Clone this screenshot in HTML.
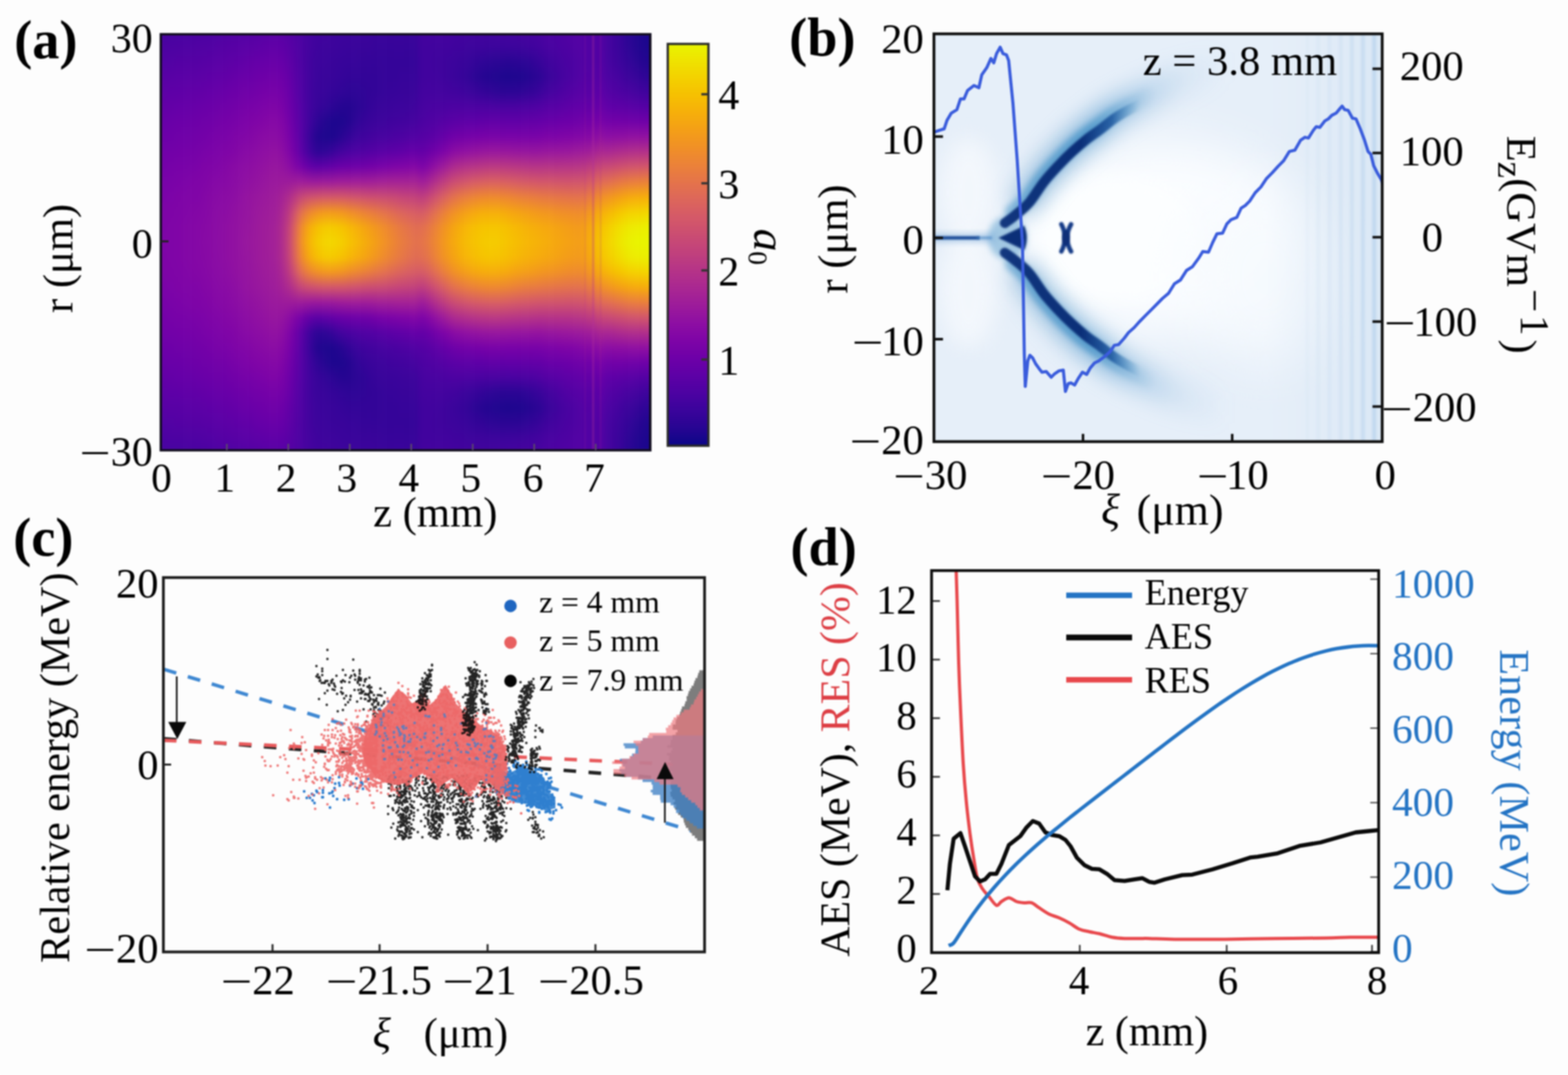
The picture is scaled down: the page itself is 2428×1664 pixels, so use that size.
<!DOCTYPE html>
<html lang="en"><head><meta charset="utf-8"><title>Figure</title>
<style>
html,body{margin:0;padding:0;background:#fdfdfd;}
body{width:2428px;height:1664px;overflow:hidden;}
svg{display:block;filter:blur(1px);}
text{font-family:"Liberation Serif","DejaVu Serif",serif;fill:#000;}
.t{font-size:66px;}
.pl{font-size:84px;font-weight:bold;}
</style></head><body>
<svg width="2428" height="1664" viewBox="0 0 2428 1664">
<rect x="0" y="0" width="2428" height="1664" fill="#fdfdfd"/>

<defs></defs>
<g id="pa">
<defs><linearGradient id="h0" x1="0" y1="0" x2="0" y2="1"><stop offset="0" stop-color="#4703a0"/><stop offset="0.0357" stop-color="#4c02a2"/><stop offset="0.0714" stop-color="#5202a4"/><stop offset="0.107" stop-color="#5801a5"/><stop offset="0.143" stop-color="#5d01a6"/><stop offset="0.179" stop-color="#6300a7"/><stop offset="0.214" stop-color="#6800a8"/><stop offset="0.25" stop-color="#6d00a8"/><stop offset="0.286" stop-color="#7201a8"/><stop offset="0.321" stop-color="#7501a8"/><stop offset="0.357" stop-color="#7903a8"/><stop offset="0.393" stop-color="#7b03a8"/><stop offset="0.429" stop-color="#7e04a7"/><stop offset="0.464" stop-color="#7e04a7"/><stop offset="0.5" stop-color="#7f05a7"/><stop offset="0.536" stop-color="#7e04a7"/><stop offset="0.571" stop-color="#7e04a7"/><stop offset="0.607" stop-color="#7b03a8"/><stop offset="0.643" stop-color="#7802a8"/><stop offset="0.679" stop-color="#7501a8"/><stop offset="0.714" stop-color="#7201a8"/><stop offset="0.75" stop-color="#6d00a8"/><stop offset="0.786" stop-color="#6800a8"/><stop offset="0.821" stop-color="#6300a7"/><stop offset="0.857" stop-color="#5d01a6"/><stop offset="0.893" stop-color="#5801a5"/><stop offset="0.929" stop-color="#5202a4"/><stop offset="0.964" stop-color="#4c02a2"/><stop offset="1" stop-color="#4703a0"/></linearGradient><linearGradient id="h1" x1="0" y1="0" x2="0" y2="1"><stop offset="0" stop-color="#4703a0"/><stop offset="0.0357" stop-color="#4c02a2"/><stop offset="0.0714" stop-color="#5202a4"/><stop offset="0.107" stop-color="#5801a5"/><stop offset="0.143" stop-color="#5d01a6"/><stop offset="0.179" stop-color="#6300a7"/><stop offset="0.214" stop-color="#6800a8"/><stop offset="0.25" stop-color="#6d00a8"/><stop offset="0.286" stop-color="#7201a8"/><stop offset="0.321" stop-color="#7501a8"/><stop offset="0.357" stop-color="#7903a8"/><stop offset="0.393" stop-color="#7b03a8"/><stop offset="0.429" stop-color="#7e04a7"/><stop offset="0.464" stop-color="#7e04a7"/><stop offset="0.5" stop-color="#7f05a7"/><stop offset="0.536" stop-color="#7e04a7"/><stop offset="0.571" stop-color="#7e04a7"/><stop offset="0.607" stop-color="#7b03a8"/><stop offset="0.643" stop-color="#7802a8"/><stop offset="0.679" stop-color="#7501a8"/><stop offset="0.714" stop-color="#7201a8"/><stop offset="0.75" stop-color="#6d00a8"/><stop offset="0.786" stop-color="#6800a8"/><stop offset="0.821" stop-color="#6300a7"/><stop offset="0.857" stop-color="#5d01a6"/><stop offset="0.893" stop-color="#5801a5"/><stop offset="0.929" stop-color="#5202a4"/><stop offset="0.964" stop-color="#4c02a2"/><stop offset="1" stop-color="#4703a0"/></linearGradient><linearGradient id="h2" x1="0" y1="0" x2="0" y2="1"><stop offset="0" stop-color="#4703a0"/><stop offset="0.0357" stop-color="#4d02a2"/><stop offset="0.0714" stop-color="#5202a4"/><stop offset="0.107" stop-color="#5801a5"/><stop offset="0.143" stop-color="#5e00a7"/><stop offset="0.179" stop-color="#6300a7"/><stop offset="0.214" stop-color="#6900a8"/><stop offset="0.25" stop-color="#6d00a8"/><stop offset="0.286" stop-color="#7201a8"/><stop offset="0.321" stop-color="#7602a8"/><stop offset="0.357" stop-color="#7903a8"/><stop offset="0.393" stop-color="#7c04a8"/><stop offset="0.429" stop-color="#7e04a7"/><stop offset="0.464" stop-color="#7f05a7"/><stop offset="0.5" stop-color="#7f05a7"/><stop offset="0.536" stop-color="#7f05a7"/><stop offset="0.571" stop-color="#7e04a7"/><stop offset="0.607" stop-color="#7c04a8"/><stop offset="0.643" stop-color="#7903a8"/><stop offset="0.679" stop-color="#7602a8"/><stop offset="0.714" stop-color="#7201a8"/><stop offset="0.75" stop-color="#6d00a8"/><stop offset="0.786" stop-color="#6900a8"/><stop offset="0.821" stop-color="#6300a7"/><stop offset="0.857" stop-color="#5e00a7"/><stop offset="0.893" stop-color="#5801a5"/><stop offset="0.929" stop-color="#5202a4"/><stop offset="0.964" stop-color="#4d02a2"/><stop offset="1" stop-color="#4703a0"/></linearGradient><linearGradient id="h3" x1="0" y1="0" x2="0" y2="1"><stop offset="0" stop-color="#4903a1"/><stop offset="0.0357" stop-color="#4d02a2"/><stop offset="0.0714" stop-color="#5401a4"/><stop offset="0.107" stop-color="#5a01a6"/><stop offset="0.143" stop-color="#5e00a7"/><stop offset="0.179" stop-color="#6500a8"/><stop offset="0.214" stop-color="#6b00a8"/><stop offset="0.25" stop-color="#6f01a8"/><stop offset="0.286" stop-color="#7301a8"/><stop offset="0.321" stop-color="#7802a8"/><stop offset="0.357" stop-color="#7b03a8"/><stop offset="0.393" stop-color="#7e04a7"/><stop offset="0.429" stop-color="#7f05a7"/><stop offset="0.464" stop-color="#8005a7"/><stop offset="0.5" stop-color="#8005a7"/><stop offset="0.536" stop-color="#8005a7"/><stop offset="0.571" stop-color="#7f05a7"/><stop offset="0.607" stop-color="#7e04a7"/><stop offset="0.643" stop-color="#7b03a8"/><stop offset="0.679" stop-color="#7802a8"/><stop offset="0.714" stop-color="#7301a8"/><stop offset="0.75" stop-color="#6f01a8"/><stop offset="0.786" stop-color="#6900a8"/><stop offset="0.821" stop-color="#6500a8"/><stop offset="0.857" stop-color="#5e00a7"/><stop offset="0.893" stop-color="#5801a5"/><stop offset="0.929" stop-color="#5401a4"/><stop offset="0.964" stop-color="#4d02a2"/><stop offset="1" stop-color="#4703a0"/></linearGradient><linearGradient id="h4" x1="0" y1="0" x2="0" y2="1"><stop offset="0" stop-color="#4903a1"/><stop offset="0.0357" stop-color="#4f02a3"/><stop offset="0.0714" stop-color="#5401a4"/><stop offset="0.107" stop-color="#5a01a6"/><stop offset="0.143" stop-color="#6000a7"/><stop offset="0.179" stop-color="#6600a8"/><stop offset="0.214" stop-color="#6b00a8"/><stop offset="0.25" stop-color="#7001a8"/><stop offset="0.286" stop-color="#7501a8"/><stop offset="0.321" stop-color="#7802a8"/><stop offset="0.357" stop-color="#7c04a8"/><stop offset="0.393" stop-color="#7f05a7"/><stop offset="0.429" stop-color="#8005a7"/><stop offset="0.464" stop-color="#8206a6"/><stop offset="0.5" stop-color="#8206a6"/><stop offset="0.536" stop-color="#8206a6"/><stop offset="0.571" stop-color="#8005a7"/><stop offset="0.607" stop-color="#7f05a7"/><stop offset="0.643" stop-color="#7c04a8"/><stop offset="0.679" stop-color="#7802a8"/><stop offset="0.714" stop-color="#7501a8"/><stop offset="0.75" stop-color="#7001a8"/><stop offset="0.786" stop-color="#6b00a8"/><stop offset="0.821" stop-color="#6600a8"/><stop offset="0.857" stop-color="#6000a7"/><stop offset="0.893" stop-color="#5a01a6"/><stop offset="0.929" stop-color="#5401a4"/><stop offset="0.964" stop-color="#4d02a2"/><stop offset="1" stop-color="#4903a1"/></linearGradient><linearGradient id="h5" x1="0" y1="0" x2="0" y2="1"><stop offset="0" stop-color="#4903a1"/><stop offset="0.0357" stop-color="#4f02a3"/><stop offset="0.0714" stop-color="#5501a4"/><stop offset="0.107" stop-color="#5b01a6"/><stop offset="0.143" stop-color="#6100a7"/><stop offset="0.179" stop-color="#6600a8"/><stop offset="0.214" stop-color="#6c00a8"/><stop offset="0.25" stop-color="#7001a8"/><stop offset="0.286" stop-color="#7501a8"/><stop offset="0.321" stop-color="#7903a8"/><stop offset="0.357" stop-color="#7e04a7"/><stop offset="0.393" stop-color="#8005a7"/><stop offset="0.429" stop-color="#8206a6"/><stop offset="0.464" stop-color="#8307a6"/><stop offset="0.5" stop-color="#8307a6"/><stop offset="0.536" stop-color="#8307a6"/><stop offset="0.571" stop-color="#8206a6"/><stop offset="0.607" stop-color="#7f05a7"/><stop offset="0.643" stop-color="#7e04a7"/><stop offset="0.679" stop-color="#7903a8"/><stop offset="0.714" stop-color="#7501a8"/><stop offset="0.75" stop-color="#7001a8"/><stop offset="0.786" stop-color="#6c00a8"/><stop offset="0.821" stop-color="#6600a8"/><stop offset="0.857" stop-color="#6000a7"/><stop offset="0.893" stop-color="#5b01a6"/><stop offset="0.929" stop-color="#5501a4"/><stop offset="0.964" stop-color="#4f02a3"/><stop offset="1" stop-color="#4903a1"/></linearGradient><linearGradient id="h6" x1="0" y1="0" x2="0" y2="1"><stop offset="0" stop-color="#4a02a1"/><stop offset="0.0357" stop-color="#5102a3"/><stop offset="0.0714" stop-color="#5501a4"/><stop offset="0.107" stop-color="#5b01a6"/><stop offset="0.143" stop-color="#6100a7"/><stop offset="0.179" stop-color="#6800a8"/><stop offset="0.214" stop-color="#6d00a8"/><stop offset="0.25" stop-color="#7201a8"/><stop offset="0.286" stop-color="#7602a8"/><stop offset="0.321" stop-color="#7b03a8"/><stop offset="0.357" stop-color="#7f05a7"/><stop offset="0.393" stop-color="#8005a7"/><stop offset="0.429" stop-color="#8307a6"/><stop offset="0.464" stop-color="#8508a6"/><stop offset="0.5" stop-color="#8508a6"/><stop offset="0.536" stop-color="#8508a6"/><stop offset="0.571" stop-color="#8307a6"/><stop offset="0.607" stop-color="#8005a7"/><stop offset="0.643" stop-color="#7e04a7"/><stop offset="0.679" stop-color="#7b03a8"/><stop offset="0.714" stop-color="#7602a8"/><stop offset="0.75" stop-color="#7201a8"/><stop offset="0.786" stop-color="#6d00a8"/><stop offset="0.821" stop-color="#6800a8"/><stop offset="0.857" stop-color="#6100a7"/><stop offset="0.893" stop-color="#5b01a6"/><stop offset="0.929" stop-color="#5501a4"/><stop offset="0.964" stop-color="#4f02a3"/><stop offset="1" stop-color="#4a02a1"/></linearGradient><linearGradient id="h7" x1="0" y1="0" x2="0" y2="1"><stop offset="0" stop-color="#4c02a2"/><stop offset="0.0357" stop-color="#5102a3"/><stop offset="0.0714" stop-color="#5701a5"/><stop offset="0.107" stop-color="#5d01a6"/><stop offset="0.143" stop-color="#6300a7"/><stop offset="0.179" stop-color="#6900a8"/><stop offset="0.214" stop-color="#6f01a8"/><stop offset="0.25" stop-color="#7301a8"/><stop offset="0.286" stop-color="#7903a8"/><stop offset="0.321" stop-color="#7e04a7"/><stop offset="0.357" stop-color="#8005a7"/><stop offset="0.393" stop-color="#8307a6"/><stop offset="0.429" stop-color="#8508a6"/><stop offset="0.464" stop-color="#8609a5"/><stop offset="0.5" stop-color="#870aa5"/><stop offset="0.536" stop-color="#8609a5"/><stop offset="0.571" stop-color="#8508a6"/><stop offset="0.607" stop-color="#8307a6"/><stop offset="0.643" stop-color="#8005a7"/><stop offset="0.679" stop-color="#7c04a8"/><stop offset="0.714" stop-color="#7903a8"/><stop offset="0.75" stop-color="#7301a8"/><stop offset="0.786" stop-color="#6f01a8"/><stop offset="0.821" stop-color="#6900a8"/><stop offset="0.857" stop-color="#6300a7"/><stop offset="0.893" stop-color="#5d01a6"/><stop offset="0.929" stop-color="#5701a5"/><stop offset="0.964" stop-color="#5102a3"/><stop offset="1" stop-color="#4a02a1"/></linearGradient><linearGradient id="h8" x1="0" y1="0" x2="0" y2="1"><stop offset="0" stop-color="#4c02a2"/><stop offset="0.0357" stop-color="#5202a4"/><stop offset="0.0714" stop-color="#5801a5"/><stop offset="0.107" stop-color="#5e00a7"/><stop offset="0.143" stop-color="#6500a8"/><stop offset="0.179" stop-color="#6b00a8"/><stop offset="0.214" stop-color="#7001a8"/><stop offset="0.25" stop-color="#7602a8"/><stop offset="0.286" stop-color="#7b03a8"/><stop offset="0.321" stop-color="#7f05a7"/><stop offset="0.357" stop-color="#8307a6"/><stop offset="0.393" stop-color="#8609a5"/><stop offset="0.429" stop-color="#870aa5"/><stop offset="0.464" stop-color="#890ba5"/><stop offset="0.5" stop-color="#890ba5"/><stop offset="0.536" stop-color="#890ba5"/><stop offset="0.571" stop-color="#870aa5"/><stop offset="0.607" stop-color="#8508a6"/><stop offset="0.643" stop-color="#8206a6"/><stop offset="0.679" stop-color="#7f05a7"/><stop offset="0.714" stop-color="#7b03a8"/><stop offset="0.75" stop-color="#7602a8"/><stop offset="0.786" stop-color="#7001a8"/><stop offset="0.821" stop-color="#6b00a8"/><stop offset="0.857" stop-color="#6500a8"/><stop offset="0.893" stop-color="#5e00a7"/><stop offset="0.929" stop-color="#5801a5"/><stop offset="0.964" stop-color="#5202a4"/><stop offset="1" stop-color="#4c02a2"/></linearGradient><linearGradient id="h9" x1="0" y1="0" x2="0" y2="1"><stop offset="0" stop-color="#4d02a2"/><stop offset="0.0357" stop-color="#5401a4"/><stop offset="0.0714" stop-color="#5a01a6"/><stop offset="0.107" stop-color="#6000a7"/><stop offset="0.143" stop-color="#6600a8"/><stop offset="0.179" stop-color="#6c00a8"/><stop offset="0.214" stop-color="#7201a8"/><stop offset="0.25" stop-color="#7802a8"/><stop offset="0.286" stop-color="#7c04a8"/><stop offset="0.321" stop-color="#8005a7"/><stop offset="0.357" stop-color="#8508a6"/><stop offset="0.393" stop-color="#870aa5"/><stop offset="0.429" stop-color="#8a0ca4"/><stop offset="0.464" stop-color="#8a0ca4"/><stop offset="0.5" stop-color="#8b0da4"/><stop offset="0.536" stop-color="#8a0ca4"/><stop offset="0.571" stop-color="#890ba5"/><stop offset="0.607" stop-color="#870aa5"/><stop offset="0.643" stop-color="#8508a6"/><stop offset="0.679" stop-color="#8005a7"/><stop offset="0.714" stop-color="#7c04a8"/><stop offset="0.75" stop-color="#7802a8"/><stop offset="0.786" stop-color="#7201a8"/><stop offset="0.821" stop-color="#6c00a8"/><stop offset="0.857" stop-color="#6600a8"/><stop offset="0.893" stop-color="#6000a7"/><stop offset="0.929" stop-color="#5a01a6"/><stop offset="0.964" stop-color="#5401a4"/><stop offset="1" stop-color="#4d02a2"/></linearGradient><linearGradient id="h10" x1="0" y1="0" x2="0" y2="1"><stop offset="0" stop-color="#4f02a3"/><stop offset="0.0357" stop-color="#5501a4"/><stop offset="0.0714" stop-color="#5b01a6"/><stop offset="0.107" stop-color="#6100a7"/><stop offset="0.143" stop-color="#6800a8"/><stop offset="0.179" stop-color="#6f01a8"/><stop offset="0.214" stop-color="#7501a8"/><stop offset="0.25" stop-color="#7903a8"/><stop offset="0.286" stop-color="#7f05a7"/><stop offset="0.321" stop-color="#8307a6"/><stop offset="0.357" stop-color="#8609a5"/><stop offset="0.393" stop-color="#8a0ca4"/><stop offset="0.429" stop-color="#8b0da4"/><stop offset="0.464" stop-color="#8d0ea3"/><stop offset="0.5" stop-color="#8d0ea3"/><stop offset="0.536" stop-color="#8d0ea3"/><stop offset="0.571" stop-color="#8b0da4"/><stop offset="0.607" stop-color="#890ba5"/><stop offset="0.643" stop-color="#8609a5"/><stop offset="0.679" stop-color="#8307a6"/><stop offset="0.714" stop-color="#7f05a7"/><stop offset="0.75" stop-color="#7903a8"/><stop offset="0.786" stop-color="#7301a8"/><stop offset="0.821" stop-color="#6d00a8"/><stop offset="0.857" stop-color="#6800a8"/><stop offset="0.893" stop-color="#6100a7"/><stop offset="0.929" stop-color="#5b01a6"/><stop offset="0.964" stop-color="#5501a4"/><stop offset="1" stop-color="#4d02a2"/></linearGradient><linearGradient id="h11" x1="0" y1="0" x2="0" y2="1"><stop offset="0" stop-color="#5102a3"/><stop offset="0.0357" stop-color="#5701a5"/><stop offset="0.0714" stop-color="#5d01a6"/><stop offset="0.107" stop-color="#6300a7"/><stop offset="0.143" stop-color="#6b00a8"/><stop offset="0.179" stop-color="#7001a8"/><stop offset="0.214" stop-color="#7602a8"/><stop offset="0.25" stop-color="#7c04a8"/><stop offset="0.286" stop-color="#8005a7"/><stop offset="0.321" stop-color="#8609a5"/><stop offset="0.357" stop-color="#890ba5"/><stop offset="0.393" stop-color="#8b0da4"/><stop offset="0.429" stop-color="#8e0fa3"/><stop offset="0.464" stop-color="#9010a2"/><stop offset="0.5" stop-color="#9010a2"/><stop offset="0.536" stop-color="#9010a2"/><stop offset="0.571" stop-color="#8e0fa3"/><stop offset="0.607" stop-color="#8b0da4"/><stop offset="0.643" stop-color="#890ba5"/><stop offset="0.679" stop-color="#8508a6"/><stop offset="0.714" stop-color="#8005a7"/><stop offset="0.75" stop-color="#7c04a8"/><stop offset="0.786" stop-color="#7602a8"/><stop offset="0.821" stop-color="#7001a8"/><stop offset="0.857" stop-color="#6900a8"/><stop offset="0.893" stop-color="#6300a7"/><stop offset="0.929" stop-color="#5d01a6"/><stop offset="0.964" stop-color="#5701a5"/><stop offset="1" stop-color="#4f02a3"/></linearGradient><linearGradient id="h12" x1="0" y1="0" x2="0" y2="1"><stop offset="0" stop-color="#5202a4"/><stop offset="0.0357" stop-color="#5801a5"/><stop offset="0.0714" stop-color="#5e00a7"/><stop offset="0.107" stop-color="#6600a8"/><stop offset="0.143" stop-color="#6c00a8"/><stop offset="0.179" stop-color="#7301a8"/><stop offset="0.214" stop-color="#7903a8"/><stop offset="0.25" stop-color="#7f05a7"/><stop offset="0.286" stop-color="#8307a6"/><stop offset="0.321" stop-color="#890ba5"/><stop offset="0.357" stop-color="#8b0da4"/><stop offset="0.393" stop-color="#8e0fa3"/><stop offset="0.429" stop-color="#9111a1"/><stop offset="0.464" stop-color="#9212a1"/><stop offset="0.5" stop-color="#9212a1"/><stop offset="0.536" stop-color="#9212a1"/><stop offset="0.571" stop-color="#9111a1"/><stop offset="0.607" stop-color="#8e0fa3"/><stop offset="0.643" stop-color="#8b0da4"/><stop offset="0.679" stop-color="#870aa5"/><stop offset="0.714" stop-color="#8307a6"/><stop offset="0.75" stop-color="#7f05a7"/><stop offset="0.786" stop-color="#7903a8"/><stop offset="0.821" stop-color="#7201a8"/><stop offset="0.857" stop-color="#6c00a8"/><stop offset="0.893" stop-color="#6500a8"/><stop offset="0.929" stop-color="#5e00a7"/><stop offset="0.964" stop-color="#5801a5"/><stop offset="1" stop-color="#5102a3"/></linearGradient><linearGradient id="h13" x1="0" y1="0" x2="0" y2="1"><stop offset="0" stop-color="#5202a4"/><stop offset="0.0357" stop-color="#5a01a6"/><stop offset="0.0714" stop-color="#6000a7"/><stop offset="0.107" stop-color="#6800a8"/><stop offset="0.143" stop-color="#6f01a8"/><stop offset="0.179" stop-color="#7501a8"/><stop offset="0.214" stop-color="#7b03a8"/><stop offset="0.25" stop-color="#8005a7"/><stop offset="0.286" stop-color="#8609a5"/><stop offset="0.321" stop-color="#8b0da4"/><stop offset="0.357" stop-color="#8e0fa3"/><stop offset="0.393" stop-color="#9212a1"/><stop offset="0.429" stop-color="#9313a0"/><stop offset="0.464" stop-color="#95149f"/><stop offset="0.5" stop-color="#96169f"/><stop offset="0.536" stop-color="#95149f"/><stop offset="0.571" stop-color="#9313a0"/><stop offset="0.607" stop-color="#9212a1"/><stop offset="0.643" stop-color="#8e0fa3"/><stop offset="0.679" stop-color="#8a0ca4"/><stop offset="0.714" stop-color="#8609a5"/><stop offset="0.75" stop-color="#8005a7"/><stop offset="0.786" stop-color="#7b03a8"/><stop offset="0.821" stop-color="#7501a8"/><stop offset="0.857" stop-color="#6d00a8"/><stop offset="0.893" stop-color="#6800a8"/><stop offset="0.929" stop-color="#6000a7"/><stop offset="0.964" stop-color="#5a01a6"/><stop offset="1" stop-color="#5202a4"/></linearGradient><linearGradient id="h14" x1="0" y1="0" x2="0" y2="1"><stop offset="0" stop-color="#5401a4"/><stop offset="0.0357" stop-color="#5b01a6"/><stop offset="0.0714" stop-color="#6300a7"/><stop offset="0.107" stop-color="#6900a8"/><stop offset="0.143" stop-color="#7001a8"/><stop offset="0.179" stop-color="#7802a8"/><stop offset="0.214" stop-color="#7e04a7"/><stop offset="0.25" stop-color="#8307a6"/><stop offset="0.286" stop-color="#890ba5"/><stop offset="0.321" stop-color="#8d0ea3"/><stop offset="0.357" stop-color="#9111a1"/><stop offset="0.393" stop-color="#95149f"/><stop offset="0.429" stop-color="#96169f"/><stop offset="0.464" stop-color="#97179e"/><stop offset="0.5" stop-color="#99189d"/><stop offset="0.536" stop-color="#97179e"/><stop offset="0.571" stop-color="#96169f"/><stop offset="0.607" stop-color="#95149f"/><stop offset="0.643" stop-color="#9111a1"/><stop offset="0.679" stop-color="#8d0ea3"/><stop offset="0.714" stop-color="#890ba5"/><stop offset="0.75" stop-color="#8307a6"/><stop offset="0.786" stop-color="#7e04a7"/><stop offset="0.821" stop-color="#7602a8"/><stop offset="0.857" stop-color="#7001a8"/><stop offset="0.893" stop-color="#6900a8"/><stop offset="0.929" stop-color="#6100a7"/><stop offset="0.964" stop-color="#5b01a6"/><stop offset="1" stop-color="#5401a4"/></linearGradient><linearGradient id="h15" x1="0" y1="0" x2="0" y2="1"><stop offset="0" stop-color="#5501a4"/><stop offset="0.0357" stop-color="#5d01a6"/><stop offset="0.0714" stop-color="#6500a8"/><stop offset="0.107" stop-color="#6c00a8"/><stop offset="0.143" stop-color="#7201a8"/><stop offset="0.179" stop-color="#7903a8"/><stop offset="0.214" stop-color="#8005a7"/><stop offset="0.25" stop-color="#8609a5"/><stop offset="0.286" stop-color="#8b0da4"/><stop offset="0.321" stop-color="#9010a2"/><stop offset="0.357" stop-color="#9313a0"/><stop offset="0.393" stop-color="#97179e"/><stop offset="0.429" stop-color="#9a199d"/><stop offset="0.464" stop-color="#9b1a9c"/><stop offset="0.5" stop-color="#9b1a9c"/><stop offset="0.536" stop-color="#9b1a9c"/><stop offset="0.571" stop-color="#99189d"/><stop offset="0.607" stop-color="#97179e"/><stop offset="0.643" stop-color="#9313a0"/><stop offset="0.679" stop-color="#9010a2"/><stop offset="0.714" stop-color="#8b0da4"/><stop offset="0.75" stop-color="#8609a5"/><stop offset="0.786" stop-color="#8005a7"/><stop offset="0.821" stop-color="#7903a8"/><stop offset="0.857" stop-color="#7201a8"/><stop offset="0.893" stop-color="#6b00a8"/><stop offset="0.929" stop-color="#6500a8"/><stop offset="0.964" stop-color="#5d01a6"/><stop offset="1" stop-color="#5501a4"/></linearGradient><linearGradient id="h16" x1="0" y1="0" x2="0" y2="1"><stop offset="0" stop-color="#5701a5"/><stop offset="0.0357" stop-color="#5e00a7"/><stop offset="0.0714" stop-color="#6600a8"/><stop offset="0.107" stop-color="#6d00a8"/><stop offset="0.143" stop-color="#7501a8"/><stop offset="0.179" stop-color="#7c04a8"/><stop offset="0.214" stop-color="#8206a6"/><stop offset="0.25" stop-color="#890ba5"/><stop offset="0.286" stop-color="#8e0fa3"/><stop offset="0.321" stop-color="#9212a1"/><stop offset="0.357" stop-color="#96169f"/><stop offset="0.393" stop-color="#9a199d"/><stop offset="0.429" stop-color="#9c1b9b"/><stop offset="0.464" stop-color="#9e1c9a"/><stop offset="0.5" stop-color="#9e1c9a"/><stop offset="0.536" stop-color="#9e1c9a"/><stop offset="0.571" stop-color="#9c1b9b"/><stop offset="0.607" stop-color="#9a199d"/><stop offset="0.643" stop-color="#96169f"/><stop offset="0.679" stop-color="#9212a1"/><stop offset="0.714" stop-color="#8d0ea3"/><stop offset="0.75" stop-color="#870aa5"/><stop offset="0.786" stop-color="#8206a6"/><stop offset="0.821" stop-color="#7b03a8"/><stop offset="0.857" stop-color="#7301a8"/><stop offset="0.893" stop-color="#6d00a8"/><stop offset="0.929" stop-color="#6600a8"/><stop offset="0.964" stop-color="#5e00a7"/><stop offset="1" stop-color="#5701a5"/></linearGradient><linearGradient id="h17" x1="0" y1="0" x2="0" y2="1"><stop offset="0" stop-color="#5801a5"/><stop offset="0.0357" stop-color="#6000a7"/><stop offset="0.0714" stop-color="#6800a8"/><stop offset="0.107" stop-color="#6f01a8"/><stop offset="0.143" stop-color="#7602a8"/><stop offset="0.179" stop-color="#7e04a7"/><stop offset="0.214" stop-color="#8508a6"/><stop offset="0.25" stop-color="#8a0ca4"/><stop offset="0.286" stop-color="#9010a2"/><stop offset="0.321" stop-color="#95149f"/><stop offset="0.357" stop-color="#99189d"/><stop offset="0.393" stop-color="#9c1b9b"/><stop offset="0.429" stop-color="#9f1d9a"/><stop offset="0.464" stop-color="#a01e99"/><stop offset="0.5" stop-color="#a11f98"/><stop offset="0.536" stop-color="#a01e99"/><stop offset="0.571" stop-color="#9f1d9a"/><stop offset="0.607" stop-color="#9c1b9b"/><stop offset="0.643" stop-color="#99189d"/><stop offset="0.679" stop-color="#95149f"/><stop offset="0.714" stop-color="#9010a2"/><stop offset="0.75" stop-color="#8a0ca4"/><stop offset="0.786" stop-color="#8307a6"/><stop offset="0.821" stop-color="#7e04a7"/><stop offset="0.857" stop-color="#7602a8"/><stop offset="0.893" stop-color="#6f01a8"/><stop offset="0.929" stop-color="#6800a8"/><stop offset="0.964" stop-color="#6000a7"/><stop offset="1" stop-color="#5801a5"/></linearGradient><linearGradient id="h18" x1="0" y1="0" x2="0" y2="1"><stop offset="0" stop-color="#5a01a6"/><stop offset="0.0357" stop-color="#6000a7"/><stop offset="0.0714" stop-color="#6800a8"/><stop offset="0.107" stop-color="#6f01a8"/><stop offset="0.143" stop-color="#7602a8"/><stop offset="0.179" stop-color="#7e04a7"/><stop offset="0.214" stop-color="#8508a6"/><stop offset="0.25" stop-color="#8a0ca4"/><stop offset="0.286" stop-color="#9111a1"/><stop offset="0.321" stop-color="#96169f"/><stop offset="0.357" stop-color="#9a199d"/><stop offset="0.393" stop-color="#9f1d9a"/><stop offset="0.429" stop-color="#a11f98"/><stop offset="0.464" stop-color="#a42296"/><stop offset="0.5" stop-color="#a42296"/><stop offset="0.536" stop-color="#a42296"/><stop offset="0.571" stop-color="#a11f98"/><stop offset="0.607" stop-color="#9f1d9a"/><stop offset="0.643" stop-color="#9a199d"/><stop offset="0.679" stop-color="#96169f"/><stop offset="0.714" stop-color="#9111a1"/><stop offset="0.75" stop-color="#8a0ca4"/><stop offset="0.786" stop-color="#8508a6"/><stop offset="0.821" stop-color="#7e04a7"/><stop offset="0.857" stop-color="#7602a8"/><stop offset="0.893" stop-color="#6f01a8"/><stop offset="0.929" stop-color="#6800a8"/><stop offset="0.964" stop-color="#6000a7"/><stop offset="1" stop-color="#5801a5"/></linearGradient><linearGradient id="h19" x1="0" y1="0" x2="0" y2="1"><stop offset="0" stop-color="#5801a5"/><stop offset="0.0357" stop-color="#5e00a7"/><stop offset="0.0714" stop-color="#6500a8"/><stop offset="0.107" stop-color="#6c00a8"/><stop offset="0.143" stop-color="#7201a8"/><stop offset="0.179" stop-color="#7802a8"/><stop offset="0.214" stop-color="#7f05a7"/><stop offset="0.25" stop-color="#8508a6"/><stop offset="0.286" stop-color="#8b0da4"/><stop offset="0.321" stop-color="#9313a0"/><stop offset="0.357" stop-color="#9c1b9b"/><stop offset="0.393" stop-color="#a62494"/><stop offset="0.429" stop-color="#ad2b8f"/><stop offset="0.464" stop-color="#b12f8b"/><stop offset="0.5" stop-color="#b2308a"/><stop offset="0.536" stop-color="#b12f8b"/><stop offset="0.571" stop-color="#ad2b8f"/><stop offset="0.607" stop-color="#a62494"/><stop offset="0.643" stop-color="#9c1b9b"/><stop offset="0.679" stop-color="#9313a0"/><stop offset="0.714" stop-color="#8b0da4"/><stop offset="0.75" stop-color="#8508a6"/><stop offset="0.786" stop-color="#7e04a7"/><stop offset="0.821" stop-color="#7802a8"/><stop offset="0.857" stop-color="#7201a8"/><stop offset="0.893" stop-color="#6b00a8"/><stop offset="0.929" stop-color="#6500a8"/><stop offset="0.964" stop-color="#5e00a7"/><stop offset="1" stop-color="#5701a5"/></linearGradient><linearGradient id="h20" x1="0" y1="0" x2="0" y2="1"><stop offset="0" stop-color="#5401a4"/><stop offset="0.0357" stop-color="#5801a5"/><stop offset="0.0714" stop-color="#5d01a6"/><stop offset="0.107" stop-color="#6300a7"/><stop offset="0.143" stop-color="#6800a8"/><stop offset="0.179" stop-color="#6c00a8"/><stop offset="0.214" stop-color="#7201a8"/><stop offset="0.25" stop-color="#7802a8"/><stop offset="0.286" stop-color="#7f05a7"/><stop offset="0.321" stop-color="#8b0da4"/><stop offset="0.357" stop-color="#9c1b9b"/><stop offset="0.393" stop-color="#b02e8c"/><stop offset="0.429" stop-color="#be3d7f"/><stop offset="0.464" stop-color="#c74777"/><stop offset="0.5" stop-color="#c94a75"/><stop offset="0.536" stop-color="#c74777"/><stop offset="0.571" stop-color="#be3d7f"/><stop offset="0.607" stop-color="#af2d8d"/><stop offset="0.643" stop-color="#9c1b9b"/><stop offset="0.679" stop-color="#8a0ca4"/><stop offset="0.714" stop-color="#7f05a7"/><stop offset="0.75" stop-color="#7802a8"/><stop offset="0.786" stop-color="#7201a8"/><stop offset="0.821" stop-color="#6c00a8"/><stop offset="0.857" stop-color="#6800a8"/><stop offset="0.893" stop-color="#6100a7"/><stop offset="0.929" stop-color="#5d01a6"/><stop offset="0.964" stop-color="#5801a5"/><stop offset="1" stop-color="#5401a4"/></linearGradient><linearGradient id="h21" x1="0" y1="0" x2="0" y2="1"><stop offset="0" stop-color="#4f02a3"/><stop offset="0.0357" stop-color="#5202a4"/><stop offset="0.0714" stop-color="#5401a4"/><stop offset="0.107" stop-color="#5701a5"/><stop offset="0.143" stop-color="#5a01a6"/><stop offset="0.179" stop-color="#5e00a7"/><stop offset="0.214" stop-color="#6100a7"/><stop offset="0.25" stop-color="#6600a8"/><stop offset="0.286" stop-color="#6d00a8"/><stop offset="0.321" stop-color="#7f05a7"/><stop offset="0.357" stop-color="#9f1d9a"/><stop offset="0.393" stop-color="#be3d7f"/><stop offset="0.429" stop-color="#d65c66"/><stop offset="0.464" stop-color="#e26e51"/><stop offset="0.5" stop-color="#e4734b"/><stop offset="0.536" stop-color="#e26e51"/><stop offset="0.571" stop-color="#d55b67"/><stop offset="0.607" stop-color="#bd3c80"/><stop offset="0.643" stop-color="#9c1b9b"/><stop offset="0.679" stop-color="#7e04a7"/><stop offset="0.714" stop-color="#6c00a8"/><stop offset="0.75" stop-color="#6600a8"/><stop offset="0.786" stop-color="#6100a7"/><stop offset="0.821" stop-color="#5e00a7"/><stop offset="0.857" stop-color="#5a01a6"/><stop offset="0.893" stop-color="#5701a5"/><stop offset="0.929" stop-color="#5401a4"/><stop offset="0.964" stop-color="#5202a4"/><stop offset="1" stop-color="#4f02a3"/></linearGradient><linearGradient id="h22" x1="0" y1="0" x2="0" y2="1"><stop offset="0" stop-color="#4903a1"/><stop offset="0.0357" stop-color="#4a02a1"/><stop offset="0.0714" stop-color="#4a02a1"/><stop offset="0.107" stop-color="#4c02a2"/><stop offset="0.143" stop-color="#4d02a2"/><stop offset="0.179" stop-color="#4f02a3"/><stop offset="0.214" stop-color="#5102a3"/><stop offset="0.25" stop-color="#5102a3"/><stop offset="0.286" stop-color="#5701a5"/><stop offset="0.321" stop-color="#7201a8"/><stop offset="0.357" stop-color="#9f1d9a"/><stop offset="0.393" stop-color="#c94b74"/><stop offset="0.429" stop-color="#e57648"/><stop offset="0.464" stop-color="#f19225"/><stop offset="0.5" stop-color="#f3991d"/><stop offset="0.536" stop-color="#f09026"/><stop offset="0.571" stop-color="#e5744a"/><stop offset="0.607" stop-color="#c84976"/><stop offset="0.643" stop-color="#9c1b9b"/><stop offset="0.679" stop-color="#7001a8"/><stop offset="0.714" stop-color="#5701a5"/><stop offset="0.75" stop-color="#5102a3"/><stop offset="0.786" stop-color="#5102a3"/><stop offset="0.821" stop-color="#4f02a3"/><stop offset="0.857" stop-color="#4d02a2"/><stop offset="0.893" stop-color="#4c02a2"/><stop offset="0.929" stop-color="#4a02a1"/><stop offset="0.964" stop-color="#4a02a1"/><stop offset="1" stop-color="#4903a1"/></linearGradient><linearGradient id="h23" x1="0" y1="0" x2="0" y2="1"><stop offset="0" stop-color="#44039f"/><stop offset="0.0357" stop-color="#44039f"/><stop offset="0.0714" stop-color="#42039e"/><stop offset="0.107" stop-color="#42039e"/><stop offset="0.143" stop-color="#41039e"/><stop offset="0.179" stop-color="#41039e"/><stop offset="0.214" stop-color="#3f039d"/><stop offset="0.25" stop-color="#39049a"/><stop offset="0.286" stop-color="#41039e"/><stop offset="0.321" stop-color="#6500a8"/><stop offset="0.357" stop-color="#9c1b9b"/><stop offset="0.393" stop-color="#cf526f"/><stop offset="0.429" stop-color="#ed8732"/><stop offset="0.464" stop-color="#f6ad0c"/><stop offset="0.5" stop-color="#f6b606"/><stop offset="0.536" stop-color="#f6ab0d"/><stop offset="0.571" stop-color="#ec8534"/><stop offset="0.607" stop-color="#cd4f71"/><stop offset="0.643" stop-color="#9a199d"/><stop offset="0.679" stop-color="#6300a7"/><stop offset="0.714" stop-color="#3f039d"/><stop offset="0.75" stop-color="#3a049b"/><stop offset="0.786" stop-color="#3f039d"/><stop offset="0.821" stop-color="#41039e"/><stop offset="0.857" stop-color="#41039e"/><stop offset="0.893" stop-color="#42039e"/><stop offset="0.929" stop-color="#42039e"/><stop offset="0.964" stop-color="#44039f"/><stop offset="1" stop-color="#44039f"/></linearGradient><linearGradient id="h24" x1="0" y1="0" x2="0" y2="1"><stop offset="0" stop-color="#41039e"/><stop offset="0.0357" stop-color="#3f039d"/><stop offset="0.0714" stop-color="#3d049c"/><stop offset="0.107" stop-color="#3c049c"/><stop offset="0.143" stop-color="#3a049b"/><stop offset="0.179" stop-color="#39049a"/><stop offset="0.214" stop-color="#300597"/><stop offset="0.25" stop-color="#250591"/><stop offset="0.286" stop-color="#300597"/><stop offset="0.321" stop-color="#5e00a7"/><stop offset="0.357" stop-color="#9b1a9c"/><stop offset="0.393" stop-color="#d1556c"/><stop offset="0.429" stop-color="#f19225"/><stop offset="0.464" stop-color="#f6bd03"/><stop offset="0.5" stop-color="#f5c800"/><stop offset="0.536" stop-color="#f6bc04"/><stop offset="0.571" stop-color="#f08f28"/><stop offset="0.607" stop-color="#cf536e"/><stop offset="0.643" stop-color="#99189d"/><stop offset="0.679" stop-color="#5b01a6"/><stop offset="0.714" stop-color="#300597"/><stop offset="0.75" stop-color="#250591"/><stop offset="0.786" stop-color="#300597"/><stop offset="0.821" stop-color="#39049a"/><stop offset="0.857" stop-color="#3a049b"/><stop offset="0.893" stop-color="#3c049c"/><stop offset="0.929" stop-color="#3d049c"/><stop offset="0.964" stop-color="#3f039d"/><stop offset="1" stop-color="#41039e"/></linearGradient><linearGradient id="h25" x1="0" y1="0" x2="0" y2="1"><stop offset="0" stop-color="#41039e"/><stop offset="0.0357" stop-color="#3d049c"/><stop offset="0.0714" stop-color="#3c049c"/><stop offset="0.107" stop-color="#39049a"/><stop offset="0.143" stop-color="#39049a"/><stop offset="0.179" stop-color="#330498"/><stop offset="0.214" stop-color="#250591"/><stop offset="0.25" stop-color="#1f068f"/><stop offset="0.286" stop-color="#300597"/><stop offset="0.321" stop-color="#6000a7"/><stop offset="0.357" stop-color="#9e1c9a"/><stop offset="0.393" stop-color="#d45869"/><stop offset="0.429" stop-color="#f3991d"/><stop offset="0.464" stop-color="#f5c800"/><stop offset="0.5" stop-color="#f4d300"/><stop offset="0.536" stop-color="#f6c700"/><stop offset="0.571" stop-color="#f29620"/><stop offset="0.607" stop-color="#d2566b"/><stop offset="0.643" stop-color="#9a199d"/><stop offset="0.679" stop-color="#5e00a7"/><stop offset="0.714" stop-color="#2e0596"/><stop offset="0.75" stop-color="#1f068f"/><stop offset="0.786" stop-color="#270592"/><stop offset="0.821" stop-color="#330498"/><stop offset="0.857" stop-color="#39049a"/><stop offset="0.893" stop-color="#3a049b"/><stop offset="0.929" stop-color="#3c049c"/><stop offset="0.964" stop-color="#3d049c"/><stop offset="1" stop-color="#41039e"/></linearGradient><linearGradient id="h26" x1="0" y1="0" x2="0" y2="1"><stop offset="0" stop-color="#3f039d"/><stop offset="0.0357" stop-color="#3d049c"/><stop offset="0.0714" stop-color="#3a049b"/><stop offset="0.107" stop-color="#39049a"/><stop offset="0.143" stop-color="#350499"/><stop offset="0.179" stop-color="#2e0596"/><stop offset="0.214" stop-color="#1f068f"/><stop offset="0.25" stop-color="#1d068e"/><stop offset="0.286" stop-color="#350499"/><stop offset="0.321" stop-color="#6300a7"/><stop offset="0.357" stop-color="#9c1b9b"/><stop offset="0.393" stop-color="#d45869"/><stop offset="0.429" stop-color="#f39b1b"/><stop offset="0.464" stop-color="#f5cb00"/><stop offset="0.5" stop-color="#f3d700"/><stop offset="0.536" stop-color="#f5ca00"/><stop offset="0.571" stop-color="#f3991e"/><stop offset="0.607" stop-color="#d2566b"/><stop offset="0.643" stop-color="#9a199d"/><stop offset="0.679" stop-color="#6100a7"/><stop offset="0.714" stop-color="#330498"/><stop offset="0.75" stop-color="#1d068e"/><stop offset="0.786" stop-color="#1f068f"/><stop offset="0.821" stop-color="#2e0596"/><stop offset="0.857" stop-color="#350499"/><stop offset="0.893" stop-color="#39049a"/><stop offset="0.929" stop-color="#3a049b"/><stop offset="0.964" stop-color="#3d049c"/><stop offset="1" stop-color="#3f039d"/></linearGradient><linearGradient id="h27" x1="0" y1="0" x2="0" y2="1"><stop offset="0" stop-color="#3d049c"/><stop offset="0.0357" stop-color="#3c049c"/><stop offset="0.0714" stop-color="#39049a"/><stop offset="0.107" stop-color="#37049a"/><stop offset="0.143" stop-color="#330498"/><stop offset="0.179" stop-color="#290593"/><stop offset="0.214" stop-color="#1d068e"/><stop offset="0.25" stop-color="#210690"/><stop offset="0.286" stop-color="#3f039d"/><stop offset="0.321" stop-color="#6800a8"/><stop offset="0.357" stop-color="#9f1d9a"/><stop offset="0.393" stop-color="#d45968"/><stop offset="0.429" stop-color="#f3991d"/><stop offset="0.464" stop-color="#f5c800"/><stop offset="0.5" stop-color="#f4d300"/><stop offset="0.536" stop-color="#f6c700"/><stop offset="0.571" stop-color="#f29620"/><stop offset="0.607" stop-color="#d2566b"/><stop offset="0.643" stop-color="#9c1b9b"/><stop offset="0.679" stop-color="#6600a8"/><stop offset="0.714" stop-color="#3d049c"/><stop offset="0.75" stop-color="#210690"/><stop offset="0.786" stop-color="#1d068e"/><stop offset="0.821" stop-color="#290593"/><stop offset="0.857" stop-color="#330498"/><stop offset="0.893" stop-color="#37049a"/><stop offset="0.929" stop-color="#39049a"/><stop offset="0.964" stop-color="#3c049c"/><stop offset="1" stop-color="#3f039d"/></linearGradient><linearGradient id="h28" x1="0" y1="0" x2="0" y2="1"><stop offset="0" stop-color="#3d049c"/><stop offset="0.0357" stop-color="#3a049b"/><stop offset="0.0714" stop-color="#37049a"/><stop offset="0.107" stop-color="#350499"/><stop offset="0.143" stop-color="#300597"/><stop offset="0.179" stop-color="#250591"/><stop offset="0.214" stop-color="#1f068f"/><stop offset="0.25" stop-color="#2b0594"/><stop offset="0.286" stop-color="#46039f"/><stop offset="0.321" stop-color="#6c00a8"/><stop offset="0.357" stop-color="#a01e99"/><stop offset="0.393" stop-color="#d45869"/><stop offset="0.429" stop-color="#f29621"/><stop offset="0.464" stop-color="#f6c201"/><stop offset="0.5" stop-color="#f5cd00"/><stop offset="0.536" stop-color="#f6c002"/><stop offset="0.571" stop-color="#f19324"/><stop offset="0.607" stop-color="#d2566b"/><stop offset="0.643" stop-color="#9e1c9a"/><stop offset="0.679" stop-color="#6900a8"/><stop offset="0.714" stop-color="#46039f"/><stop offset="0.75" stop-color="#290593"/><stop offset="0.786" stop-color="#1f068f"/><stop offset="0.821" stop-color="#250591"/><stop offset="0.857" stop-color="#300597"/><stop offset="0.893" stop-color="#350499"/><stop offset="0.929" stop-color="#39049a"/><stop offset="0.964" stop-color="#3a049b"/><stop offset="1" stop-color="#3d049c"/></linearGradient><linearGradient id="h29" x1="0" y1="0" x2="0" y2="1"><stop offset="0" stop-color="#3c049c"/><stop offset="0.0357" stop-color="#3a049b"/><stop offset="0.0714" stop-color="#37049a"/><stop offset="0.107" stop-color="#330498"/><stop offset="0.143" stop-color="#2e0596"/><stop offset="0.179" stop-color="#250591"/><stop offset="0.214" stop-color="#250591"/><stop offset="0.25" stop-color="#330498"/><stop offset="0.286" stop-color="#4c02a2"/><stop offset="0.321" stop-color="#6d00a8"/><stop offset="0.357" stop-color="#a01e99"/><stop offset="0.393" stop-color="#d2566b"/><stop offset="0.429" stop-color="#f08f28"/><stop offset="0.464" stop-color="#f7b905"/><stop offset="0.5" stop-color="#f6c301"/><stop offset="0.536" stop-color="#f7b706"/><stop offset="0.571" stop-color="#ef8c2b"/><stop offset="0.607" stop-color="#d0546d"/><stop offset="0.643" stop-color="#9f1d9a"/><stop offset="0.679" stop-color="#6c00a8"/><stop offset="0.714" stop-color="#4a02a1"/><stop offset="0.75" stop-color="#330498"/><stop offset="0.786" stop-color="#250591"/><stop offset="0.821" stop-color="#270592"/><stop offset="0.857" stop-color="#2e0596"/><stop offset="0.893" stop-color="#330498"/><stop offset="0.929" stop-color="#37049a"/><stop offset="0.964" stop-color="#3a049b"/><stop offset="1" stop-color="#3c049c"/></linearGradient><linearGradient id="h30" x1="0" y1="0" x2="0" y2="1"><stop offset="0" stop-color="#3c049c"/><stop offset="0.0357" stop-color="#39049a"/><stop offset="0.0714" stop-color="#37049a"/><stop offset="0.107" stop-color="#330498"/><stop offset="0.143" stop-color="#2e0596"/><stop offset="0.179" stop-color="#290593"/><stop offset="0.214" stop-color="#2e0596"/><stop offset="0.25" stop-color="#3c049c"/><stop offset="0.286" stop-color="#4f02a3"/><stop offset="0.321" stop-color="#6f01a8"/><stop offset="0.357" stop-color="#a11f98"/><stop offset="0.393" stop-color="#d0546d"/><stop offset="0.429" stop-color="#ee8a2f"/><stop offset="0.464" stop-color="#f6b00a"/><stop offset="0.5" stop-color="#f6ba04"/><stop offset="0.536" stop-color="#f6ae0b"/><stop offset="0.571" stop-color="#ed8731"/><stop offset="0.607" stop-color="#cf526f"/><stop offset="0.643" stop-color="#9f1d9a"/><stop offset="0.679" stop-color="#6d00a8"/><stop offset="0.714" stop-color="#4d02a2"/><stop offset="0.75" stop-color="#3a049b"/><stop offset="0.786" stop-color="#2e0596"/><stop offset="0.821" stop-color="#2b0594"/><stop offset="0.857" stop-color="#2e0596"/><stop offset="0.893" stop-color="#330498"/><stop offset="0.929" stop-color="#37049a"/><stop offset="0.964" stop-color="#39049a"/><stop offset="1" stop-color="#3c049c"/></linearGradient><linearGradient id="h31" x1="0" y1="0" x2="0" y2="1"><stop offset="0" stop-color="#3c049c"/><stop offset="0.0357" stop-color="#39049a"/><stop offset="0.0714" stop-color="#350499"/><stop offset="0.107" stop-color="#330498"/><stop offset="0.143" stop-color="#300597"/><stop offset="0.179" stop-color="#2e0596"/><stop offset="0.214" stop-color="#350499"/><stop offset="0.25" stop-color="#3f039d"/><stop offset="0.286" stop-color="#5102a3"/><stop offset="0.321" stop-color="#7001a8"/><stop offset="0.357" stop-color="#a11f98"/><stop offset="0.393" stop-color="#cf526f"/><stop offset="0.429" stop-color="#ec8336"/><stop offset="0.464" stop-color="#f5a710"/><stop offset="0.5" stop-color="#f6b00a"/><stop offset="0.536" stop-color="#f5a710"/><stop offset="0.571" stop-color="#eb8238"/><stop offset="0.607" stop-color="#cd4f71"/><stop offset="0.643" stop-color="#9f1d9a"/><stop offset="0.679" stop-color="#6f01a8"/><stop offset="0.714" stop-color="#5102a3"/><stop offset="0.75" stop-color="#3f039d"/><stop offset="0.786" stop-color="#350499"/><stop offset="0.821" stop-color="#2e0596"/><stop offset="0.857" stop-color="#300597"/><stop offset="0.893" stop-color="#330498"/><stop offset="0.929" stop-color="#350499"/><stop offset="0.964" stop-color="#39049a"/><stop offset="1" stop-color="#3c049c"/></linearGradient><linearGradient id="h32" x1="0" y1="0" x2="0" y2="1"><stop offset="0" stop-color="#3a049b"/><stop offset="0.0357" stop-color="#39049a"/><stop offset="0.0714" stop-color="#350499"/><stop offset="0.107" stop-color="#330498"/><stop offset="0.143" stop-color="#320497"/><stop offset="0.179" stop-color="#330498"/><stop offset="0.214" stop-color="#39049a"/><stop offset="0.25" stop-color="#42039e"/><stop offset="0.286" stop-color="#5401a4"/><stop offset="0.321" stop-color="#7301a8"/><stop offset="0.357" stop-color="#a11f98"/><stop offset="0.393" stop-color="#cd4f71"/><stop offset="0.429" stop-color="#ea7e3d"/><stop offset="0.464" stop-color="#f49e18"/><stop offset="0.5" stop-color="#f5a710"/><stop offset="0.536" stop-color="#f49e18"/><stop offset="0.571" stop-color="#e97d3f"/><stop offset="0.607" stop-color="#cb4d72"/><stop offset="0.643" stop-color="#9f1d9a"/><stop offset="0.679" stop-color="#7001a8"/><stop offset="0.714" stop-color="#5202a4"/><stop offset="0.75" stop-color="#42039e"/><stop offset="0.786" stop-color="#39049a"/><stop offset="0.821" stop-color="#330498"/><stop offset="0.857" stop-color="#320497"/><stop offset="0.893" stop-color="#330498"/><stop offset="0.929" stop-color="#350499"/><stop offset="0.964" stop-color="#39049a"/><stop offset="1" stop-color="#3c049c"/></linearGradient><linearGradient id="h33" x1="0" y1="0" x2="0" y2="1"><stop offset="0" stop-color="#3a049b"/><stop offset="0.0357" stop-color="#37049a"/><stop offset="0.0714" stop-color="#350499"/><stop offset="0.107" stop-color="#330498"/><stop offset="0.143" stop-color="#330498"/><stop offset="0.179" stop-color="#37049a"/><stop offset="0.214" stop-color="#3c049c"/><stop offset="0.25" stop-color="#46039f"/><stop offset="0.286" stop-color="#5701a5"/><stop offset="0.321" stop-color="#7602a8"/><stop offset="0.357" stop-color="#a22197"/><stop offset="0.393" stop-color="#cc4e71"/><stop offset="0.429" stop-color="#e77943"/><stop offset="0.464" stop-color="#f29620"/><stop offset="0.5" stop-color="#f49e18"/><stop offset="0.536" stop-color="#f29621"/><stop offset="0.571" stop-color="#e67746"/><stop offset="0.607" stop-color="#ca4c73"/><stop offset="0.643" stop-color="#a11f98"/><stop offset="0.679" stop-color="#7501a8"/><stop offset="0.714" stop-color="#5501a4"/><stop offset="0.75" stop-color="#44039f"/><stop offset="0.786" stop-color="#3c049c"/><stop offset="0.821" stop-color="#37049a"/><stop offset="0.857" stop-color="#330498"/><stop offset="0.893" stop-color="#330498"/><stop offset="0.929" stop-color="#350499"/><stop offset="0.964" stop-color="#39049a"/><stop offset="1" stop-color="#3a049b"/></linearGradient><linearGradient id="h34" x1="0" y1="0" x2="0" y2="1"><stop offset="0" stop-color="#3a049b"/><stop offset="0.0357" stop-color="#37049a"/><stop offset="0.0714" stop-color="#350499"/><stop offset="0.107" stop-color="#350499"/><stop offset="0.143" stop-color="#350499"/><stop offset="0.179" stop-color="#39049a"/><stop offset="0.214" stop-color="#3d049c"/><stop offset="0.25" stop-color="#4703a0"/><stop offset="0.286" stop-color="#5a01a6"/><stop offset="0.321" stop-color="#7903a8"/><stop offset="0.357" stop-color="#a42296"/><stop offset="0.393" stop-color="#ca4c73"/><stop offset="0.429" stop-color="#e4734b"/><stop offset="0.464" stop-color="#f08e2a"/><stop offset="0.5" stop-color="#f29422"/><stop offset="0.536" stop-color="#ef8c2b"/><stop offset="0.571" stop-color="#e4724d"/><stop offset="0.607" stop-color="#c94b74"/><stop offset="0.643" stop-color="#a22197"/><stop offset="0.679" stop-color="#7802a8"/><stop offset="0.714" stop-color="#5801a5"/><stop offset="0.75" stop-color="#4703a0"/><stop offset="0.786" stop-color="#3d049c"/><stop offset="0.821" stop-color="#39049a"/><stop offset="0.857" stop-color="#350499"/><stop offset="0.893" stop-color="#350499"/><stop offset="0.929" stop-color="#350499"/><stop offset="0.964" stop-color="#37049a"/><stop offset="1" stop-color="#3a049b"/></linearGradient><linearGradient id="h35" x1="0" y1="0" x2="0" y2="1"><stop offset="0" stop-color="#3a049b"/><stop offset="0.0357" stop-color="#37049a"/><stop offset="0.0714" stop-color="#350499"/><stop offset="0.107" stop-color="#350499"/><stop offset="0.143" stop-color="#37049a"/><stop offset="0.179" stop-color="#3a049b"/><stop offset="0.214" stop-color="#3f039d"/><stop offset="0.25" stop-color="#4903a1"/><stop offset="0.286" stop-color="#5d01a6"/><stop offset="0.321" stop-color="#7c04a8"/><stop offset="0.357" stop-color="#a52395"/><stop offset="0.393" stop-color="#c94b74"/><stop offset="0.429" stop-color="#e26e51"/><stop offset="0.464" stop-color="#ed8633"/><stop offset="0.5" stop-color="#ef8c2c"/><stop offset="0.536" stop-color="#ec8535"/><stop offset="0.571" stop-color="#e16d53"/><stop offset="0.607" stop-color="#c84976"/><stop offset="0.643" stop-color="#a22197"/><stop offset="0.679" stop-color="#7b03a8"/><stop offset="0.714" stop-color="#5b01a6"/><stop offset="0.75" stop-color="#4903a1"/><stop offset="0.786" stop-color="#3f039d"/><stop offset="0.821" stop-color="#3a049b"/><stop offset="0.857" stop-color="#37049a"/><stop offset="0.893" stop-color="#350499"/><stop offset="0.929" stop-color="#350499"/><stop offset="0.964" stop-color="#37049a"/><stop offset="1" stop-color="#3a049b"/></linearGradient><linearGradient id="h36" x1="0" y1="0" x2="0" y2="1"><stop offset="0" stop-color="#3a049b"/><stop offset="0.0357" stop-color="#37049a"/><stop offset="0.0714" stop-color="#350499"/><stop offset="0.107" stop-color="#350499"/><stop offset="0.143" stop-color="#37049a"/><stop offset="0.179" stop-color="#3c049c"/><stop offset="0.214" stop-color="#41039e"/><stop offset="0.25" stop-color="#4c02a2"/><stop offset="0.286" stop-color="#5e00a7"/><stop offset="0.321" stop-color="#7f05a7"/><stop offset="0.357" stop-color="#a52395"/><stop offset="0.393" stop-color="#c84976"/><stop offset="0.429" stop-color="#de6858"/><stop offset="0.464" stop-color="#ea7e3d"/><stop offset="0.5" stop-color="#ec8336"/><stop offset="0.536" stop-color="#e97d3e"/><stop offset="0.571" stop-color="#dd6759"/><stop offset="0.607" stop-color="#c64678"/><stop offset="0.643" stop-color="#a42296"/><stop offset="0.679" stop-color="#7c04a8"/><stop offset="0.714" stop-color="#5e00a7"/><stop offset="0.75" stop-color="#4a02a1"/><stop offset="0.786" stop-color="#41039e"/><stop offset="0.821" stop-color="#3a049b"/><stop offset="0.857" stop-color="#37049a"/><stop offset="0.893" stop-color="#350499"/><stop offset="0.929" stop-color="#350499"/><stop offset="0.964" stop-color="#37049a"/><stop offset="1" stop-color="#3a049b"/></linearGradient><linearGradient id="h37" x1="0" y1="0" x2="0" y2="1"><stop offset="0" stop-color="#3a049b"/><stop offset="0.0357" stop-color="#37049a"/><stop offset="0.0714" stop-color="#350499"/><stop offset="0.107" stop-color="#37049a"/><stop offset="0.143" stop-color="#39049a"/><stop offset="0.179" stop-color="#3c049c"/><stop offset="0.214" stop-color="#42039e"/><stop offset="0.25" stop-color="#4d02a2"/><stop offset="0.286" stop-color="#6100a7"/><stop offset="0.321" stop-color="#8005a7"/><stop offset="0.357" stop-color="#a52395"/><stop offset="0.393" stop-color="#c54579"/><stop offset="0.429" stop-color="#db645e"/><stop offset="0.464" stop-color="#e67746"/><stop offset="0.5" stop-color="#e87c40"/><stop offset="0.536" stop-color="#e67747"/><stop offset="0.571" stop-color="#da635f"/><stop offset="0.607" stop-color="#c4447a"/><stop offset="0.643" stop-color="#a42296"/><stop offset="0.679" stop-color="#7f05a7"/><stop offset="0.714" stop-color="#6000a7"/><stop offset="0.75" stop-color="#4d02a2"/><stop offset="0.786" stop-color="#42039e"/><stop offset="0.821" stop-color="#3c049c"/><stop offset="0.857" stop-color="#39049a"/><stop offset="0.893" stop-color="#37049a"/><stop offset="0.929" stop-color="#350499"/><stop offset="0.964" stop-color="#37049a"/><stop offset="1" stop-color="#3a049b"/></linearGradient><linearGradient id="h38" x1="0" y1="0" x2="0" y2="1"><stop offset="0" stop-color="#3a049b"/><stop offset="0.0357" stop-color="#37049a"/><stop offset="0.0714" stop-color="#350499"/><stop offset="0.107" stop-color="#37049a"/><stop offset="0.143" stop-color="#39049a"/><stop offset="0.179" stop-color="#3d049c"/><stop offset="0.214" stop-color="#44039f"/><stop offset="0.25" stop-color="#5102a3"/><stop offset="0.286" stop-color="#6500a8"/><stop offset="0.321" stop-color="#8206a6"/><stop offset="0.357" stop-color="#a52395"/><stop offset="0.393" stop-color="#c4447a"/><stop offset="0.429" stop-color="#d96062"/><stop offset="0.464" stop-color="#e4724d"/><stop offset="0.5" stop-color="#e67747"/><stop offset="0.536" stop-color="#e3714e"/><stop offset="0.571" stop-color="#d85f63"/><stop offset="0.607" stop-color="#c3437a"/><stop offset="0.643" stop-color="#a42296"/><stop offset="0.679" stop-color="#8005a7"/><stop offset="0.714" stop-color="#6300a7"/><stop offset="0.75" stop-color="#4f02a3"/><stop offset="0.786" stop-color="#44039f"/><stop offset="0.821" stop-color="#3d049c"/><stop offset="0.857" stop-color="#39049a"/><stop offset="0.893" stop-color="#37049a"/><stop offset="0.929" stop-color="#350499"/><stop offset="0.964" stop-color="#37049a"/><stop offset="1" stop-color="#3a049b"/></linearGradient><linearGradient id="h39" x1="0" y1="0" x2="0" y2="1"><stop offset="0" stop-color="#39049a"/><stop offset="0.0357" stop-color="#37049a"/><stop offset="0.0714" stop-color="#350499"/><stop offset="0.107" stop-color="#37049a"/><stop offset="0.143" stop-color="#3a049b"/><stop offset="0.179" stop-color="#3f039d"/><stop offset="0.214" stop-color="#46039f"/><stop offset="0.25" stop-color="#5202a4"/><stop offset="0.286" stop-color="#6600a8"/><stop offset="0.321" stop-color="#8508a6"/><stop offset="0.357" stop-color="#a62494"/><stop offset="0.393" stop-color="#c2427b"/><stop offset="0.429" stop-color="#d75d65"/><stop offset="0.464" stop-color="#e16d53"/><stop offset="0.5" stop-color="#e3714e"/><stop offset="0.536" stop-color="#e06c54"/><stop offset="0.571" stop-color="#d65c66"/><stop offset="0.607" stop-color="#c1417c"/><stop offset="0.643" stop-color="#a42296"/><stop offset="0.679" stop-color="#8307a6"/><stop offset="0.714" stop-color="#6600a8"/><stop offset="0.75" stop-color="#5202a4"/><stop offset="0.786" stop-color="#46039f"/><stop offset="0.821" stop-color="#3d049c"/><stop offset="0.857" stop-color="#3a049b"/><stop offset="0.893" stop-color="#37049a"/><stop offset="0.929" stop-color="#350499"/><stop offset="0.964" stop-color="#37049a"/><stop offset="1" stop-color="#3a049b"/></linearGradient><linearGradient id="h40" x1="0" y1="0" x2="0" y2="1"><stop offset="0" stop-color="#44039f"/><stop offset="0.0357" stop-color="#42039e"/><stop offset="0.0714" stop-color="#41039e"/><stop offset="0.107" stop-color="#41039e"/><stop offset="0.143" stop-color="#44039f"/><stop offset="0.179" stop-color="#4703a0"/><stop offset="0.214" stop-color="#4c02a2"/><stop offset="0.25" stop-color="#5501a4"/><stop offset="0.286" stop-color="#6300a7"/><stop offset="0.321" stop-color="#7c04a8"/><stop offset="0.357" stop-color="#9f1d9a"/><stop offset="0.393" stop-color="#be3d7f"/><stop offset="0.429" stop-color="#d55b67"/><stop offset="0.464" stop-color="#e26e51"/><stop offset="0.5" stop-color="#e5744a"/><stop offset="0.536" stop-color="#e26e51"/><stop offset="0.571" stop-color="#d55b67"/><stop offset="0.607" stop-color="#bd3c80"/><stop offset="0.643" stop-color="#9c1b9b"/><stop offset="0.679" stop-color="#7c04a8"/><stop offset="0.714" stop-color="#6300a7"/><stop offset="0.75" stop-color="#5401a4"/><stop offset="0.786" stop-color="#4c02a2"/><stop offset="0.821" stop-color="#4703a0"/><stop offset="0.857" stop-color="#44039f"/><stop offset="0.893" stop-color="#41039e"/><stop offset="0.929" stop-color="#41039e"/><stop offset="0.964" stop-color="#42039e"/><stop offset="1" stop-color="#44039f"/></linearGradient><linearGradient id="h41" x1="0" y1="0" x2="0" y2="1"><stop offset="0" stop-color="#44039f"/><stop offset="0.0357" stop-color="#41039e"/><stop offset="0.0714" stop-color="#41039e"/><stop offset="0.107" stop-color="#41039e"/><stop offset="0.143" stop-color="#44039f"/><stop offset="0.179" stop-color="#4903a1"/><stop offset="0.214" stop-color="#4f02a3"/><stop offset="0.25" stop-color="#5801a5"/><stop offset="0.286" stop-color="#6b00a8"/><stop offset="0.321" stop-color="#8609a5"/><stop offset="0.357" stop-color="#a72594"/><stop offset="0.393" stop-color="#c64678"/><stop offset="0.429" stop-color="#db645e"/><stop offset="0.464" stop-color="#e67747"/><stop offset="0.5" stop-color="#e87c40"/><stop offset="0.536" stop-color="#e57648"/><stop offset="0.571" stop-color="#da635f"/><stop offset="0.607" stop-color="#c54579"/><stop offset="0.643" stop-color="#a62494"/><stop offset="0.679" stop-color="#8508a6"/><stop offset="0.714" stop-color="#6900a8"/><stop offset="0.75" stop-color="#5801a5"/><stop offset="0.786" stop-color="#4f02a3"/><stop offset="0.821" stop-color="#4903a1"/><stop offset="0.857" stop-color="#44039f"/><stop offset="0.893" stop-color="#41039e"/><stop offset="0.929" stop-color="#41039e"/><stop offset="0.964" stop-color="#41039e"/><stop offset="1" stop-color="#44039f"/></linearGradient><linearGradient id="h42" x1="0" y1="0" x2="0" y2="1"><stop offset="0" stop-color="#44039f"/><stop offset="0.0357" stop-color="#41039e"/><stop offset="0.0714" stop-color="#3f039d"/><stop offset="0.107" stop-color="#41039e"/><stop offset="0.143" stop-color="#44039f"/><stop offset="0.179" stop-color="#4a02a1"/><stop offset="0.214" stop-color="#5102a3"/><stop offset="0.25" stop-color="#5d01a6"/><stop offset="0.286" stop-color="#7201a8"/><stop offset="0.321" stop-color="#9111a1"/><stop offset="0.357" stop-color="#b2308a"/><stop offset="0.393" stop-color="#cf526f"/><stop offset="0.429" stop-color="#e27050"/><stop offset="0.464" stop-color="#eb8238"/><stop offset="0.5" stop-color="#ed8731"/><stop offset="0.536" stop-color="#eb8238"/><stop offset="0.571" stop-color="#e26e51"/><stop offset="0.607" stop-color="#ce5070"/><stop offset="0.643" stop-color="#b12f8b"/><stop offset="0.679" stop-color="#9010a2"/><stop offset="0.714" stop-color="#7201a8"/><stop offset="0.75" stop-color="#5d01a6"/><stop offset="0.786" stop-color="#5102a3"/><stop offset="0.821" stop-color="#4903a1"/><stop offset="0.857" stop-color="#44039f"/><stop offset="0.893" stop-color="#41039e"/><stop offset="0.929" stop-color="#3f039d"/><stop offset="0.964" stop-color="#41039e"/><stop offset="1" stop-color="#44039f"/></linearGradient><linearGradient id="h43" x1="0" y1="0" x2="0" y2="1"><stop offset="0" stop-color="#44039f"/><stop offset="0.0357" stop-color="#41039e"/><stop offset="0.0714" stop-color="#3f039d"/><stop offset="0.107" stop-color="#3f039d"/><stop offset="0.143" stop-color="#44039f"/><stop offset="0.179" stop-color="#4a02a1"/><stop offset="0.214" stop-color="#5501a4"/><stop offset="0.25" stop-color="#6300a7"/><stop offset="0.286" stop-color="#7b03a8"/><stop offset="0.321" stop-color="#9b1a9c"/><stop offset="0.357" stop-color="#bc3b81"/><stop offset="0.393" stop-color="#d75e64"/><stop offset="0.429" stop-color="#e87c40"/><stop offset="0.464" stop-color="#f08f28"/><stop offset="0.5" stop-color="#f29422"/><stop offset="0.536" stop-color="#f08f28"/><stop offset="0.571" stop-color="#e87b42"/><stop offset="0.607" stop-color="#d65c66"/><stop offset="0.643" stop-color="#bb3a82"/><stop offset="0.679" stop-color="#9a199d"/><stop offset="0.714" stop-color="#7b03a8"/><stop offset="0.75" stop-color="#6300a7"/><stop offset="0.786" stop-color="#5401a4"/><stop offset="0.821" stop-color="#4a02a1"/><stop offset="0.857" stop-color="#44039f"/><stop offset="0.893" stop-color="#3f039d"/><stop offset="0.929" stop-color="#3f039d"/><stop offset="0.964" stop-color="#41039e"/><stop offset="1" stop-color="#44039f"/></linearGradient><linearGradient id="h44" x1="0" y1="0" x2="0" y2="1"><stop offset="0" stop-color="#44039f"/><stop offset="0.0357" stop-color="#41039e"/><stop offset="0.0714" stop-color="#3d049c"/><stop offset="0.107" stop-color="#3d049c"/><stop offset="0.143" stop-color="#42039e"/><stop offset="0.179" stop-color="#4c02a2"/><stop offset="0.214" stop-color="#5801a5"/><stop offset="0.25" stop-color="#6b00a8"/><stop offset="0.286" stop-color="#8508a6"/><stop offset="0.321" stop-color="#a62494"/><stop offset="0.357" stop-color="#c64678"/><stop offset="0.393" stop-color="#df6a57"/><stop offset="0.429" stop-color="#ee8830"/><stop offset="0.464" stop-color="#f39b1a"/><stop offset="0.5" stop-color="#f4a115"/><stop offset="0.536" stop-color="#f39b1b"/><stop offset="0.571" stop-color="#ed8732"/><stop offset="0.607" stop-color="#de6858"/><stop offset="0.643" stop-color="#c54579"/><stop offset="0.679" stop-color="#a52395"/><stop offset="0.714" stop-color="#8307a6"/><stop offset="0.75" stop-color="#6900a8"/><stop offset="0.786" stop-color="#5801a5"/><stop offset="0.821" stop-color="#4c02a2"/><stop offset="0.857" stop-color="#42039e"/><stop offset="0.893" stop-color="#3d049c"/><stop offset="0.929" stop-color="#3d049c"/><stop offset="0.964" stop-color="#41039e"/><stop offset="1" stop-color="#44039f"/></linearGradient><linearGradient id="h45" x1="0" y1="0" x2="0" y2="1"><stop offset="0" stop-color="#42039e"/><stop offset="0.0357" stop-color="#3f039d"/><stop offset="0.0714" stop-color="#3c049c"/><stop offset="0.107" stop-color="#3a049b"/><stop offset="0.143" stop-color="#41039e"/><stop offset="0.179" stop-color="#4d02a2"/><stop offset="0.214" stop-color="#5b01a6"/><stop offset="0.25" stop-color="#7001a8"/><stop offset="0.286" stop-color="#8d0ea3"/><stop offset="0.321" stop-color="#ae2c8e"/><stop offset="0.357" stop-color="#cd4f71"/><stop offset="0.393" stop-color="#e4734b"/><stop offset="0.429" stop-color="#f19225"/><stop offset="0.464" stop-color="#f5a710"/><stop offset="0.5" stop-color="#f6ab0d"/><stop offset="0.536" stop-color="#f5a511"/><stop offset="0.571" stop-color="#f19225"/><stop offset="0.607" stop-color="#e4724d"/><stop offset="0.643" stop-color="#cb4d72"/><stop offset="0.679" stop-color="#ad2b8f"/><stop offset="0.714" stop-color="#8b0da4"/><stop offset="0.75" stop-color="#6f01a8"/><stop offset="0.786" stop-color="#5b01a6"/><stop offset="0.821" stop-color="#4d02a2"/><stop offset="0.857" stop-color="#41039e"/><stop offset="0.893" stop-color="#3a049b"/><stop offset="0.929" stop-color="#3c049c"/><stop offset="0.964" stop-color="#3f039d"/><stop offset="1" stop-color="#42039e"/></linearGradient><linearGradient id="h46" x1="0" y1="0" x2="0" y2="1"><stop offset="0" stop-color="#42039e"/><stop offset="0.0357" stop-color="#3f039d"/><stop offset="0.0714" stop-color="#39049a"/><stop offset="0.107" stop-color="#37049a"/><stop offset="0.143" stop-color="#3f039d"/><stop offset="0.179" stop-color="#4d02a2"/><stop offset="0.214" stop-color="#5d01a6"/><stop offset="0.25" stop-color="#7201a8"/><stop offset="0.286" stop-color="#9010a2"/><stop offset="0.321" stop-color="#b2308a"/><stop offset="0.357" stop-color="#d0546d"/><stop offset="0.393" stop-color="#e87b42"/><stop offset="0.429" stop-color="#f39b1b"/><stop offset="0.464" stop-color="#f6b00a"/><stop offset="0.5" stop-color="#f6b606"/><stop offset="0.536" stop-color="#f6b00a"/><stop offset="0.571" stop-color="#f39a1c"/><stop offset="0.607" stop-color="#e77845"/><stop offset="0.643" stop-color="#cf536e"/><stop offset="0.679" stop-color="#b02e8c"/><stop offset="0.714" stop-color="#8e0fa3"/><stop offset="0.75" stop-color="#7201a8"/><stop offset="0.786" stop-color="#5d01a6"/><stop offset="0.821" stop-color="#4d02a2"/><stop offset="0.857" stop-color="#3d049c"/><stop offset="0.893" stop-color="#37049a"/><stop offset="0.929" stop-color="#3a049b"/><stop offset="0.964" stop-color="#3f039d"/><stop offset="1" stop-color="#42039e"/></linearGradient><linearGradient id="h47" x1="0" y1="0" x2="0" y2="1"><stop offset="0" stop-color="#42039e"/><stop offset="0.0357" stop-color="#3d049c"/><stop offset="0.0714" stop-color="#37049a"/><stop offset="0.107" stop-color="#320497"/><stop offset="0.143" stop-color="#3c049c"/><stop offset="0.179" stop-color="#4d02a2"/><stop offset="0.214" stop-color="#5e00a7"/><stop offset="0.25" stop-color="#7501a8"/><stop offset="0.286" stop-color="#9212a1"/><stop offset="0.321" stop-color="#b53388"/><stop offset="0.357" stop-color="#d45869"/><stop offset="0.393" stop-color="#ea803b"/><stop offset="0.429" stop-color="#f5a214"/><stop offset="0.464" stop-color="#f7b905"/><stop offset="0.5" stop-color="#f6bd03"/><stop offset="0.536" stop-color="#f7b706"/><stop offset="0.571" stop-color="#f4a115"/><stop offset="0.607" stop-color="#ea7e3d"/><stop offset="0.643" stop-color="#d3576a"/><stop offset="0.679" stop-color="#b33189"/><stop offset="0.714" stop-color="#9111a1"/><stop offset="0.75" stop-color="#7301a8"/><stop offset="0.786" stop-color="#5d01a6"/><stop offset="0.821" stop-color="#4c02a2"/><stop offset="0.857" stop-color="#3a049b"/><stop offset="0.893" stop-color="#320497"/><stop offset="0.929" stop-color="#37049a"/><stop offset="0.964" stop-color="#3d049c"/><stop offset="1" stop-color="#42039e"/></linearGradient><linearGradient id="h48" x1="0" y1="0" x2="0" y2="1"><stop offset="0" stop-color="#42039e"/><stop offset="0.0357" stop-color="#3d049c"/><stop offset="0.0714" stop-color="#330498"/><stop offset="0.107" stop-color="#2c0595"/><stop offset="0.143" stop-color="#39049a"/><stop offset="0.179" stop-color="#4c02a2"/><stop offset="0.214" stop-color="#5e00a7"/><stop offset="0.25" stop-color="#7602a8"/><stop offset="0.286" stop-color="#95149f"/><stop offset="0.321" stop-color="#b73686"/><stop offset="0.357" stop-color="#d75d65"/><stop offset="0.393" stop-color="#ec8535"/><stop offset="0.429" stop-color="#f6a80f"/><stop offset="0.464" stop-color="#f6bf02"/><stop offset="0.5" stop-color="#f6c301"/><stop offset="0.536" stop-color="#f6bd03"/><stop offset="0.571" stop-color="#f5a710"/><stop offset="0.607" stop-color="#eb8238"/><stop offset="0.643" stop-color="#d55b67"/><stop offset="0.679" stop-color="#b63587"/><stop offset="0.714" stop-color="#9313a0"/><stop offset="0.75" stop-color="#7501a8"/><stop offset="0.786" stop-color="#5e00a7"/><stop offset="0.821" stop-color="#4c02a2"/><stop offset="0.857" stop-color="#37049a"/><stop offset="0.893" stop-color="#2c0595"/><stop offset="0.929" stop-color="#330498"/><stop offset="0.964" stop-color="#3d049c"/><stop offset="1" stop-color="#42039e"/></linearGradient><linearGradient id="h49" x1="0" y1="0" x2="0" y2="1"><stop offset="0" stop-color="#42039e"/><stop offset="0.0357" stop-color="#3d049c"/><stop offset="0.0714" stop-color="#300597"/><stop offset="0.107" stop-color="#270592"/><stop offset="0.143" stop-color="#350499"/><stop offset="0.179" stop-color="#4c02a2"/><stop offset="0.214" stop-color="#6000a7"/><stop offset="0.25" stop-color="#7802a8"/><stop offset="0.286" stop-color="#97179e"/><stop offset="0.321" stop-color="#b93884"/><stop offset="0.357" stop-color="#d85f63"/><stop offset="0.393" stop-color="#ee8830"/><stop offset="0.429" stop-color="#f6ad0c"/><stop offset="0.464" stop-color="#f6c301"/><stop offset="0.5" stop-color="#f5c800"/><stop offset="0.536" stop-color="#f6c201"/><stop offset="0.571" stop-color="#f6ab0d"/><stop offset="0.607" stop-color="#ed8633"/><stop offset="0.643" stop-color="#d75d65"/><stop offset="0.679" stop-color="#b83785"/><stop offset="0.714" stop-color="#96169f"/><stop offset="0.75" stop-color="#7602a8"/><stop offset="0.786" stop-color="#5e00a7"/><stop offset="0.821" stop-color="#4a02a1"/><stop offset="0.857" stop-color="#330498"/><stop offset="0.893" stop-color="#270592"/><stop offset="0.929" stop-color="#320497"/><stop offset="0.964" stop-color="#3d049c"/><stop offset="1" stop-color="#42039e"/></linearGradient><linearGradient id="h50" x1="0" y1="0" x2="0" y2="1"><stop offset="0" stop-color="#42039e"/><stop offset="0.0357" stop-color="#3c049c"/><stop offset="0.0714" stop-color="#2e0596"/><stop offset="0.107" stop-color="#230591"/><stop offset="0.143" stop-color="#320497"/><stop offset="0.179" stop-color="#4c02a2"/><stop offset="0.214" stop-color="#6100a7"/><stop offset="0.25" stop-color="#7903a8"/><stop offset="0.286" stop-color="#99189d"/><stop offset="0.321" stop-color="#bb3a82"/><stop offset="0.357" stop-color="#da6160"/><stop offset="0.393" stop-color="#ee8a2e"/><stop offset="0.429" stop-color="#f6ae0b"/><stop offset="0.464" stop-color="#f6c500"/><stop offset="0.5" stop-color="#f5cb00"/><stop offset="0.536" stop-color="#f6c500"/><stop offset="0.571" stop-color="#f6ad0c"/><stop offset="0.607" stop-color="#ee8830"/><stop offset="0.643" stop-color="#d85f63"/><stop offset="0.679" stop-color="#b93884"/><stop offset="0.714" stop-color="#97179e"/><stop offset="0.75" stop-color="#7802a8"/><stop offset="0.786" stop-color="#6000a7"/><stop offset="0.821" stop-color="#4a02a1"/><stop offset="0.857" stop-color="#300597"/><stop offset="0.893" stop-color="#230591"/><stop offset="0.929" stop-color="#2e0596"/><stop offset="0.964" stop-color="#3c049c"/><stop offset="1" stop-color="#42039e"/></linearGradient><linearGradient id="h51" x1="0" y1="0" x2="0" y2="1"><stop offset="0" stop-color="#42039e"/><stop offset="0.0357" stop-color="#3c049c"/><stop offset="0.0714" stop-color="#2b0594"/><stop offset="0.107" stop-color="#210690"/><stop offset="0.143" stop-color="#2e0596"/><stop offset="0.179" stop-color="#4a02a1"/><stop offset="0.214" stop-color="#6100a7"/><stop offset="0.25" stop-color="#7903a8"/><stop offset="0.286" stop-color="#99189d"/><stop offset="0.321" stop-color="#bb3a82"/><stop offset="0.357" stop-color="#da6160"/><stop offset="0.393" stop-color="#ee8a2e"/><stop offset="0.429" stop-color="#f6ae0b"/><stop offset="0.464" stop-color="#f6c500"/><stop offset="0.5" stop-color="#f5cb00"/><stop offset="0.536" stop-color="#f6c301"/><stop offset="0.571" stop-color="#f6ad0c"/><stop offset="0.607" stop-color="#ee8830"/><stop offset="0.643" stop-color="#d85f62"/><stop offset="0.679" stop-color="#ba3983"/><stop offset="0.714" stop-color="#97179e"/><stop offset="0.75" stop-color="#7802a8"/><stop offset="0.786" stop-color="#6000a7"/><stop offset="0.821" stop-color="#4a02a1"/><stop offset="0.857" stop-color="#2c0595"/><stop offset="0.893" stop-color="#210690"/><stop offset="0.929" stop-color="#2c0595"/><stop offset="0.964" stop-color="#3c049c"/><stop offset="1" stop-color="#42039e"/></linearGradient><linearGradient id="h52" x1="0" y1="0" x2="0" y2="1"><stop offset="0" stop-color="#44039f"/><stop offset="0.0357" stop-color="#3c049c"/><stop offset="0.0714" stop-color="#2b0594"/><stop offset="0.107" stop-color="#1f068f"/><stop offset="0.143" stop-color="#2c0595"/><stop offset="0.179" stop-color="#4a02a1"/><stop offset="0.214" stop-color="#6100a7"/><stop offset="0.25" stop-color="#7903a8"/><stop offset="0.286" stop-color="#99189d"/><stop offset="0.321" stop-color="#bb3a82"/><stop offset="0.357" stop-color="#d96061"/><stop offset="0.393" stop-color="#ee8830"/><stop offset="0.429" stop-color="#f6ad0c"/><stop offset="0.464" stop-color="#f6c301"/><stop offset="0.5" stop-color="#f5c800"/><stop offset="0.536" stop-color="#f6c201"/><stop offset="0.571" stop-color="#f6ab0d"/><stop offset="0.607" stop-color="#ed8732"/><stop offset="0.643" stop-color="#d85f63"/><stop offset="0.679" stop-color="#b93884"/><stop offset="0.714" stop-color="#97179e"/><stop offset="0.75" stop-color="#7903a8"/><stop offset="0.786" stop-color="#6000a7"/><stop offset="0.821" stop-color="#4903a1"/><stop offset="0.857" stop-color="#2b0594"/><stop offset="0.893" stop-color="#1f068f"/><stop offset="0.929" stop-color="#2b0594"/><stop offset="0.964" stop-color="#3c049c"/><stop offset="1" stop-color="#44039f"/></linearGradient><linearGradient id="h53" x1="0" y1="0" x2="0" y2="1"><stop offset="0" stop-color="#44039f"/><stop offset="0.0357" stop-color="#3c049c"/><stop offset="0.0714" stop-color="#290593"/><stop offset="0.107" stop-color="#1d068e"/><stop offset="0.143" stop-color="#2c0595"/><stop offset="0.179" stop-color="#4a02a1"/><stop offset="0.214" stop-color="#6100a7"/><stop offset="0.25" stop-color="#7903a8"/><stop offset="0.286" stop-color="#99189d"/><stop offset="0.321" stop-color="#ba3983"/><stop offset="0.357" stop-color="#d85f63"/><stop offset="0.393" stop-color="#ed8633"/><stop offset="0.429" stop-color="#f6a80f"/><stop offset="0.464" stop-color="#f6bf02"/><stop offset="0.5" stop-color="#f6c301"/><stop offset="0.536" stop-color="#f6bd03"/><stop offset="0.571" stop-color="#f6a80f"/><stop offset="0.607" stop-color="#ec8535"/><stop offset="0.643" stop-color="#d75d65"/><stop offset="0.679" stop-color="#b83785"/><stop offset="0.714" stop-color="#97179e"/><stop offset="0.75" stop-color="#7802a8"/><stop offset="0.786" stop-color="#6100a7"/><stop offset="0.821" stop-color="#4903a1"/><stop offset="0.857" stop-color="#2b0594"/><stop offset="0.893" stop-color="#1d068e"/><stop offset="0.929" stop-color="#2b0594"/><stop offset="0.964" stop-color="#3c049c"/><stop offset="1" stop-color="#44039f"/></linearGradient><linearGradient id="h54" x1="0" y1="0" x2="0" y2="1"><stop offset="0" stop-color="#44039f"/><stop offset="0.0357" stop-color="#3d049c"/><stop offset="0.0714" stop-color="#2b0594"/><stop offset="0.107" stop-color="#1f068f"/><stop offset="0.143" stop-color="#2c0595"/><stop offset="0.179" stop-color="#4a02a1"/><stop offset="0.214" stop-color="#6100a7"/><stop offset="0.25" stop-color="#7903a8"/><stop offset="0.286" stop-color="#97179e"/><stop offset="0.321" stop-color="#b93884"/><stop offset="0.357" stop-color="#d75d65"/><stop offset="0.393" stop-color="#ec8337"/><stop offset="0.429" stop-color="#f5a412"/><stop offset="0.464" stop-color="#f7b905"/><stop offset="0.5" stop-color="#f6bf02"/><stop offset="0.536" stop-color="#f7b905"/><stop offset="0.571" stop-color="#f5a214"/><stop offset="0.607" stop-color="#eb8139"/><stop offset="0.643" stop-color="#d55b67"/><stop offset="0.679" stop-color="#b73686"/><stop offset="0.714" stop-color="#96169f"/><stop offset="0.75" stop-color="#7802a8"/><stop offset="0.786" stop-color="#6100a7"/><stop offset="0.821" stop-color="#4a02a1"/><stop offset="0.857" stop-color="#2b0594"/><stop offset="0.893" stop-color="#1f068f"/><stop offset="0.929" stop-color="#2b0594"/><stop offset="0.964" stop-color="#3d049c"/><stop offset="1" stop-color="#44039f"/></linearGradient><linearGradient id="h55" x1="0" y1="0" x2="0" y2="1"><stop offset="0" stop-color="#46039f"/><stop offset="0.0357" stop-color="#3d049c"/><stop offset="0.0714" stop-color="#2c0595"/><stop offset="0.107" stop-color="#1f068f"/><stop offset="0.143" stop-color="#2e0596"/><stop offset="0.179" stop-color="#4c02a2"/><stop offset="0.214" stop-color="#6100a7"/><stop offset="0.25" stop-color="#7903a8"/><stop offset="0.286" stop-color="#97179e"/><stop offset="0.321" stop-color="#b83785"/><stop offset="0.357" stop-color="#d55b67"/><stop offset="0.393" stop-color="#ea803b"/><stop offset="0.429" stop-color="#f4a115"/><stop offset="0.464" stop-color="#f6b606"/><stop offset="0.5" stop-color="#f6ba04"/><stop offset="0.536" stop-color="#f6b407"/><stop offset="0.571" stop-color="#f4a017"/><stop offset="0.607" stop-color="#ea7e3d"/><stop offset="0.643" stop-color="#d45968"/><stop offset="0.679" stop-color="#b63587"/><stop offset="0.714" stop-color="#96169f"/><stop offset="0.75" stop-color="#7802a8"/><stop offset="0.786" stop-color="#6100a7"/><stop offset="0.821" stop-color="#4a02a1"/><stop offset="0.857" stop-color="#2c0595"/><stop offset="0.893" stop-color="#1f068f"/><stop offset="0.929" stop-color="#2c0595"/><stop offset="0.964" stop-color="#3d049c"/><stop offset="1" stop-color="#46039f"/></linearGradient><linearGradient id="h56" x1="0" y1="0" x2="0" y2="1"><stop offset="0" stop-color="#46039f"/><stop offset="0.0357" stop-color="#3f039d"/><stop offset="0.0714" stop-color="#2e0596"/><stop offset="0.107" stop-color="#230591"/><stop offset="0.143" stop-color="#320497"/><stop offset="0.179" stop-color="#4d02a2"/><stop offset="0.214" stop-color="#6300a7"/><stop offset="0.25" stop-color="#7903a8"/><stop offset="0.286" stop-color="#97179e"/><stop offset="0.321" stop-color="#b73686"/><stop offset="0.357" stop-color="#d45968"/><stop offset="0.393" stop-color="#ea7e3d"/><stop offset="0.429" stop-color="#f49e18"/><stop offset="0.464" stop-color="#f6b109"/><stop offset="0.5" stop-color="#f7b706"/><stop offset="0.536" stop-color="#f6b109"/><stop offset="0.571" stop-color="#f49d19"/><stop offset="0.607" stop-color="#e87c40"/><stop offset="0.643" stop-color="#d45869"/><stop offset="0.679" stop-color="#b63587"/><stop offset="0.714" stop-color="#96169f"/><stop offset="0.75" stop-color="#7802a8"/><stop offset="0.786" stop-color="#6100a7"/><stop offset="0.821" stop-color="#4c02a2"/><stop offset="0.857" stop-color="#300597"/><stop offset="0.893" stop-color="#230591"/><stop offset="0.929" stop-color="#300597"/><stop offset="0.964" stop-color="#3f039d"/><stop offset="1" stop-color="#46039f"/></linearGradient><linearGradient id="h57" x1="0" y1="0" x2="0" y2="1"><stop offset="0" stop-color="#4703a0"/><stop offset="0.0357" stop-color="#41039e"/><stop offset="0.0714" stop-color="#330498"/><stop offset="0.107" stop-color="#290593"/><stop offset="0.143" stop-color="#350499"/><stop offset="0.179" stop-color="#4f02a3"/><stop offset="0.214" stop-color="#6300a7"/><stop offset="0.25" stop-color="#7903a8"/><stop offset="0.286" stop-color="#96169f"/><stop offset="0.321" stop-color="#b63587"/><stop offset="0.357" stop-color="#d45869"/><stop offset="0.393" stop-color="#e87c40"/><stop offset="0.429" stop-color="#f39a1c"/><stop offset="0.464" stop-color="#f6ae0b"/><stop offset="0.5" stop-color="#f6b308"/><stop offset="0.536" stop-color="#f6ad0c"/><stop offset="0.571" stop-color="#f39a1c"/><stop offset="0.607" stop-color="#e87b42"/><stop offset="0.643" stop-color="#d2566b"/><stop offset="0.679" stop-color="#b53388"/><stop offset="0.714" stop-color="#95149f"/><stop offset="0.75" stop-color="#7802a8"/><stop offset="0.786" stop-color="#6300a7"/><stop offset="0.821" stop-color="#4d02a2"/><stop offset="0.857" stop-color="#350499"/><stop offset="0.893" stop-color="#290593"/><stop offset="0.929" stop-color="#330498"/><stop offset="0.964" stop-color="#41039e"/><stop offset="1" stop-color="#4703a0"/></linearGradient><linearGradient id="h58" x1="0" y1="0" x2="0" y2="1"><stop offset="0" stop-color="#4903a1"/><stop offset="0.0357" stop-color="#44039f"/><stop offset="0.0714" stop-color="#39049a"/><stop offset="0.107" stop-color="#2e0596"/><stop offset="0.143" stop-color="#3c049c"/><stop offset="0.179" stop-color="#5202a4"/><stop offset="0.214" stop-color="#6500a8"/><stop offset="0.25" stop-color="#7b03a8"/><stop offset="0.286" stop-color="#97179e"/><stop offset="0.321" stop-color="#b63587"/><stop offset="0.357" stop-color="#d2566b"/><stop offset="0.393" stop-color="#e77943"/><stop offset="0.429" stop-color="#f2971f"/><stop offset="0.464" stop-color="#f6aa0e"/><stop offset="0.5" stop-color="#f6b00a"/><stop offset="0.536" stop-color="#f6aa0e"/><stop offset="0.571" stop-color="#f29620"/><stop offset="0.607" stop-color="#e77845"/><stop offset="0.643" stop-color="#d1556c"/><stop offset="0.679" stop-color="#b43288"/><stop offset="0.714" stop-color="#95149f"/><stop offset="0.75" stop-color="#7903a8"/><stop offset="0.786" stop-color="#6300a7"/><stop offset="0.821" stop-color="#5102a3"/><stop offset="0.857" stop-color="#3a049b"/><stop offset="0.893" stop-color="#2e0596"/><stop offset="0.929" stop-color="#39049a"/><stop offset="0.964" stop-color="#44039f"/><stop offset="1" stop-color="#4903a1"/></linearGradient><linearGradient id="h59" x1="0" y1="0" x2="0" y2="1"><stop offset="0" stop-color="#4d02a2"/><stop offset="0.0357" stop-color="#4903a1"/><stop offset="0.0714" stop-color="#3f039d"/><stop offset="0.107" stop-color="#39049a"/><stop offset="0.143" stop-color="#44039f"/><stop offset="0.179" stop-color="#5701a5"/><stop offset="0.214" stop-color="#6800a8"/><stop offset="0.25" stop-color="#7e04a7"/><stop offset="0.286" stop-color="#99189d"/><stop offset="0.321" stop-color="#b73686"/><stop offset="0.357" stop-color="#d3576a"/><stop offset="0.393" stop-color="#e77845"/><stop offset="0.429" stop-color="#f29621"/><stop offset="0.464" stop-color="#f6a80f"/><stop offset="0.5" stop-color="#f6ad0c"/><stop offset="0.536" stop-color="#f5a710"/><stop offset="0.571" stop-color="#f29422"/><stop offset="0.607" stop-color="#e67746"/><stop offset="0.643" stop-color="#d1556c"/><stop offset="0.679" stop-color="#b53388"/><stop offset="0.714" stop-color="#97179e"/><stop offset="0.75" stop-color="#7c04a8"/><stop offset="0.786" stop-color="#6800a8"/><stop offset="0.821" stop-color="#5501a4"/><stop offset="0.857" stop-color="#42039e"/><stop offset="0.893" stop-color="#39049a"/><stop offset="0.929" stop-color="#3f039d"/><stop offset="0.964" stop-color="#4903a1"/><stop offset="1" stop-color="#4d02a2"/></linearGradient><linearGradient id="h60" x1="0" y1="0" x2="0" y2="1"><stop offset="0" stop-color="#4c02a2"/><stop offset="0.0357" stop-color="#4903a1"/><stop offset="0.0714" stop-color="#42039e"/><stop offset="0.107" stop-color="#3d049c"/><stop offset="0.143" stop-color="#4703a0"/><stop offset="0.179" stop-color="#5701a5"/><stop offset="0.214" stop-color="#6800a8"/><stop offset="0.25" stop-color="#7c04a8"/><stop offset="0.286" stop-color="#99189d"/><stop offset="0.321" stop-color="#b63587"/><stop offset="0.357" stop-color="#d1556c"/><stop offset="0.393" stop-color="#e57648"/><stop offset="0.429" stop-color="#f19225"/><stop offset="0.464" stop-color="#f5a413"/><stop offset="0.5" stop-color="#f6a80f"/><stop offset="0.536" stop-color="#f5a413"/><stop offset="0.571" stop-color="#f19225"/><stop offset="0.607" stop-color="#e57449"/><stop offset="0.643" stop-color="#d0546d"/><stop offset="0.679" stop-color="#b53388"/><stop offset="0.714" stop-color="#97179e"/><stop offset="0.75" stop-color="#7c04a8"/><stop offset="0.786" stop-color="#6800a8"/><stop offset="0.821" stop-color="#5701a5"/><stop offset="0.857" stop-color="#46039f"/><stop offset="0.893" stop-color="#3d049c"/><stop offset="0.929" stop-color="#42039e"/><stop offset="0.964" stop-color="#4903a1"/><stop offset="1" stop-color="#4c02a2"/></linearGradient><linearGradient id="h61" x1="0" y1="0" x2="0" y2="1"><stop offset="0" stop-color="#4d02a2"/><stop offset="0.0357" stop-color="#4c02a2"/><stop offset="0.0714" stop-color="#4703a0"/><stop offset="0.107" stop-color="#44039f"/><stop offset="0.143" stop-color="#4c02a2"/><stop offset="0.179" stop-color="#5a01a6"/><stop offset="0.214" stop-color="#6b00a8"/><stop offset="0.25" stop-color="#7f05a7"/><stop offset="0.286" stop-color="#9a199d"/><stop offset="0.321" stop-color="#b63587"/><stop offset="0.357" stop-color="#d1556c"/><stop offset="0.393" stop-color="#e57449"/><stop offset="0.429" stop-color="#f08f28"/><stop offset="0.464" stop-color="#f4a115"/><stop offset="0.5" stop-color="#f5a511"/><stop offset="0.536" stop-color="#f4a016"/><stop offset="0.571" stop-color="#f08f28"/><stop offset="0.607" stop-color="#e4734b"/><stop offset="0.643" stop-color="#d0546d"/><stop offset="0.679" stop-color="#b53388"/><stop offset="0.714" stop-color="#99189d"/><stop offset="0.75" stop-color="#7e04a7"/><stop offset="0.786" stop-color="#6900a8"/><stop offset="0.821" stop-color="#5a01a6"/><stop offset="0.857" stop-color="#4c02a2"/><stop offset="0.893" stop-color="#44039f"/><stop offset="0.929" stop-color="#4703a0"/><stop offset="0.964" stop-color="#4c02a2"/><stop offset="1" stop-color="#4f02a3"/></linearGradient><linearGradient id="h62" x1="0" y1="0" x2="0" y2="1"><stop offset="0" stop-color="#5102a3"/><stop offset="0.0357" stop-color="#4d02a2"/><stop offset="0.0714" stop-color="#4a02a1"/><stop offset="0.107" stop-color="#4903a1"/><stop offset="0.143" stop-color="#5102a3"/><stop offset="0.179" stop-color="#5d01a6"/><stop offset="0.214" stop-color="#6c00a8"/><stop offset="0.25" stop-color="#8005a7"/><stop offset="0.286" stop-color="#9a199d"/><stop offset="0.321" stop-color="#b73686"/><stop offset="0.357" stop-color="#d0546d"/><stop offset="0.393" stop-color="#e4734b"/><stop offset="0.429" stop-color="#f08e2a"/><stop offset="0.464" stop-color="#f49e18"/><stop offset="0.5" stop-color="#f5a214"/><stop offset="0.536" stop-color="#f49d19"/><stop offset="0.571" stop-color="#ef8c2b"/><stop offset="0.607" stop-color="#e4724d"/><stop offset="0.643" stop-color="#cf536e"/><stop offset="0.679" stop-color="#b53388"/><stop offset="0.714" stop-color="#9a199d"/><stop offset="0.75" stop-color="#7f05a7"/><stop offset="0.786" stop-color="#6b00a8"/><stop offset="0.821" stop-color="#5d01a6"/><stop offset="0.857" stop-color="#5102a3"/><stop offset="0.893" stop-color="#4903a1"/><stop offset="0.929" stop-color="#4a02a1"/><stop offset="0.964" stop-color="#4d02a2"/><stop offset="1" stop-color="#5102a3"/></linearGradient><linearGradient id="h63" x1="0" y1="0" x2="0" y2="1"><stop offset="0" stop-color="#5202a4"/><stop offset="0.0357" stop-color="#5102a3"/><stop offset="0.0714" stop-color="#4d02a2"/><stop offset="0.107" stop-color="#4d02a2"/><stop offset="0.143" stop-color="#5401a4"/><stop offset="0.179" stop-color="#6000a7"/><stop offset="0.214" stop-color="#6d00a8"/><stop offset="0.25" stop-color="#8206a6"/><stop offset="0.286" stop-color="#9c1b9b"/><stop offset="0.321" stop-color="#b73686"/><stop offset="0.357" stop-color="#d1556c"/><stop offset="0.393" stop-color="#e4724c"/><stop offset="0.429" stop-color="#ef8c2b"/><stop offset="0.464" stop-color="#f39b1a"/><stop offset="0.5" stop-color="#f4a016"/><stop offset="0.536" stop-color="#f39b1b"/><stop offset="0.571" stop-color="#ef8b2d"/><stop offset="0.607" stop-color="#e3714e"/><stop offset="0.643" stop-color="#cf536e"/><stop offset="0.679" stop-color="#b63587"/><stop offset="0.714" stop-color="#9b1a9c"/><stop offset="0.75" stop-color="#8005a7"/><stop offset="0.786" stop-color="#6d00a8"/><stop offset="0.821" stop-color="#5e00a7"/><stop offset="0.857" stop-color="#5401a4"/><stop offset="0.893" stop-color="#4d02a2"/><stop offset="0.929" stop-color="#4d02a2"/><stop offset="0.964" stop-color="#5102a3"/><stop offset="1" stop-color="#5202a4"/></linearGradient><linearGradient id="h64" x1="0" y1="0" x2="0" y2="1"><stop offset="0" stop-color="#5401a4"/><stop offset="0.0357" stop-color="#5202a4"/><stop offset="0.0714" stop-color="#5102a3"/><stop offset="0.107" stop-color="#5202a4"/><stop offset="0.143" stop-color="#5801a5"/><stop offset="0.179" stop-color="#6100a7"/><stop offset="0.214" stop-color="#7001a8"/><stop offset="0.25" stop-color="#8307a6"/><stop offset="0.286" stop-color="#9e1c9a"/><stop offset="0.321" stop-color="#b83785"/><stop offset="0.357" stop-color="#d1556c"/><stop offset="0.393" stop-color="#e4724d"/><stop offset="0.429" stop-color="#ef8b2d"/><stop offset="0.464" stop-color="#f39a1c"/><stop offset="0.5" stop-color="#f49e18"/><stop offset="0.536" stop-color="#f39a1c"/><stop offset="0.571" stop-color="#ee8a2e"/><stop offset="0.607" stop-color="#e3714e"/><stop offset="0.643" stop-color="#d0546d"/><stop offset="0.679" stop-color="#b73686"/><stop offset="0.714" stop-color="#9c1b9b"/><stop offset="0.75" stop-color="#8307a6"/><stop offset="0.786" stop-color="#6f01a8"/><stop offset="0.821" stop-color="#6100a7"/><stop offset="0.857" stop-color="#5701a5"/><stop offset="0.893" stop-color="#5202a4"/><stop offset="0.929" stop-color="#5102a3"/><stop offset="0.964" stop-color="#5202a4"/><stop offset="1" stop-color="#5401a4"/></linearGradient><linearGradient id="h65" x1="0" y1="0" x2="0" y2="1"><stop offset="0" stop-color="#5202a4"/><stop offset="0.0357" stop-color="#5202a4"/><stop offset="0.0714" stop-color="#5202a4"/><stop offset="0.107" stop-color="#5401a4"/><stop offset="0.143" stop-color="#5801a5"/><stop offset="0.179" stop-color="#6300a7"/><stop offset="0.214" stop-color="#7201a8"/><stop offset="0.25" stop-color="#8609a5"/><stop offset="0.286" stop-color="#a01e99"/><stop offset="0.321" stop-color="#bc3b81"/><stop offset="0.357" stop-color="#d45968"/><stop offset="0.393" stop-color="#e77845"/><stop offset="0.429" stop-color="#f19324"/><stop offset="0.464" stop-color="#f5a413"/><stop offset="0.5" stop-color="#f6a80f"/><stop offset="0.536" stop-color="#f5a214"/><stop offset="0.571" stop-color="#f19225"/><stop offset="0.607" stop-color="#e67746"/><stop offset="0.643" stop-color="#d45869"/><stop offset="0.679" stop-color="#bb3a82"/><stop offset="0.714" stop-color="#9f1d9a"/><stop offset="0.75" stop-color="#8609a5"/><stop offset="0.786" stop-color="#7001a8"/><stop offset="0.821" stop-color="#6300a7"/><stop offset="0.857" stop-color="#5801a5"/><stop offset="0.893" stop-color="#5401a4"/><stop offset="0.929" stop-color="#5202a4"/><stop offset="0.964" stop-color="#5202a4"/><stop offset="1" stop-color="#5202a4"/></linearGradient><linearGradient id="h66" x1="0" y1="0" x2="0" y2="1"><stop offset="0" stop-color="#4f02a3"/><stop offset="0.0357" stop-color="#4f02a3"/><stop offset="0.0714" stop-color="#4f02a3"/><stop offset="0.107" stop-color="#5202a4"/><stop offset="0.143" stop-color="#5801a5"/><stop offset="0.179" stop-color="#6100a7"/><stop offset="0.214" stop-color="#7201a8"/><stop offset="0.25" stop-color="#870aa5"/><stop offset="0.286" stop-color="#a42296"/><stop offset="0.321" stop-color="#c0407d"/><stop offset="0.357" stop-color="#d96061"/><stop offset="0.393" stop-color="#eb8139"/><stop offset="0.429" stop-color="#f49e18"/><stop offset="0.464" stop-color="#f6b00a"/><stop offset="0.5" stop-color="#f6b606"/><stop offset="0.536" stop-color="#f6b00a"/><stop offset="0.571" stop-color="#f49d19"/><stop offset="0.607" stop-color="#ea803b"/><stop offset="0.643" stop-color="#d85f63"/><stop offset="0.679" stop-color="#be3d7f"/><stop offset="0.714" stop-color="#a22197"/><stop offset="0.75" stop-color="#870aa5"/><stop offset="0.786" stop-color="#7001a8"/><stop offset="0.821" stop-color="#6100a7"/><stop offset="0.857" stop-color="#5701a5"/><stop offset="0.893" stop-color="#5202a4"/><stop offset="0.929" stop-color="#4f02a3"/><stop offset="0.964" stop-color="#4f02a3"/><stop offset="1" stop-color="#4f02a3"/></linearGradient><linearGradient id="h67" x1="0" y1="0" x2="0" y2="1"><stop offset="0" stop-color="#5401a4"/><stop offset="0.0357" stop-color="#5401a4"/><stop offset="0.0714" stop-color="#5501a4"/><stop offset="0.107" stop-color="#5801a5"/><stop offset="0.143" stop-color="#5e00a7"/><stop offset="0.179" stop-color="#6900a8"/><stop offset="0.214" stop-color="#7903a8"/><stop offset="0.25" stop-color="#9111a1"/><stop offset="0.286" stop-color="#ac2990"/><stop offset="0.321" stop-color="#c84976"/><stop offset="0.357" stop-color="#e06b55"/><stop offset="0.393" stop-color="#f08e29"/><stop offset="0.429" stop-color="#f6ad0c"/><stop offset="0.464" stop-color="#f6c002"/><stop offset="0.5" stop-color="#f6c700"/><stop offset="0.536" stop-color="#f6c002"/><stop offset="0.571" stop-color="#f6ad0c"/><stop offset="0.607" stop-color="#ef8c2b"/><stop offset="0.643" stop-color="#df6a57"/><stop offset="0.679" stop-color="#c74777"/><stop offset="0.714" stop-color="#ab2891"/><stop offset="0.75" stop-color="#9010a2"/><stop offset="0.786" stop-color="#7903a8"/><stop offset="0.821" stop-color="#6900a8"/><stop offset="0.857" stop-color="#5e00a7"/><stop offset="0.893" stop-color="#5801a5"/><stop offset="0.929" stop-color="#5501a4"/><stop offset="0.964" stop-color="#5401a4"/><stop offset="1" stop-color="#5401a4"/></linearGradient><linearGradient id="h68" x1="0" y1="0" x2="0" y2="1"><stop offset="0" stop-color="#46039f"/><stop offset="0.0357" stop-color="#46039f"/><stop offset="0.0714" stop-color="#4703a0"/><stop offset="0.107" stop-color="#4c02a2"/><stop offset="0.143" stop-color="#5401a4"/><stop offset="0.179" stop-color="#6000a7"/><stop offset="0.214" stop-color="#7201a8"/><stop offset="0.25" stop-color="#8b0da4"/><stop offset="0.286" stop-color="#a92792"/><stop offset="0.321" stop-color="#c84976"/><stop offset="0.357" stop-color="#e16d53"/><stop offset="0.393" stop-color="#f19324"/><stop offset="0.429" stop-color="#f6b407"/><stop offset="0.464" stop-color="#f5ca00"/><stop offset="0.5" stop-color="#f4d000"/><stop offset="0.536" stop-color="#f5ca00"/><stop offset="0.571" stop-color="#f6b407"/><stop offset="0.607" stop-color="#f19225"/><stop offset="0.643" stop-color="#e06c54"/><stop offset="0.679" stop-color="#c74777"/><stop offset="0.714" stop-color="#a82693"/><stop offset="0.75" stop-color="#8a0ca4"/><stop offset="0.786" stop-color="#7001a8"/><stop offset="0.821" stop-color="#5e00a7"/><stop offset="0.857" stop-color="#5401a4"/><stop offset="0.893" stop-color="#4c02a2"/><stop offset="0.929" stop-color="#4703a0"/><stop offset="0.964" stop-color="#46039f"/><stop offset="1" stop-color="#46039f"/></linearGradient><linearGradient id="h69" x1="0" y1="0" x2="0" y2="1"><stop offset="0" stop-color="#3f039d"/><stop offset="0.0357" stop-color="#3f039d"/><stop offset="0.0714" stop-color="#42039e"/><stop offset="0.107" stop-color="#4903a1"/><stop offset="0.143" stop-color="#5102a3"/><stop offset="0.179" stop-color="#5e00a7"/><stop offset="0.214" stop-color="#7301a8"/><stop offset="0.25" stop-color="#8e0fa3"/><stop offset="0.286" stop-color="#ad2b8f"/><stop offset="0.321" stop-color="#cb4d72"/><stop offset="0.357" stop-color="#e4734b"/><stop offset="0.393" stop-color="#f39b1b"/><stop offset="0.429" stop-color="#f6bf02"/><stop offset="0.464" stop-color="#f3d700"/><stop offset="0.5" stop-color="#f1dd00"/><stop offset="0.536" stop-color="#f3d500"/><stop offset="0.571" stop-color="#f6bf02"/><stop offset="0.607" stop-color="#f39a1c"/><stop offset="0.643" stop-color="#e4724d"/><stop offset="0.679" stop-color="#ca4c73"/><stop offset="0.714" stop-color="#ac2990"/><stop offset="0.75" stop-color="#8d0ea3"/><stop offset="0.786" stop-color="#7201a8"/><stop offset="0.821" stop-color="#5e00a7"/><stop offset="0.857" stop-color="#5102a3"/><stop offset="0.893" stop-color="#4903a1"/><stop offset="0.929" stop-color="#42039e"/><stop offset="0.964" stop-color="#3f039d"/><stop offset="1" stop-color="#3f039d"/></linearGradient><linearGradient id="h70" x1="0" y1="0" x2="0" y2="1"><stop offset="0" stop-color="#37049a"/><stop offset="0.0357" stop-color="#39049a"/><stop offset="0.0714" stop-color="#3c049c"/><stop offset="0.107" stop-color="#44039f"/><stop offset="0.143" stop-color="#4d02a2"/><stop offset="0.179" stop-color="#5d01a6"/><stop offset="0.214" stop-color="#7201a8"/><stop offset="0.25" stop-color="#8e0fa3"/><stop offset="0.286" stop-color="#af2d8d"/><stop offset="0.321" stop-color="#ce5070"/><stop offset="0.357" stop-color="#e77845"/><stop offset="0.393" stop-color="#f4a115"/><stop offset="0.429" stop-color="#f6c700"/><stop offset="0.464" stop-color="#f1df00"/><stop offset="0.5" stop-color="#eee600"/><stop offset="0.536" stop-color="#f1dd00"/><stop offset="0.571" stop-color="#f6c500"/><stop offset="0.607" stop-color="#f4a016"/><stop offset="0.643" stop-color="#e57648"/><stop offset="0.679" stop-color="#cc4e71"/><stop offset="0.714" stop-color="#ae2c8e"/><stop offset="0.75" stop-color="#8d0ea3"/><stop offset="0.786" stop-color="#7201a8"/><stop offset="0.821" stop-color="#5b01a6"/><stop offset="0.857" stop-color="#4d02a2"/><stop offset="0.893" stop-color="#42039e"/><stop offset="0.929" stop-color="#3c049c"/><stop offset="0.964" stop-color="#39049a"/><stop offset="1" stop-color="#37049a"/></linearGradient><linearGradient id="h71" x1="0" y1="0" x2="0" y2="1"><stop offset="0" stop-color="#2c0595"/><stop offset="0.0357" stop-color="#300597"/><stop offset="0.0714" stop-color="#350499"/><stop offset="0.107" stop-color="#3d049c"/><stop offset="0.143" stop-color="#4a02a1"/><stop offset="0.179" stop-color="#5b01a6"/><stop offset="0.214" stop-color="#7201a8"/><stop offset="0.25" stop-color="#9010a2"/><stop offset="0.286" stop-color="#b12f8b"/><stop offset="0.321" stop-color="#d0546d"/><stop offset="0.357" stop-color="#e87c40"/><stop offset="0.393" stop-color="#f6a80f"/><stop offset="0.429" stop-color="#f5cf00"/><stop offset="0.464" stop-color="#eee700"/><stop offset="0.5" stop-color="#ebee01"/><stop offset="0.536" stop-color="#eee600"/><stop offset="0.571" stop-color="#f5cd00"/><stop offset="0.607" stop-color="#f5a511"/><stop offset="0.643" stop-color="#e87b42"/><stop offset="0.679" stop-color="#cf526f"/><stop offset="0.714" stop-color="#b02e8c"/><stop offset="0.75" stop-color="#8e0fa3"/><stop offset="0.786" stop-color="#7001a8"/><stop offset="0.821" stop-color="#5a01a6"/><stop offset="0.857" stop-color="#4903a1"/><stop offset="0.893" stop-color="#3d049c"/><stop offset="0.929" stop-color="#350499"/><stop offset="0.964" stop-color="#300597"/><stop offset="1" stop-color="#2c0595"/></linearGradient><linearGradient id="h72" x1="0" y1="0" x2="0" y2="1"><stop offset="0" stop-color="#250591"/><stop offset="0.0357" stop-color="#270592"/><stop offset="0.0714" stop-color="#2e0596"/><stop offset="0.107" stop-color="#39049a"/><stop offset="0.143" stop-color="#46039f"/><stop offset="0.179" stop-color="#5801a5"/><stop offset="0.214" stop-color="#7001a8"/><stop offset="0.25" stop-color="#9111a1"/><stop offset="0.286" stop-color="#b2308a"/><stop offset="0.321" stop-color="#d1556c"/><stop offset="0.357" stop-color="#ea7e3d"/><stop offset="0.393" stop-color="#f6ab0d"/><stop offset="0.429" stop-color="#f4d200"/><stop offset="0.464" stop-color="#edeb01"/><stop offset="0.5" stop-color="#e9f300"/><stop offset="0.536" stop-color="#edeb01"/><stop offset="0.571" stop-color="#f4d000"/><stop offset="0.607" stop-color="#f6aa0e"/><stop offset="0.643" stop-color="#e97d3f"/><stop offset="0.679" stop-color="#d0546d"/><stop offset="0.714" stop-color="#b12f8b"/><stop offset="0.75" stop-color="#9010a2"/><stop offset="0.786" stop-color="#7001a8"/><stop offset="0.821" stop-color="#5801a5"/><stop offset="0.857" stop-color="#46039f"/><stop offset="0.893" stop-color="#39049a"/><stop offset="0.929" stop-color="#2e0596"/><stop offset="0.964" stop-color="#270592"/><stop offset="1" stop-color="#250591"/></linearGradient><linearGradient id="h73" x1="0" y1="0" x2="0" y2="1"><stop offset="0" stop-color="#1f068f"/><stop offset="0.0357" stop-color="#210690"/><stop offset="0.0714" stop-color="#270592"/><stop offset="0.107" stop-color="#330498"/><stop offset="0.143" stop-color="#42039e"/><stop offset="0.179" stop-color="#5701a5"/><stop offset="0.214" stop-color="#7001a8"/><stop offset="0.25" stop-color="#9111a1"/><stop offset="0.286" stop-color="#b33189"/><stop offset="0.321" stop-color="#d2566b"/><stop offset="0.357" stop-color="#ea803b"/><stop offset="0.393" stop-color="#f6ad0c"/><stop offset="0.429" stop-color="#f4d300"/><stop offset="0.464" stop-color="#eced01"/><stop offset="0.5" stop-color="#e9f500"/><stop offset="0.536" stop-color="#eced01"/><stop offset="0.571" stop-color="#f4d200"/><stop offset="0.607" stop-color="#f6ab0d"/><stop offset="0.643" stop-color="#ea7e3d"/><stop offset="0.679" stop-color="#d1556c"/><stop offset="0.714" stop-color="#b12f8b"/><stop offset="0.75" stop-color="#9010a2"/><stop offset="0.786" stop-color="#6f01a8"/><stop offset="0.821" stop-color="#5501a4"/><stop offset="0.857" stop-color="#42039e"/><stop offset="0.893" stop-color="#320497"/><stop offset="0.929" stop-color="#270592"/><stop offset="0.964" stop-color="#210690"/><stop offset="1" stop-color="#1f068f"/></linearGradient><linearGradient id="h74" x1="0" y1="0" x2="0" y2="1"><stop offset="0" stop-color="#1a068d"/><stop offset="0.0357" stop-color="#1d068e"/><stop offset="0.0714" stop-color="#230591"/><stop offset="0.107" stop-color="#2e0596"/><stop offset="0.143" stop-color="#3f039d"/><stop offset="0.179" stop-color="#5401a4"/><stop offset="0.214" stop-color="#6f01a8"/><stop offset="0.25" stop-color="#9111a1"/><stop offset="0.286" stop-color="#b33189"/><stop offset="0.321" stop-color="#d3576a"/><stop offset="0.357" stop-color="#eb8238"/><stop offset="0.393" stop-color="#f6ae0b"/><stop offset="0.429" stop-color="#f3d700"/><stop offset="0.464" stop-color="#ebf000"/><stop offset="0.5" stop-color="#e9f500"/><stop offset="0.536" stop-color="#ebee01"/><stop offset="0.571" stop-color="#f3d500"/><stop offset="0.607" stop-color="#f6ad0c"/><stop offset="0.643" stop-color="#ea803b"/><stop offset="0.679" stop-color="#d2566b"/><stop offset="0.714" stop-color="#b2308a"/><stop offset="0.75" stop-color="#9010a2"/><stop offset="0.786" stop-color="#6d00a8"/><stop offset="0.821" stop-color="#5401a4"/><stop offset="0.857" stop-color="#3d049c"/><stop offset="0.893" stop-color="#2e0596"/><stop offset="0.929" stop-color="#210690"/><stop offset="0.964" stop-color="#1d068e"/><stop offset="1" stop-color="#1a068d"/></linearGradient><linearGradient id="h75" x1="0" y1="0" x2="0" y2="1"><stop offset="0" stop-color="#1a068d"/><stop offset="0.0357" stop-color="#1a068d"/><stop offset="0.0714" stop-color="#210690"/><stop offset="0.107" stop-color="#2c0595"/><stop offset="0.143" stop-color="#3d049c"/><stop offset="0.179" stop-color="#5401a4"/><stop offset="0.214" stop-color="#6f01a8"/><stop offset="0.25" stop-color="#9111a1"/><stop offset="0.286" stop-color="#b33189"/><stop offset="0.321" stop-color="#d45869"/><stop offset="0.357" stop-color="#eb8238"/><stop offset="0.393" stop-color="#f6b00a"/><stop offset="0.429" stop-color="#f3d700"/><stop offset="0.464" stop-color="#ebf000"/><stop offset="0.5" stop-color="#e9f500"/><stop offset="0.536" stop-color="#ebf000"/><stop offset="0.571" stop-color="#f3d500"/><stop offset="0.607" stop-color="#f6ae0b"/><stop offset="0.643" stop-color="#eb813a"/><stop offset="0.679" stop-color="#d2566b"/><stop offset="0.714" stop-color="#b2308a"/><stop offset="0.75" stop-color="#9010a2"/><stop offset="0.786" stop-color="#6d00a8"/><stop offset="0.821" stop-color="#5202a4"/><stop offset="0.857" stop-color="#3d049c"/><stop offset="0.893" stop-color="#2c0595"/><stop offset="0.929" stop-color="#210690"/><stop offset="0.964" stop-color="#1a068d"/><stop offset="1" stop-color="#1a068d"/></linearGradient>
<clipPath id="clipa"><rect x="249" y="53" width="758" height="644"/></clipPath>
<filter id="bla" color-interpolation-filters="sRGB" x="-5%" y="-5%" width="110%" height="110%"><feGaussianBlur stdDeviation="5 3"/></filter></defs>
<g clip-path="url(#clipa)"><g filter="url(#bla)"><rect x="239.0" y="49.0" width="10.8" height="652.0" fill="url(#h0)"/><rect x="249.2" y="49.0" width="10.8" height="652.0" fill="url(#h1)"/><rect x="259.5" y="49.0" width="10.8" height="652.0" fill="url(#h2)"/><rect x="269.7" y="49.0" width="10.8" height="652.0" fill="url(#h3)"/><rect x="279.9" y="49.0" width="10.8" height="652.0" fill="url(#h4)"/><rect x="290.2" y="49.0" width="10.8" height="652.0" fill="url(#h5)"/><rect x="300.4" y="49.0" width="10.8" height="652.0" fill="url(#h6)"/><rect x="310.7" y="49.0" width="10.8" height="652.0" fill="url(#h7)"/><rect x="320.9" y="49.0" width="10.8" height="652.0" fill="url(#h8)"/><rect x="331.1" y="49.0" width="10.8" height="652.0" fill="url(#h9)"/><rect x="341.4" y="49.0" width="10.8" height="652.0" fill="url(#h10)"/><rect x="351.6" y="49.0" width="10.8" height="652.0" fill="url(#h11)"/><rect x="361.8" y="49.0" width="10.8" height="652.0" fill="url(#h12)"/><rect x="372.1" y="49.0" width="10.8" height="652.0" fill="url(#h13)"/><rect x="382.3" y="49.0" width="10.8" height="652.0" fill="url(#h14)"/><rect x="392.6" y="49.0" width="10.8" height="652.0" fill="url(#h15)"/><rect x="402.8" y="49.0" width="10.8" height="652.0" fill="url(#h16)"/><rect x="413.0" y="49.0" width="10.8" height="652.0" fill="url(#h17)"/><rect x="423.3" y="49.0" width="10.8" height="652.0" fill="url(#h18)"/><rect x="433.5" y="49.0" width="10.8" height="652.0" fill="url(#h19)"/><rect x="443.7" y="49.0" width="10.8" height="652.0" fill="url(#h20)"/><rect x="454.0" y="49.0" width="10.8" height="652.0" fill="url(#h21)"/><rect x="464.2" y="49.0" width="10.8" height="652.0" fill="url(#h22)"/><rect x="474.4" y="49.0" width="10.8" height="652.0" fill="url(#h23)"/><rect x="484.7" y="49.0" width="10.8" height="652.0" fill="url(#h24)"/><rect x="494.9" y="49.0" width="10.8" height="652.0" fill="url(#h25)"/><rect x="505.2" y="49.0" width="10.8" height="652.0" fill="url(#h26)"/><rect x="515.4" y="49.0" width="10.8" height="652.0" fill="url(#h27)"/><rect x="525.6" y="49.0" width="10.8" height="652.0" fill="url(#h28)"/><rect x="535.9" y="49.0" width="10.8" height="652.0" fill="url(#h29)"/><rect x="546.1" y="49.0" width="10.8" height="652.0" fill="url(#h30)"/><rect x="556.3" y="49.0" width="10.8" height="652.0" fill="url(#h31)"/><rect x="566.6" y="49.0" width="10.8" height="652.0" fill="url(#h32)"/><rect x="576.8" y="49.0" width="10.8" height="652.0" fill="url(#h33)"/><rect x="587.1" y="49.0" width="10.8" height="652.0" fill="url(#h34)"/><rect x="597.3" y="49.0" width="10.8" height="652.0" fill="url(#h35)"/><rect x="607.5" y="49.0" width="10.8" height="652.0" fill="url(#h36)"/><rect x="617.8" y="49.0" width="10.8" height="652.0" fill="url(#h37)"/><rect x="628.0" y="49.0" width="10.8" height="652.0" fill="url(#h38)"/><rect x="638.2" y="49.0" width="10.8" height="652.0" fill="url(#h39)"/><rect x="648.5" y="49.0" width="10.8" height="652.0" fill="url(#h40)"/><rect x="658.7" y="49.0" width="10.8" height="652.0" fill="url(#h41)"/><rect x="668.9" y="49.0" width="10.8" height="652.0" fill="url(#h42)"/><rect x="679.2" y="49.0" width="10.8" height="652.0" fill="url(#h43)"/><rect x="689.4" y="49.0" width="10.8" height="652.0" fill="url(#h44)"/><rect x="699.7" y="49.0" width="10.8" height="652.0" fill="url(#h45)"/><rect x="709.9" y="49.0" width="10.8" height="652.0" fill="url(#h46)"/><rect x="720.1" y="49.0" width="10.8" height="652.0" fill="url(#h47)"/><rect x="730.4" y="49.0" width="10.8" height="652.0" fill="url(#h48)"/><rect x="740.6" y="49.0" width="10.8" height="652.0" fill="url(#h49)"/><rect x="750.8" y="49.0" width="10.8" height="652.0" fill="url(#h50)"/><rect x="761.1" y="49.0" width="10.8" height="652.0" fill="url(#h51)"/><rect x="771.3" y="49.0" width="10.8" height="652.0" fill="url(#h52)"/><rect x="781.6" y="49.0" width="10.8" height="652.0" fill="url(#h53)"/><rect x="791.8" y="49.0" width="10.8" height="652.0" fill="url(#h54)"/><rect x="802.0" y="49.0" width="10.8" height="652.0" fill="url(#h55)"/><rect x="812.3" y="49.0" width="10.8" height="652.0" fill="url(#h56)"/><rect x="822.5" y="49.0" width="10.8" height="652.0" fill="url(#h57)"/><rect x="832.7" y="49.0" width="10.8" height="652.0" fill="url(#h58)"/><rect x="843.0" y="49.0" width="10.8" height="652.0" fill="url(#h59)"/><rect x="853.2" y="49.0" width="10.8" height="652.0" fill="url(#h60)"/><rect x="863.4" y="49.0" width="10.8" height="652.0" fill="url(#h61)"/><rect x="873.7" y="49.0" width="10.8" height="652.0" fill="url(#h62)"/><rect x="883.9" y="49.0" width="10.8" height="652.0" fill="url(#h63)"/><rect x="894.2" y="49.0" width="10.8" height="652.0" fill="url(#h64)"/><rect x="904.4" y="49.0" width="10.8" height="652.0" fill="url(#h65)"/><rect x="914.6" y="49.0" width="10.8" height="652.0" fill="url(#h66)"/><rect x="924.9" y="49.0" width="10.8" height="652.0" fill="url(#h67)"/><rect x="935.1" y="49.0" width="10.8" height="652.0" fill="url(#h68)"/><rect x="945.3" y="49.0" width="10.8" height="652.0" fill="url(#h69)"/><rect x="955.6" y="49.0" width="10.8" height="652.0" fill="url(#h70)"/><rect x="965.8" y="49.0" width="10.8" height="652.0" fill="url(#h71)"/><rect x="976.1" y="49.0" width="10.8" height="652.0" fill="url(#h72)"/><rect x="986.3" y="49.0" width="10.8" height="652.0" fill="url(#h73)"/><rect x="996.5" y="49.0" width="10.8" height="652.0" fill="url(#h74)"/><rect x="1006.8" y="49.0" width="10.8" height="652.0" fill="url(#h75)"/></g><rect x="916.5" y="53" width="4" height="644" fill="#b2329a" opacity="0.28"/><rect x="928.5" y="53" width="3" height="644" fill="#b2329a" opacity="0.14"/><rect x="904.5" y="53" width="3" height="644" fill="#b2329a" opacity="0.1"/></g>
<rect x="249.0" y="53.0" width="758.0" height="644.0" fill="none" stroke="#100c1c" stroke-width="3.6"/>
<text x="22.0" y="90.0" class="pl" text-anchor="start" >(a)</text>
<text x="171.5" y="80.5" text-anchor="start" style="font-size:65px;">30</text>
<text x="204.0" y="399.0" text-anchor="start" style="font-size:65px;">0</text>
<text y="720.6" text-anchor="start" style="font-size:65px;"><tspan x="123.3" dy="2.2" textLength="48.4" lengthAdjust="spacingAndGlyphs">−</tspan><tspan x="171.5" dy="-2.2">30</tspan></text>
<line x1="249.0" y1="373.6" x2="261.0" y2="373.6" stroke="#222" stroke-width="3" />
<text transform="translate(112.0 400.0) rotate(-90)" class="t" text-anchor="middle" >r (μm)</text>
<text x="234.0" y="761.2" text-anchor="start" style="font-size:64px;">0</text>
<text x="332.0" y="761.2" text-anchor="start" style="font-size:64px;">1</text>
<text x="427.0" y="761.2" text-anchor="start" style="font-size:64px;">2</text>
<text x="521.0" y="761.2" text-anchor="start" style="font-size:64px;">3</text>
<text x="617.0" y="761.2" text-anchor="start" style="font-size:64px;">4</text>
<text x="713.0" y="761.2" text-anchor="start" style="font-size:64px;">5</text>
<text x="809.5" y="761.2" text-anchor="start" style="font-size:64px;">6</text>
<text x="904.6" y="761.2" text-anchor="start" style="font-size:64px;">7</text>
<line x1="351.2" y1="687.0" x2="351.2" y2="697.0" stroke="#5a4a6a" stroke-width="2.5" />
<line x1="446.4" y1="687.0" x2="446.4" y2="697.0" stroke="#5a4a6a" stroke-width="2.5" />
<line x1="541.6" y1="687.0" x2="541.6" y2="697.0" stroke="#5a4a6a" stroke-width="2.5" />
<line x1="636.8" y1="687.0" x2="636.8" y2="697.0" stroke="#5a4a6a" stroke-width="2.5" />
<line x1="732.0" y1="687.0" x2="732.0" y2="697.0" stroke="#5a4a6a" stroke-width="2.5" />
<line x1="827.2" y1="687.0" x2="827.2" y2="697.0" stroke="#5a4a6a" stroke-width="2.5" />
<line x1="922.4" y1="687.0" x2="922.4" y2="697.0" stroke="#5a4a6a" stroke-width="2.5" />
<text x="674.0" y="815.0" class="t" text-anchor="middle" >z (mm)</text>
<defs><linearGradient id="cb" x1="0" y1="0" x2="0" y2="1"><stop offset="0" stop-color="#e9f500"/><stop offset="0.0435" stop-color="#efe200"/><stop offset="0.087" stop-color="#f4d000"/><stop offset="0.13" stop-color="#f6bf02"/><stop offset="0.174" stop-color="#f6ae0b"/><stop offset="0.217" stop-color="#f49e18"/><stop offset="0.261" stop-color="#f08f28"/><stop offset="0.304" stop-color="#eb813a"/><stop offset="0.348" stop-color="#e4724c"/><stop offset="0.391" stop-color="#dc655c"/><stop offset="0.435" stop-color="#d45869"/><stop offset="0.478" stop-color="#ca4c73"/><stop offset="0.522" stop-color="#c0407d"/><stop offset="0.565" stop-color="#b53388"/><stop offset="0.609" stop-color="#a92792"/><stop offset="0.652" stop-color="#9c1b9b"/><stop offset="0.696" stop-color="#8d0ea3"/><stop offset="0.739" stop-color="#7e04a7"/><stop offset="0.783" stop-color="#6d00a8"/><stop offset="0.826" stop-color="#5d01a6"/><stop offset="0.87" stop-color="#4c02a2"/><stop offset="0.913" stop-color="#3a049b"/><stop offset="0.957" stop-color="#270592"/><stop offset="1" stop-color="#0c0787"/></linearGradient></defs><rect x="1034" y="68" width="63" height="622" fill="url(#cb)"/>
<rect x="1034.0" y="68.0" width="63.0" height="622.0" fill="none" stroke="#2a2a2a" stroke-width="3.5"/>
<line x1="1086.0" y1="145.9" x2="1097.0" y2="145.9" stroke="#333" stroke-width="3.5" />
<text x="1112.2" y="168.9" text-anchor="start" style="font-size:65px;">4</text>
<line x1="1086.0" y1="283.7" x2="1097.0" y2="283.7" stroke="#333" stroke-width="3.5" />
<text x="1112.2" y="306.7" text-anchor="start" style="font-size:65px;">3</text>
<line x1="1086.0" y1="418.6" x2="1097.0" y2="418.6" stroke="#333" stroke-width="3.5" />
<text x="1112.2" y="441.6" text-anchor="start" style="font-size:65px;">2</text>
<line x1="1086.0" y1="556.5" x2="1097.0" y2="556.5" stroke="#333" stroke-width="3.5" />
<text x="1112.2" y="579.5" text-anchor="start" style="font-size:65px;">1</text>
<text transform="translate(1168.0 382.0) rotate(90)" class="t" text-anchor="middle" ><tspan font-style="italic" font-size="70">a</tspan><tspan font-size="42" dy="9">0</tspan></text>
</g>
<g id="pb">
<defs><clipPath id="clipb"><rect x="1446.2" y="52.4" width="694.1" height="631.2"/></clipPath>
<filter id="bb40" color-interpolation-filters="sRGB" x="-50%" y="-50%" width="200%" height="200%"><feGaussianBlur stdDeviation="40"/></filter>
<filter id="bb18" color-interpolation-filters="sRGB" x="-50%" y="-50%" width="200%" height="200%"><feGaussianBlur stdDeviation="16"/></filter>
<filter id="bb6" color-interpolation-filters="sRGB" x="-50%" y="-50%" width="200%" height="200%"><feGaussianBlur stdDeviation="5"/></filter>
<filter id="bb2" color-interpolation-filters="sRGB" x="-50%" y="-50%" width="200%" height="200%"><feGaussianBlur stdDeviation="1.8"/></filter>
<filter id="bb1" color-interpolation-filters="sRGB" x="-50%" y="-50%" width="200%" height="200%"><feGaussianBlur stdDeviation="1"/></filter>
<linearGradient id="armg" gradientUnits="userSpaceOnUse" x1="1550" y1="0" x2="1765" y2="0"><stop offset="0" stop-color="#0b2f78" stop-opacity="0.95"/><stop offset="0.58" stop-color="#0b2f78" stop-opacity="1"/><stop offset="0.8" stop-color="#16509a" stop-opacity="0.8"/><stop offset="1" stop-color="#3a8ac0" stop-opacity="0"/></linearGradient><linearGradient id="armm" gradientUnits="userSpaceOnUse" x1="1550" y1="0" x2="1790" y2="0"><stop offset="0" stop-color="#2f86c0" stop-opacity="0.5"/><stop offset="0.6" stop-color="#2f86c0" stop-opacity="0.6"/><stop offset="1" stop-color="#4a96c8" stop-opacity="0"/></linearGradient>
<linearGradient id="armh" gradientUnits="userSpaceOnUse" x1="1540" y1="0" x2="1900" y2="0"><stop offset="0" stop-color="#2a7ab8" stop-opacity="0.35"/><stop offset="0.45" stop-color="#3a8ac4" stop-opacity="0.55"/><stop offset="0.8" stop-color="#5a9ad0" stop-opacity="0.12"/><stop offset="1" stop-color="#5a9ad0" stop-opacity="0"/></linearGradient>
<linearGradient id="strg" gradientUnits="userSpaceOnUse" x1="2000" y1="0" x2="2140" y2="0"><stop offset="0" stop-color="#b4d0ec" stop-opacity="0"/><stop offset="0.5" stop-color="#b4d0ec" stop-opacity="0.2"/><stop offset="1" stop-color="#a4c6e8" stop-opacity="0.55"/></linearGradient>
<linearGradient id="strb" gradientUnits="userSpaceOnUse" x1="1960" y1="0" x2="2140" y2="0"><stop offset="0" stop-color="#e0ebf7" stop-opacity="0"/><stop offset="1" stop-color="#d9e7f5" stop-opacity="0.9"/></linearGradient>
</defs>
<g clip-path="url(#clipb)">
<rect x="1441.2" y="47.4" width="704.1" height="641.2" fill="#e6eff9"/>
<ellipse cx="1800" cy="368.2" rx="215" ry="150" fill="#fbfdff" filter="url(#bb40)"/>
<ellipse cx="1730" cy="368.2" rx="130" ry="95" fill="#fcfeff" filter="url(#bb18)"/>
<ellipse cx="1960" cy="428.2" rx="120" ry="140" fill="#f6fafe" opacity="0.8" filter="url(#bb40)"/>
<ellipse cx="1500" cy="298.2" rx="45" ry="85" fill="#f6f9fd" opacity="0.8" filter="url(#bb18)"/>
<ellipse cx="1500" cy="448.2" rx="45" ry="90" fill="#f6f9fd" opacity="0.8" filter="url(#bb18)"/>
<rect x="1960" y="52.4" width="185" height="631.2" fill="url(#strb)"/>
<g filter="url(#bb2)"><path d="M2024.0 52.4V683.6M2041.3 52.4V683.6M2058.6 52.4V683.6M2075.9 52.4V683.6M2093.2 52.4V683.6M2110.5 52.4V683.6M2127.8 52.4V683.6M2145.1 52.4V683.6" stroke="url(#strg)" stroke-width="6" fill="none"/></g>
<path d="M1594.0 313.2 C1597.7 308.0 1608.7 291.5 1616.0 282.2 C1623.3 272.9 1630.7 265.0 1638.0 257.2 C1645.3 249.4 1652.7 242.0 1660.0 235.2 C1667.3 228.4 1674.7 222.0 1682.0 216.2 C1689.3 210.4 1696.7 205.7 1704.0 200.2 C1711.3 194.7 1718.7 188.2 1726.0 183.2 C1733.3 178.2 1738.7 175.2 1748.0 170.2 C1757.3 165.2 1768.3 159.9 1782.0 153.2 C1795.7 146.5 1810.3 138.0 1830.0 130.2 C1849.7 122.4 1888.3 110.2 1900.0 106.2" fill="none" stroke="url(#armh)" stroke-width="46" stroke-linecap="round" filter="url(#bb18)" transform="translate(-3 -6)"/>
<path d="M1594.0 423.2 C1597.7 428.4 1608.7 444.9 1616.0 454.2 C1623.3 463.5 1630.7 471.4 1638.0 479.2 C1645.3 487.0 1652.7 494.4 1660.0 501.2 C1667.3 508.0 1674.7 514.4 1682.0 520.2 C1689.3 526.0 1696.7 530.7 1704.0 536.2 C1711.3 541.7 1718.7 548.2 1726.0 553.2 C1733.3 558.2 1738.7 561.2 1748.0 566.2 C1757.3 571.2 1768.3 576.5 1782.0 583.2 C1795.7 589.9 1810.3 598.4 1830.0 606.2 C1849.7 614.0 1888.3 626.2 1900.0 630.2" fill="none" stroke="url(#armh)" stroke-width="46" stroke-linecap="round" filter="url(#bb18)" transform="translate(-3 6)"/>
<path d="M1572.0 333.2 C1575.7 329.9 1586.7 321.7 1594.0 313.2 C1601.3 304.7 1608.7 291.5 1616.0 282.2 C1623.3 272.9 1630.7 265.0 1638.0 257.2 C1645.3 249.4 1652.7 242.0 1660.0 235.2 C1667.3 228.4 1674.7 222.0 1682.0 216.2 C1689.3 210.4 1696.7 205.7 1704.0 200.2 C1711.3 194.7 1718.7 188.2 1726.0 183.2 C1733.3 178.2 1738.7 175.2 1748.0 170.2 C1757.3 165.2 1776.3 156.0 1782.0 153.2" fill="none" stroke="url(#armm)" stroke-width="24" stroke-linecap="round" filter="url(#bb6)" transform="translate(-4 -5)"/>
<path d="M1572.0 403.2 C1575.7 406.5 1586.7 414.7 1594.0 423.2 C1601.3 431.7 1608.7 444.9 1616.0 454.2 C1623.3 463.5 1630.7 471.4 1638.0 479.2 C1645.3 487.0 1652.7 494.4 1660.0 501.2 C1667.3 508.0 1674.7 514.4 1682.0 520.2 C1689.3 526.0 1696.7 530.7 1704.0 536.2 C1711.3 541.7 1718.7 548.2 1726.0 553.2 C1733.3 558.2 1738.7 561.2 1748.0 566.2 C1757.3 571.2 1776.3 580.4 1782.0 583.2" fill="none" stroke="url(#armm)" stroke-width="24" stroke-linecap="round" filter="url(#bb6)" transform="translate(-4 5)"/>
<ellipse cx="1560" cy="368.2" rx="30" ry="34" fill="#2f86c0" opacity="0.38" filter="url(#bb6)"/>
<rect x="1440" y="361.2" width="100" height="14" fill="#6fa3d6" opacity="0.45" filter="url(#bb6)"/>
<rect x="1447" y="365.59999999999997" width="70" height="5.2" fill="#1d4c98" filter="url(#bb1)"/>
<rect x="1512" y="366.2" width="24" height="4" fill="#3f7fc0" opacity="0.6" filter="url(#bb2)"/>
<path d="M1556.0 345.2 C1558.7 343.2 1565.7 338.5 1572.0 333.2 C1578.3 327.9 1586.7 321.7 1594.0 313.2 C1601.3 304.7 1608.7 291.5 1616.0 282.2 C1623.3 272.9 1630.7 265.0 1638.0 257.2 C1645.3 249.4 1652.7 242.0 1660.0 235.2 C1667.3 228.4 1674.7 222.0 1682.0 216.2 C1689.3 210.4 1696.7 205.7 1704.0 200.2 C1711.3 194.7 1718.7 188.2 1726.0 183.2 C1733.3 178.2 1738.7 175.2 1748.0 170.2 C1757.3 165.2 1776.3 156.0 1782.0 153.2" fill="none" stroke="url(#armg)" stroke-width="15.5" stroke-linecap="round" filter="url(#bb2)"/>
<path d="M1556.0 391.2 C1558.7 393.2 1565.7 397.9 1572.0 403.2 C1578.3 408.5 1586.7 414.7 1594.0 423.2 C1601.3 431.7 1608.7 444.9 1616.0 454.2 C1623.3 463.5 1630.7 471.4 1638.0 479.2 C1645.3 487.0 1652.7 494.4 1660.0 501.2 C1667.3 508.0 1674.7 514.4 1682.0 520.2 C1689.3 526.0 1696.7 530.7 1704.0 536.2 C1711.3 541.7 1718.7 548.2 1726.0 553.2 C1733.3 558.2 1738.7 561.2 1748.0 566.2 C1757.3 571.2 1776.3 580.4 1782.0 583.2" fill="none" stroke="url(#armg)" stroke-width="15.5" stroke-linecap="round" filter="url(#bb2)"/>
<path d="M1546 368.2 L1586 349.2 Q1594 368.2 1586 387.2 Z" fill="#0b2f78" filter="url(#bb2)"/>
<g filter="url(#bb1)" stroke="#143a86" stroke-width="7" fill="none" stroke-linecap="round"><path d="M1643.5 347.2 Q1654.5 368.2 1643.5 389.2"/><path d="M1658.5 347.2 Q1646.5 368.2 1658.5 389.2"/></g>
<ellipse cx="1650.5" cy="368.2" rx="6" ry="12" fill="#0f2f78" filter="url(#bb1)"/>
<path d="M1446.1 204.8 L1448.8 203.7 L1455.4 201.5 L1462.0 199.4 L1466.4 186.2 L1472.9 175.2 L1481.7 169.7 L1487.2 153.2 L1492.7 153.2 L1498.2 140.1 L1508.1 132.4 L1515.8 135.7 L1520.2 115.9 L1527.9 104.9 L1534.4 90.6 L1538.8 97.2 L1543.2 82.9 L1548.7 73.1 L1553.1 82.9 L1558.6 85.1 L1561.9 93.9 L1565.2 126.9 L1568.5 159.8 L1571.8 203.7 L1575.1 247.7 L1577.9 291.6 L1580.6 335.5 L1582.8 368.5 L1583.2 372.0 L1583.9 415.9 L1585.0 481.8 L1586.1 547.7 L1587.6 598.2 L1591.5 558.7 L1594.8 549.9 L1599.2 554.3 L1603.6 563.0 L1609.1 570.7 L1613.5 576.2 L1620.1 575.1 L1627.8 583.9 L1633.3 578.4 L1639.9 574.0 L1646.5 572.9 L1649.8 605.9 L1654.1 593.8 L1658.5 592.7 L1664.0 596.0 L1669.5 586.1 L1676.1 576.2 L1682.7 579.5 L1688.2 569.6 L1694.8 561.9 L1701.4 558.7 L1710.2 552.1 L1718.9 544.4 L1725.5 534.5 L1732.1 533.4 L1740.9 523.5 L1747.5 514.7 L1756.3 507.0 L1765.1 497.2 L1773.8 488.4 L1782.6 479.6 L1791.4 470.8 L1800.0 462.0 L1809.3 454.2 L1818.6 439.3 L1827.9 433.4 L1837.3 418.6 L1846.6 412.7 L1855.9 399.9 L1862.5 389.3 L1871.3 390.4 L1877.9 375.1 L1884.4 361.9 L1893.2 360.8 L1899.8 346.5 L1906.4 339.9 L1915.2 336.6 L1921.8 322.3 L1928.4 318.0 L1935.0 311.4 L1943.7 298.2 L1952.5 289.4 L1961.3 276.2 L1970.1 267.4 L1978.9 257.6 L1987.7 248.8 L1996.5 234.5 L2005.2 232.3 L2014.0 216.9 L2020.6 212.5 L2026.1 213.6 L2033.8 201.5 L2038.2 196.1 L2043.7 197.2 L2051.4 187.3 L2056.9 184.0 L2062.3 178.5 L2068.9 175.2 L2074.4 168.6 L2078.2 164.2 L2082.1 169.7 L2087.6 170.8 L2094.2 182.9 L2099.7 184.0 L2106.3 199.4 L2112.9 216.9 L2118.4 234.5 L2122.7 238.9 L2127.1 256.5 L2132.6 267.4 L2139.2 278.4 L2141.4 287.2" fill="none" stroke="#3a5cdc" stroke-width="4.8" stroke-linejoin="round"/>
</g>
<rect x="1446.2" y="52.4" width="694.1" height="631.2" fill="none" stroke="#0c0c0c" stroke-width="4.3"/>
<text x="1222.0" y="86.2" class="pl" text-anchor="start" >(b)</text>
<text x="1364.5" y="81.5" text-anchor="start" style="font-size:66px;">20</text>
<text x="1364.5" y="237.7" text-anchor="start" style="font-size:66px;">10</text>
<line x1="1446.2" y1="211.4" x2="1460.2" y2="211.4" stroke="#111" stroke-width="4" />
<text x="1397.5" y="392.5" text-anchor="start" style="font-size:66px;">0</text>
<line x1="1446.2" y1="368.2" x2="1460.2" y2="368.2" stroke="#111" stroke-width="4" />
<text y="549.5" text-anchor="start" style="font-size:66px;"><tspan x="1319.1" dy="2.2" textLength="49.1" lengthAdjust="spacingAndGlyphs">−</tspan><tspan x="1364.5" dy="-2.2">10</tspan></text>
<line x1="1446.2" y1="525.0" x2="1460.2" y2="525.0" stroke="#111" stroke-width="4" />
<text y="702.5" text-anchor="start" style="font-size:66px;"><tspan x="1315.6" dy="2.2" textLength="49.1" lengthAdjust="spacingAndGlyphs">−</tspan><tspan x="1364.5" dy="-2.2">20</tspan></text>
<text transform="translate(1312.0 370.0) rotate(-90)" class="t" text-anchor="middle" >r (μm)</text>
<text y="756.8" text-anchor="start" style="font-size:66px;"><tspan x="1383.1" dy="2.2" textLength="49.1" lengthAdjust="spacingAndGlyphs">−</tspan><tspan x="1432.0" dy="-2.2">30</tspan></text>
<text y="756.8" text-anchor="start" style="font-size:66px;"><tspan x="1611.5" dy="2.2" textLength="49.1" lengthAdjust="spacingAndGlyphs">−</tspan><tspan x="1660.4" dy="-2.2">20</tspan></text>
<line x1="1677.0" y1="671.6" x2="1677.0" y2="683.6" stroke="#111" stroke-width="4" />
<text y="756.8" text-anchor="start" style="font-size:66px;"><tspan x="1853.2" dy="2.2" textLength="49.1" lengthAdjust="spacingAndGlyphs">−</tspan><tspan x="1898.6" dy="-2.2">10</tspan></text>
<line x1="1908.0" y1="671.6" x2="1908.0" y2="683.6" stroke="#111" stroke-width="4" />
<text x="2128.5" y="756.8" text-anchor="start" style="font-size:66px;">0</text>
<text y="811.7" text-anchor="start" style="font-size:68px"><tspan x="1705" font-style="italic">ξ</tspan><tspan x="1743.0"> (μm)</tspan></text>
<text x="1920.0" y="116.0" class="t" text-anchor="middle" >z = 3.8 mm</text>
<line x1="2125.3" y1="106.5" x2="2140.3" y2="106.5" stroke="#111" stroke-width="4" />
<text x="2167.5" y="124.0" text-anchor="start" style="font-size:66px;">200</text>
<line x1="2125.3" y1="236.8" x2="2140.3" y2="236.8" stroke="#111" stroke-width="4" />
<text x="2167.5" y="256.0" text-anchor="start" style="font-size:66px;">100</text>
<line x1="2125.3" y1="367.2" x2="2140.3" y2="367.2" stroke="#111" stroke-width="4" />
<text x="2201.5" y="389.0" text-anchor="start" style="font-size:66px;">0</text>
<line x1="2125.3" y1="497.8" x2="2140.3" y2="497.8" stroke="#111" stroke-width="4" />
<text y="519.8" text-anchor="start" style="font-size:66px;"><tspan x="2143.1" dy="2.2" textLength="49.1" lengthAdjust="spacingAndGlyphs">−</tspan><tspan x="2188.5" dy="-2.2">100</tspan></text>
<line x1="2125.3" y1="629.3" x2="2140.3" y2="629.3" stroke="#111" stroke-width="4" />
<text y="652.4" text-anchor="start" style="font-size:66px;"><tspan x="2138.6" dy="2.2" textLength="49.1" lengthAdjust="spacingAndGlyphs">−</tspan><tspan x="2187.5" dy="-2.2">200</tspan></text>
<text transform="translate(2334.0 210.0) rotate(90)" class="t" text-anchor="start" >E<tspan font-size="57" dy="14.5">z</tspan><tspan dy="-14.5">(GVm</tspan><tspan font-size="64" dy="-21" dx="3">−</tspan><tspan font-size="64" dx="4">1</tspan><tspan dy="21" dx="6">)</tspan></text>
</g>
<g id="pc">
<defs><clipPath id="clipc"><rect x="253.0" y="894.0" width="838.0" height="579.5"/></clipPath></defs>
<g clip-path="url(#clipc)">
<line x1="253.8" y1="1036.0" x2="1093" y2="1292.8" stroke="#3f88d2" stroke-width="5.4" stroke-dasharray="20 18.7" stroke-dashoffset="0"/>
<line x1="253.8" y1="1143.5" x2="1093" y2="1209.8" stroke="#222" stroke-width="5.4" stroke-dasharray="19.5 19.3" stroke-dashoffset="0"/>
<line x1="253.8" y1="1146.0" x2="1093" y2="1185.4" stroke="#e85a5c" stroke-width="5.4" stroke-dasharray="19.5 19.3" stroke-dashoffset="0"/>
<path d="M626 1222h0M616 1256h0M620 1265h0M605 1208h0M606 1217h0M621 1293h0M634 1210h0M643 1224h0M627 1296h0M635 1267h0M622 1243h0M608 1252h0M627 1272h0M629 1238h0M619 1219h0M628 1283h0M630 1272h0M617 1254h0M616 1286h0M623 1263h0M626 1298h0M620 1227h0M634 1262h0M641 1251h0M620 1242h0M632 1266h0M634 1228h0M631 1284h0M634 1287h0M619 1215h0M632 1253h0M646 1233h0M633 1214h0M623 1288h0M631 1251h0M638 1220h0M629 1272h0M618 1226h0M637 1290h0M610 1231h0M630 1208h0M624 1226h0M612 1239h0M636 1255h0M629 1293h0M617 1273h0M631 1241h0M618 1203h0M602 1220h0M623 1297h0M628 1253h0M631 1273h0M625 1209h0M624 1209h0M630 1288h0M624 1264h0M637 1240h0M626 1238h0M627 1214h0M630 1225h0M610 1206h0M622 1287h0M639 1250h0M628 1222h0M624 1275h0M628 1226h0M617 1208h0M628 1266h0M622 1293h0M627 1209h0M615 1284h0M639 1223h0M617 1213h0M603 1204h0M622 1234h0M623 1278h0M627 1256h0M619 1287h0M628 1229h0M662 1236h0M610 1231h0M629 1295h0M625 1295h0M627 1242h0M608 1251h0M613 1240h0M630 1275h0M623 1207h0M644 1212h0M618 1244h0M626 1230h0M647 1288h0M620 1279h0M617 1262h0M626 1270h0M626 1273h0M632 1283h0M628 1292h0M615 1222h0M627 1270h0M655 1220h0M637 1249h0M606 1281h0M626 1291h0M620 1280h0M631 1208h0M623 1244h0M646 1220h0M633 1297h0M634 1221h0M626 1229h0M624 1240h0M628 1209h0M635 1286h0M630 1268h0M620 1220h0M637 1256h0M626 1217h0M625 1266h0M615 1233h0M616 1209h0M616 1215h0M601 1260h0M634 1266h0M630 1241h0M624 1266h0M635 1245h0M629 1220h0M628 1234h0M601 1248h0M625 1295h0M630 1216h0M643 1216h0M641 1258h0M636 1296h0M619 1288h0M609 1275h0M630 1208h0M627 1278h0M634 1273h0M622 1225h0M627 1251h0M605 1211h0M630 1283h0M623 1275h0M629 1284h0M630 1282h0M623 1231h0M629 1282h0M624 1232h0M633 1217h0M630 1249h0M620 1260h0M618 1234h0M640 1269h0M625 1265h0M635 1230h0M629 1270h0M619 1243h0M620 1277h0M626 1239h0M628 1285h0M631 1250h0M614 1258h0M621 1268h0M624 1260h0M642 1231h0M612 1298h0M629 1213h0M619 1239h0M629 1258h0M617 1210h0M628 1220h0M638 1282h0M629 1280h0M629 1271h0M629 1288h0M621 1278h0M630 1236h0M624 1270h0M616 1242h0M626 1277h0M623 1246h0M633 1221h0M626 1290h0M622 1273h0M637 1276h0M634 1261h0M636 1282h0M631 1256h0M625 1261h0M618 1212h0M623 1264h0M633 1279h0M627 1271h0M616 1280h0M625 1255h0M617 1294h0M626 1217h0M618 1291h0M612 1243h0M625 1210h0M625 1262h0M609 1254h0M632 1250h0M641 1284h0M606 1222h0M641 1263h0M618 1250h0M621 1261h0M624 1254h0M607 1217h0M637 1259h0M630 1285h0M615 1225h0M620 1202h0M605 1213h0M622 1252h0M633 1296h0M602 1207h0M624 1299h0M627 1255h0M636 1217h0M638 1247h0M619 1229h0M620 1272h0M629 1263h0M621 1235h0M621 1230h0M634 1291h0M677 1264h0M662 1247h0M684 1284h0M664 1255h0M681 1277h0M664 1291h0M677 1266h0M665 1249h0M673 1234h0M671 1288h0M658 1279h0M666 1279h0M673 1228h0M679 1251h0M665 1289h0M649 1231h0M668 1284h0M672 1262h0M665 1226h0M665 1246h0M682 1210h0M682 1270h0M680 1276h0M660 1205h0M673 1237h0M673 1281h0M656 1224h0M681 1259h0M675 1282h0M669 1258h0M689 1218h0M680 1290h0M681 1280h0M684 1260h0M680 1243h0M663 1262h0M669 1250h0M684 1219h0M663 1219h0M672 1211h0M677 1225h0M688 1234h0M685 1271h0M681 1262h0M672 1261h0M681 1279h0M678 1214h0M671 1247h0M688 1214h0M678 1249h0M662 1212h0M687 1210h0M669 1216h0M679 1246h0M663 1276h0M672 1237h0M667 1274h0M662 1230h0M652 1234h0M693 1252h0M670 1211h0M675 1249h0M683 1263h0M674 1282h0M678 1215h0M665 1281h0M675 1261h0M670 1262h0M678 1208h0M676 1284h0M658 1234h0M657 1261h0M664 1256h0M680 1292h0M677 1263h0M677 1298h0M650 1231h0M652 1271h0M668 1264h0M670 1256h0M669 1269h0M677 1259h0M671 1241h0M664 1270h0M661 1213h0M675 1251h0M674 1253h0M671 1226h0M693 1260h0M672 1269h0M673 1220h0M662 1236h0M667 1207h0M678 1266h0M678 1218h0M670 1233h0M677 1250h0M674 1252h0M648 1208h0M654 1296h0M698 1230h0M681 1264h0M671 1230h0M659 1266h0M660 1239h0M687 1238h0M647 1254h0M671 1264h0M681 1266h0M675 1274h0M680 1235h0M670 1214h0M698 1229h0M662 1241h0M662 1268h0M676 1252h0M687 1238h0M671 1215h0M682 1267h0M665 1220h0M663 1258h0M685 1274h0M687 1265h0M690 1224h0M668 1241h0M667 1294h0M657 1214h0M672 1271h0M679 1246h0M678 1264h0M659 1247h0M674 1218h0M674 1261h0M672 1204h0M674 1289h0M673 1284h0M679 1242h0M674 1259h0M675 1258h0M671 1296h0M676 1206h0M671 1236h0M652 1245h0M678 1285h0M672 1276h0M682 1248h0M669 1203h0M673 1273h0M675 1245h0M672 1217h0M670 1266h0M656 1250h0M692 1237h0M655 1236h0M670 1255h0M679 1232h0M677 1249h0M678 1293h0M680 1253h0M686 1230h0M676 1252h0M694 1292h0M668 1290h0M676 1271h0M672 1287h0M670 1279h0M676 1272h0M687 1251h0M664 1223h0M669 1276h0M680 1269h0M678 1293h0M693 1241h0M682 1289h0M675 1231h0M673 1297h0M676 1298h0M669 1209h0M658 1237h0M675 1295h0M674 1296h0M672 1271h0M667 1217h0M693 1205h0M680 1232h0M681 1295h0M670 1281h0M663 1246h0M672 1280h0M676 1292h0M669 1237h0M673 1288h0M683 1233h0M676 1239h0M659 1208h0M667 1218h0M668 1262h0M673 1203h0M663 1259h0M670 1223h0M679 1278h0M672 1216h0M662 1230h0M666 1235h0M675 1265h0M678 1285h0M680 1277h0M673 1271h0M663 1273h0M686 1262h0M676 1243h0M677 1223h0M677 1287h0M663 1248h0M671 1266h0M675 1211h0M683 1242h0M672 1219h0M641 1241h0M672 1280h0M676 1241h0M684 1269h0M680 1223h0M697 1243h0M687 1249h0M685 1260h0M683 1229h0M663 1271h0M680 1291h0M679 1283h0M702 1215h0M708 1229h0M738 1209h0M717 1231h0M716 1275h0M711 1217h0M723 1266h0M723 1236h0M705 1229h0M730 1256h0M706 1250h0M714 1247h0M720 1218h0M732 1264h0M716 1287h0M718 1202h0M731 1213h0M722 1261h0M728 1237h0M727 1232h0M720 1295h0M722 1238h0M724 1293h0M717 1264h0M735 1207h0M694 1236h0M703 1212h0M730 1260h0M721 1293h0M707 1209h0M719 1209h0M728 1208h0M710 1232h0M724 1224h0M718 1298h0M717 1282h0M718 1293h0M727 1264h0M710 1287h0M715 1275h0M723 1238h0M707 1272h0M699 1236h0M722 1254h0M718 1284h0M714 1231h0M717 1224h0M711 1285h0M744 1252h0M704 1224h0M711 1239h0M701 1236h0M715 1288h0M731 1252h0M718 1293h0M722 1254h0M715 1294h0M730 1297h0M718 1264h0M709 1281h0M724 1237h0M710 1220h0M722 1266h0M716 1207h0M719 1253h0M718 1267h0M711 1284h0M708 1287h0M726 1230h0M717 1287h0M719 1257h0M713 1266h0M698 1253h0M709 1289h0M730 1237h0M704 1206h0M715 1285h0M705 1269h0M713 1275h0M711 1217h0M713 1227h0M717 1270h0M713 1275h0M713 1267h0M717 1264h0M720 1273h0M713 1223h0M733 1254h0M718 1242h0M719 1275h0M711 1258h0M725 1270h0M709 1272h0M708 1292h0M711 1284h0M722 1206h0M708 1268h0M729 1244h0M714 1218h0M702 1259h0M716 1289h0M731 1279h0M704 1212h0M701 1227h0M721 1275h0M727 1293h0M727 1212h0M711 1214h0M719 1273h0M720 1266h0M726 1284h0M739 1229h0M716 1256h0M727 1284h0M713 1249h0M722 1245h0M703 1205h0M712 1283h0M720 1255h0M707 1245h0M724 1272h0M714 1286h0M719 1290h0M715 1240h0M714 1267h0M717 1246h0M725 1286h0M740 1285h0M708 1273h0M720 1283h0M715 1259h0M709 1259h0M718 1225h0M711 1280h0M715 1237h0M728 1263h0M688 1203h0M719 1248h0M721 1266h0M709 1269h0M721 1261h0M719 1231h0M714 1270h0M727 1270h0M706 1261h0M722 1249h0M712 1222h0M708 1258h0M712 1212h0M716 1292h0M724 1243h0M700 1237h0M715 1250h0M709 1211h0M729 1289h0M712 1298h0M725 1286h0M702 1261h0M721 1294h0M714 1241h0M720 1252h0M707 1223h0M697 1250h0M708 1291h0M728 1274h0M719 1258h0M709 1259h0M724 1268h0M711 1265h0M709 1253h0M706 1259h0M729 1219h0M735 1252h0M709 1271h0M718 1231h0M726 1232h0M733 1283h0M687 1221h0M717 1228h0M722 1282h0M697 1215h0M720 1240h0M719 1291h0M723 1245h0M714 1281h0M721 1279h0M706 1208h0M722 1229h0M719 1294h0M712 1240h0M702 1248h0M729 1296h0M728 1216h0M724 1297h0M712 1268h0M714 1266h0M735 1204h0M723 1266h0M712 1284h0M716 1245h0M716 1212h0M712 1218h0M703 1215h0M728 1248h0M722 1284h0M712 1214h0M701 1241h0M710 1245h0M716 1241h0M724 1258h0M713 1260h0M727 1229h0M719 1282h0M710 1256h0M688 1246h0M711 1297h0M706 1274h0M713 1221h0M720 1297h0M729 1262h0M716 1240h0M703 1231h0M743 1212h0M719 1230h0M713 1238h0M713 1239h0M710 1296h0M722 1265h0M719 1226h0M732 1244h0M760 1258h0M781 1221h0M770 1224h0M775 1286h0M749 1272h0M768 1274h0M750 1221h0M759 1295h0M770 1230h0M778 1240h0M749 1234h0M761 1295h0M762 1268h0M765 1261h0M753 1247h0M784 1274h0M771 1255h0M763 1252h0M759 1225h0M784 1285h0M792 1212h0M764 1291h0M770 1292h0M777 1258h0M751 1226h0M758 1233h0M780 1218h0M761 1274h0M761 1244h0M759 1296h0M758 1240h0M772 1239h0M760 1267h0M758 1290h0M760 1258h0M785 1218h0M767 1224h0M762 1275h0M768 1284h0M770 1299h0M767 1264h0M754 1280h0M769 1272h0M764 1260h0M773 1283h0M749 1225h0M777 1220h0M760 1239h0M748 1247h0M776 1296h0M763 1283h0M770 1278h0M766 1285h0M776 1247h0M774 1298h0M775 1292h0M773 1227h0M749 1244h0M747 1240h0M767 1225h0M761 1295h0M770 1245h0M768 1289h0M754 1267h0M751 1210h0M755 1248h0M760 1280h0M763 1239h0M772 1242h0M780 1214h0M757 1249h0M764 1293h0M784 1202h0M773 1289h0M768 1265h0M740 1233h0M760 1289h0M768 1289h0M764 1297h0M784 1251h0M766 1250h0M769 1273h0M760 1288h0M754 1241h0M758 1240h0M759 1249h0M761 1202h0M770 1286h0M768 1256h0M775 1253h0M755 1268h0M768 1283h0M768 1272h0M781 1242h0M763 1237h0M768 1241h0M758 1260h0M770 1285h0M769 1200h0M761 1266h0M764 1285h0M766 1262h0M771 1243h0M755 1252h0M774 1259h0M763 1267h0M787 1212h0M777 1281h0M762 1261h0M758 1235h0M783 1287h0M772 1245h0M771 1280h0M760 1238h0M765 1263h0M774 1224h0M771 1238h0M756 1240h0M779 1222h0M769 1278h0M756 1250h0M775 1244h0M764 1263h0M773 1230h0M760 1253h0M769 1266h0M752 1263h0M769 1248h0M755 1277h0M768 1292h0M751 1301h0M765 1261h0M772 1297h0M770 1296h0M776 1272h0M751 1219h0M779 1270h0M780 1257h0M757 1269h0M756 1231h0M764 1299h0M765 1243h0M769 1295h0M738 1231h0M771 1254h0M764 1265h0M754 1234h0M775 1249h0M763 1265h0M775 1280h0M771 1292h0M763 1264h0M775 1297h0M773 1235h0M762 1266h0M754 1281h0M757 1214h0M771 1281h0M765 1281h0M781 1263h0M769 1293h0M768 1278h0M769 1244h0M760 1283h0M765 1257h0M761 1274h0M753 1298h0M752 1272h0M772 1284h0M764 1287h0M763 1226h0M745 1206h0M757 1215h0M773 1251h0M768 1302h0M761 1251h0M777 1295h0M764 1234h0M760 1221h0M777 1250h0M755 1287h0M771 1296h0M756 1265h0M757 1246h0M762 1281h0M767 1248h0M766 1237h0M769 1282h0M766 1212h0M777 1281h0M778 1294h0M773 1219h0M772 1281h0M759 1208h0M751 1220h0M771 1235h0M768 1301h0M775 1212h0M748 1250h0M791 1252h0M750 1232h0M768 1297h0M776 1232h0M758 1288h0M761 1261h0M751 1274h0M756 1279h0M751 1272h0M768 1281h0M769 1292h0M760 1220h0M779 1213h0M779 1252h0M764 1215h0M764 1265h0M766 1294h0M762 1257h0M779 1225h0M767 1215h0M763 1261h0M765 1274h0M771 1286h0M764 1279h0M769 1252h0M767 1287h0M778 1261h0M776 1272h0M745 1203h0M764 1257h0M773 1214h0M767 1203h0M752 1226h0M766 1217h0M671 1209h0M620 1217h0M724 1202h0M609 1208h0M781 1207h0M692 1221h0M649 1215h0M606 1200h0M760 1206h0M758 1209h0M625 1208h0M747 1227h0M617 1229h0M732 1235h0M701 1235h0M722 1213h0M626 1216h0M751 1218h0M750 1214h0M760 1200h0M677 1201h0M649 1227h0M704 1225h0M733 1207h0M744 1203h0M685 1216h0M716 1230h0M723 1200h0M712 1220h0M736 1204h0M659 1205h0M645 1211h0M655 1203h0M750 1224h0M784 1201h0M660 1213h0M724 1221h0M710 1229h0M767 1216h0M603 1202h0M718 1228h0M765 1235h0M783 1200h0M679 1233h0M692 1219h0M760 1218h0M778 1209h0M645 1202h0M769 1218h0M623 1232h0M610 1200h0M606 1216h0M614 1219h0M618 1233h0M645 1200h0M655 1209h0M784 1202h0M752 1207h0M620 1233h0M637 1203h0M732 1208h0M714 1228h0M685 1225h0M681 1233h0M742 1202h0M693 1201h0M737 1204h0M602 1213h0M619 1221h0M635 1202h0M713 1219h0M711 1204h0M765 1236h0M769 1216h0M754 1202h0M663 1229h0M611 1213h0M768 1226h0M777 1215h0M605 1232h0M601 1206h0M634 1236h0M669 1200h0M734 1209h0M687 1202h0M726 1237h0M755 1200h0M634 1206h0M659 1209h0M784 1201h0M703 1233h0M694 1226h0M705 1215h0M704 1210h0M738 1203h0M765 1203h0M719 1210h0M720 1218h0M710 1230h0M645 1205h0M745 1230h0M638 1220h0M649 1202h0M665 1200h0M700 1200h0M755 1236h0M668 1205h0M715 1201h0M683 1220h0M685 1205h0M784 1235h0M723 1221h0M603 1232h0M764 1220h0M695 1224h0M783 1212h0M624 1211h0M782 1226h0M725 1203h0M718 1201h0M695 1233h0M784 1209h0M759 1216h0M700 1209h0M671 1224h0M674 1226h0M691 1203h0M634 1226h0M644 1207h0M726 1216h0M747 1213h0M772 1230h0M630 1210h0M659 1228h0M635 1235h0M719 1217h0M657 1228h0M661 1232h0M613 1204h0M747 1212h0M777 1233h0M626 1225h0M693 1230h0M749 1218h0M765 1209h0M667 1227h0M611 1208h0M746 1217h0M735 1204h0M675 1210h0M787 1211h0M736 1201h0M708 1201h0M712 1232h0M615 1237h0M782 1202h0M788 1208h0M833 1281h0M826 1261h0M821 1266h0M835 1292h0M833 1277h0M842 1296h0M830 1276h0M827 1288h0M828 1283h0M831 1284h0M829 1276h0M841 1287h0M828 1280h0M836 1285h0M825 1266h0M825 1267h0M834 1294h0M826 1282h0M829 1265h0M835 1294h0M831 1277h0M831 1289h0M833 1288h0M829 1272h0M825 1288h0M824 1278h0M825 1257h0M838 1298h0M818 1269h0M825 1267h0M575 1071h0M531 1037h0M504 1055h0M549 1068h0M521 1046h0M493 1049h0M534 1055h0M581 1109h0M567 1117h0M598 1108h0M541 1056h0M596 1072h0M531 1099h0M543 1078h0M572 1065h0M539 1087h0M507 1020h0M568 1075h0M591 1092h0M528 1055h0M535 1045h0M523 1101h0M565 1075h0M543 1077h0M514 1054h0M589 1066h0M490 1031h0M582 1095h0M585 1109h0M499 1039h0M490 1047h0M560 1073h0M553 1086h0M507 1006h0M536 1077h0M499 1035h0M534 1055h0M547 1021h0M588 1076h0M530 1074h0M506 1091h0M595 1086h0M559 1067h0M503 1057h0M495 1049h0M531 1053h0M515 1052h0M529 1056h0M518 1068h0M590 1110h0M579 1121h0M563 1098h0M498 1057h0M577 1091h0M533 1081h0M585 1076h0M494 1082h0M504 1054h0M503 1073h0M579 1076h0M576 1072h0M579 1087h0M547 1038h0M542 1049h0M554 1055h0M572 1061h0M571 1074h0M593 1111h0M559 1050h0M557 1037h0M566 1082h0M557 1073h0M544 1046h0M587 1098h0M599 1119h0M589 1112h0M587 1106h0M579 1114h0M601 1123h0M557 1060h0M592 1109h0M583 1105h0M592 1111h0M586 1111h0M573 1083h0M574 1082h0M565 1052h0M566 1074h0M565 1055h0M559 1081h0M596 1109h0M567 1051h0M591 1114h0M556 1053h0M576 1090h0M554 1057h0M586 1088h0M586 1099h0M596 1119h0M591 1105h0M556 1048h0M582 1094h0M563 1070h0M581 1084h0M559 1053h0M573 1069h0M586 1091h0M557 1043h0M591 1077h0M587 1118h0M583 1081h0M575 1064h0M555 1051h0M578 1083h0M572 1085h0M589 1100h0M578 1106h0M585 1090h0M580 1103h0M586 1106h0M593 1108h0M563 1061h0M565 1082h0M561 1072h0M549 1044h0M587 1100h0M554 1056h0M574 1098h0M583 1085h0M557 1051h0M573 1072h0M572 1079h0M572 1049h0M593 1123h0M583 1121h0M550 1052h0M579 1099h0M570 1085h0M594 1102h0M590 1124h0M571 1076h0M594 1089h0M569 1063h0M579 1095h0M597 1119h0M560 1070h0M557 1039h0M602 1111h0M550 1046h0M589 1104h0M517 1058h0M509 1059h0M515 1052h0M494 1048h0M518 1061h0M495 1054h0M510 1061h0M529 1065h0M501 1057h0M499 1045h0M535 1091h0M507 1069h0M492 1044h0M519 1063h0M513 1054h0M555 1068h0M542 1083h0M530 1074h0M531 1073h0M528 1071h0M496 1053h0M522 1074h0M513 1057h0M507 1054h0M515 1067h0" stroke="#111" stroke-width="3.8" stroke-linecap="round" fill="none" opacity="0.92"/>
<path d="M774 1204 L800 1191 L828 1193 L843 1204 L847 1221 L860 1238 L860 1251 L845 1255 L821 1245 L795 1242 L776 1227 L765 1212Z" fill="#2f7fcf" opacity="0.9"/>
<path d="M836 1250h0M835 1257h0M786 1205h0M780 1209h0M782 1200h0M836 1237h0M767 1220h0M801 1210h0M789 1219h0M788 1219h0M777 1208h0M774 1204h0M844 1247h0M815 1231h0M815 1229h0M797 1201h0M798 1216h0M763 1198h0M800 1227h0M842 1242h0M791 1212h0M781 1205h0M771 1194h0M838 1229h0M794 1213h0M790 1193h0M762 1188h0M828 1232h0M787 1221h0M826 1235h0M824 1227h0M855 1267h0M795 1219h0M804 1219h0M845 1247h0M824 1239h0M826 1231h0M776 1215h0M837 1241h0M808 1222h0M817 1235h0M833 1213h0M791 1228h0M861 1254h0M814 1226h0M851 1240h0M802 1219h0M806 1238h0M817 1227h0M790 1226h0M799 1202h0M777 1221h0M833 1238h0M847 1244h0M843 1235h0M765 1190h0M824 1236h0M775 1167h0M833 1244h0M856 1237h0M812 1216h0M772 1204h0M816 1247h0M841 1243h0M808 1239h0M813 1215h0M798 1217h0M788 1218h0M808 1209h0M819 1205h0M774 1191h0M779 1200h0M838 1237h0M794 1218h0M802 1223h0M770 1199h0M775 1211h0M806 1225h0M817 1226h0M802 1209h0M825 1235h0M774 1202h0M807 1238h0M784 1189h0M792 1221h0M788 1204h0M797 1215h0M792 1204h0M818 1213h0M827 1238h0M774 1188h0M819 1238h0M795 1236h0M768 1217h0M783 1189h0M806 1228h0M774 1198h0M765 1210h0M801 1215h0M852 1258h0M798 1238h0M821 1225h0M848 1256h0M809 1221h0M817 1254h0M802 1207h0M790 1194h0M789 1205h0M771 1211h0M826 1236h0M771 1188h0M815 1223h0M794 1216h0M767 1225h0M822 1230h0M766 1186h0M815 1209h0M813 1218h0M841 1247h0M795 1221h0M789 1205h0M809 1211h0M808 1222h0M783 1203h0M788 1236h0M796 1207h0M785 1199h0M831 1234h0M791 1212h0M827 1212h0M770 1199h0M849 1250h0M838 1243h0M796 1210h0M770 1200h0M819 1225h0M824 1240h0M786 1217h0M763 1186h0M788 1221h0M819 1245h0M769 1201h0M819 1198h0M830 1247h0M821 1242h0M844 1238h0M832 1233h0M851 1254h0M801 1228h0M831 1233h0M865 1245h0M820 1235h0M857 1259h0M842 1248h0M798 1205h0M774 1200h0M792 1215h0M769 1209h0M761 1199h0M808 1228h0M849 1240h0M857 1256h0M824 1248h0M852 1256h0M786 1215h0M771 1213h0M847 1223h0M835 1258h0M802 1205h0M841 1226h0M783 1202h0M856 1235h0M791 1212h0M780 1205h0M868 1246h0M770 1212h0M796 1214h0M848 1241h0M809 1219h0M806 1209h0M808 1238h0M760 1189h0M764 1195h0M798 1233h0M846 1240h0M839 1244h0M834 1244h0M834 1224h0M799 1222h0M835 1245h0M819 1231h0M775 1213h0M765 1192h0M823 1234h0M794 1217h0M846 1242h0M854 1233h0M800 1216h0M773 1208h0M793 1208h0M812 1226h0M783 1225h0M799 1220h0M818 1232h0M824 1241h0M823 1224h0M802 1200h0M858 1235h0M809 1212h0M771 1216h0M827 1231h0M786 1213h0M858 1244h0M780 1201h0M851 1239h0M832 1233h0M778 1205h0M828 1230h0M778 1206h0M780 1202h0M802 1211h0M825 1231h0M805 1238h0M769 1190h0M844 1241h0M800 1222h0M777 1209h0M788 1208h0M836 1230h0M810 1224h0M839 1252h0M836 1248h0M825 1232h0M783 1200h0M794 1209h0M792 1206h0M803 1211h0M778 1195h0M776 1208h0M821 1244h0M812 1223h0M809 1207h0M822 1221h0M840 1238h0M787 1195h0M820 1225h0M783 1203h0M855 1238h0M844 1230h0M807 1219h0M870 1250h0M848 1246h0M841 1245h0M758 1202h0M793 1223h0M810 1220h0M788 1220h0M795 1207h0M757 1194h0M793 1197h0M843 1250h0M797 1214h0M780 1219h0M813 1213h0M820 1233h0M827 1224h0M818 1242h0M807 1231h0M857 1238h0M826 1245h0M780 1198h0M822 1249h0M823 1236h0M827 1238h0M798 1205h0M806 1234h0M820 1224h0M808 1214h0M843 1250h0M777 1196h0M777 1203h0M851 1239h0M844 1238h0M763 1211h0M795 1230h0M819 1225h0M819 1246h0M771 1218h0M821 1230h0M842 1235h0M770 1227h0M838 1230h0M840 1238h0M835 1233h0M819 1255h0M822 1238h0M850 1241h0M783 1207h0M831 1236h0M796 1219h0M753 1211h0M784 1209h0M828 1241h0M780 1210h0M830 1232h0M776 1195h0M841 1244h0M786 1221h0M836 1223h0M831 1237h0M800 1229h0M788 1221h0M847 1248h0M780 1205h0M830 1222h0M778 1198h0M834 1228h0M815 1215h0M808 1224h0M841 1245h0M764 1204h0M845 1257h0M769 1205h0M783 1208h0M838 1227h0M793 1224h0M815 1217h0M762 1221h0M826 1219h0M764 1196h0M786 1230h0M773 1231h0M849 1234h0M849 1245h0M814 1221h0M798 1237h0M853 1269h0M847 1248h0M815 1237h0M781 1196h0M795 1202h0M820 1240h0M832 1236h0M831 1249h0M850 1245h0M792 1224h0M855 1244h0M803 1221h0M806 1235h0M764 1205h0M797 1237h0M827 1222h0M821 1224h0M804 1233h0M793 1213h0M840 1239h0M781 1198h0M854 1242h0M780 1215h0M824 1236h0M813 1203h0M835 1230h0M790 1226h0M773 1216h0M813 1242h0M778 1197h0M832 1228h0M775 1215h0M844 1241h0M797 1220h0M772 1213h0M818 1230h0M783 1212h0M801 1213h0M855 1230h0M807 1228h0M851 1268h0M824 1215h0M832 1218h0M767 1196h0M834 1250h0M851 1225h0M756 1202h0M822 1245h0M784 1183h0M856 1233h0M832 1243h0M768 1210h0M836 1232h0M815 1236h0M821 1239h0M790 1194h0M854 1246h0M828 1221h0M837 1234h0M805 1224h0M814 1216h0M819 1202h0M763 1186h0M803 1203h0M846 1246h0M827 1240h0M767 1195h0M849 1241h0M823 1230h0M820 1239h0M782 1206h0M854 1243h0M785 1201h0M845 1247h0M771 1196h0M808 1243h0M790 1213h0M841 1244h0M825 1246h0M811 1228h0M836 1218h0M800 1208h0M847 1231h0M770 1212h0M830 1221h0M825 1197h0M810 1185h0M835 1200h0M813 1192h0M796 1183h0M810 1194h0M814 1196h0M798 1178h0M808 1203h0M802 1201h0M846 1198h0M827 1196h0M821 1198h0M836 1204h0M827 1212h0M801 1182h0M825 1205h0M854 1210h0M837 1201h0M852 1216h0M815 1191h0M821 1203h0M843 1213h0M830 1207h0M816 1213h0M810 1191h0M809 1201h0M826 1217h0M802 1190h0M807 1195h0M811 1197h0M812 1206h0M822 1199h0M838 1203h0M838 1200h0M832 1224h0M807 1207h0M836 1208h0M834 1209h0M815 1216h0M813 1195h0M830 1203h0M824 1200h0M820 1219h0M830 1206h0M827 1203h0M810 1199h0M849 1217h0M849 1212h0M829 1196h0M819 1188h0M834 1205h0M824 1219h0M833 1198h0M842 1223h0M808 1209h0M848 1225h0M804 1199h0M815 1203h0M811 1216h0M801 1182h0M811 1204h0M829 1200h0M816 1184h0M822 1206h0M802 1189h0M839 1212h0M809 1191h0M822 1212h0M807 1198h0M815 1192h0M795 1185h0M819 1206h0M845 1211h0M827 1206h0M840 1207h0M830 1214h0M845 1214h0M841 1220h0M842 1217h0M850 1205h0M841 1213h0M815 1193h0M853 1204h0M847 1214h0M823 1200h0M817 1212h0M832 1209h0M841 1218h0M813 1199h0M813 1195h0M850 1216h0M826 1219h0M826 1201h0M836 1191h0M839 1193h0M808 1215h0M824 1221h0M848 1219h0M800 1203h0M788 1189h0M815 1193h0M803 1209h0M813 1200h0M821 1203h0M813 1205h0M817 1207h0M823 1189h0M827 1217h0M809 1200h0M806 1191h0M801 1190h0M806 1206h0M848 1210h0M822 1190h0M824 1212h0M809 1209h0M839 1218h0M822 1204h0M822 1204h0M809 1189h0M833 1191h0M806 1193h0M817 1198h0M798 1207h0M830 1205h0M819 1213h0M850 1220h0M825 1202h0M802 1181h0M835 1220h0M811 1208h0M810 1184h0M802 1196h0M811 1210h0M817 1191h0M809 1193h0M817 1208h0M827 1205h0M818 1206h0M815 1179h0M816 1191h0M825 1209h0M851 1216h0M794 1208h0M842 1229h0M823 1223h0M828 1205h0M816 1201h0M828 1209h0M830 1223h0M839 1212h0M829 1214h0M828 1219h0M816 1192h0M796 1187h0M814 1214h0M811 1201h0M804 1206h0M815 1200h0M785 1182h0M830 1210h0M841 1207h0M806 1206h0M824 1214h0M826 1212h0M835 1201h0M807 1196h0M829 1193h0M843 1214h0M820 1206h0M832 1221h0M840 1211h0M807 1192h0M819 1202h0M802 1186h0M804 1194h0M828 1196h0M806 1188h0M822 1197h0M800 1194h0M827 1212h0M840 1219h0M817 1211h0M815 1205h0M812 1198h0M799 1202h0M818 1197h0M842 1210h0M835 1210h0M839 1206h0M816 1198h0M837 1219h0M820 1204h0M852 1212h0M829 1189h0M809 1186h0M806 1191h0M809 1193h0M526 1216h0M559 1216h0M515 1225h0M561 1214h0M525 1203h0M511 1250h0M533 1238h0M559 1211h0M522 1237h0M510 1228h0M487 1243h0M542 1216h0M510 1208h0M500 1223h0M491 1226h0M490 1224h0M504 1205h0M546 1213h0M553 1220h0M484 1239h0M552 1205h0M540 1237h0M500 1227h0M499 1234h0M570 1206h0M525 1212h0M561 1213h0M519 1213h0M471 1225h0M511 1204h0M514 1227h0M516 1232h0M560 1211h0M518 1220h0M486 1231h0M562 1221h0M483 1229h0M480 1235h0M500 1234h0M475 1235h0" stroke="#2f7fcf" stroke-width="4.4" stroke-linecap="round" fill="none" opacity="1.0"/>
<path d="M560 1159 L566 1137 L575 1117 L585 1105 L598 1093 L608 1077 L617 1067 L628 1075 L638 1089 L647 1083 L656 1079 L665 1091 L675 1083 L684 1067 L690 1060 L698 1073 L706 1089 L718 1101 L730 1111 L745 1123 L760 1131 L772 1137 L780 1153 L786 1175 L786 1179 L778 1215 L770 1223 L758 1211 L745 1206 L735 1221 L724 1229 L712 1215 L700 1205 L690 1211 L680 1219 L668 1205 L655 1197 L640 1205 L625 1213 L610 1215 L596 1211 L584 1205 L574 1193 L566 1183 L560 1165Z" fill="#ec6868" opacity="0.93"/>
<path d="M457 1154h0M464 1207h0M560 1171h0M488 1252h0M515 1200h0M509 1160h0M503 1183h0M509 1192h0M486 1196h0M563 1191h0M520 1195h0M489 1180h0M474 1204h0M553 1244h0M552 1165h0M555 1167h0M530 1202h0M495 1220h0M474 1209h0M501 1219h0M447 1186h0M486 1177h0M497 1203h0M454 1207h0M462 1236h0M455 1233h0M503 1130h0M566 1201h0M569 1157h0M450 1130h0M530 1192h0M411 1185h0M539 1169h0M534 1142h0M520 1151h0M486 1177h0M514 1137h0M430 1185h0M537 1183h0M551 1174h0M445 1196h0M573 1175h0M467 1150h0M565 1146h0M571 1181h0M508 1211h0M557 1182h0M526 1165h0M485 1188h0M541 1130h0M499 1153h0M462 1174h0M550 1176h0M470 1175h0M567 1169h0M472 1149h0M493 1166h0M553 1185h0M557 1130h0M505 1146h0M532 1169h0M568 1221h0M488 1203h0M484 1230h0M451 1226h0M541 1165h0M541 1177h0M455 1151h0M545 1214h0M488 1205h0M520 1198h0M526 1200h0M529 1194h0M525 1186h0M505 1190h0M542 1215h0M474 1161h0M560 1146h0M503 1182h0M550 1213h0M532 1187h0M512 1175h0M515 1206h0M522 1184h0M508 1130h0M526 1150h0M515 1130h0M558 1171h0M483 1170h0M548 1191h0M507 1245h0M558 1160h0M556 1178h0M442 1175h0M566 1130h0M554 1155h0M537 1158h0M470 1193h0M556 1153h0M530 1141h0M478 1202h0M536 1177h0M455 1159h0M542 1156h0M471 1176h0M491 1207h0M423 1231h0M501 1143h0M532 1215h0M537 1181h0M507 1192h0M486 1212h0M448 1158h0M498 1208h0M551 1139h0M567 1163h0M565 1152h0M445 1237h0M456 1235h0M500 1205h0M526 1196h0M434 1172h0M447 1239h0M556 1220h0M573 1203h0M510 1178h0M552 1168h0M543 1177h0M550 1218h0M508 1154h0M566 1181h0M455 1235h0M484 1210h0M535 1232h0M481 1197h0M557 1191h0M555 1220h0M552 1198h0M561 1188h0M535 1165h0M468 1141h0M494 1228h0M410 1178h0M504 1161h0M535 1206h0M542 1153h0M544 1140h0M483 1168h0M566 1176h0M524 1190h0M473 1201h0M567 1207h0M539 1177h0M540 1191h0M532 1178h0M406 1172h0M525 1193h0M545 1190h0M539 1235h0M475 1203h0M515 1162h0M545 1198h0M564 1171h0M478 1232h0M528 1131h0M440 1169h0M467 1167h0M502 1187h0M419 1186h0M498 1137h0M549 1162h0M543 1154h0M582 1129h0M527 1150h0M518 1142h0M544 1195h0M528 1122h0M549 1168h0M580 1145h0M581 1126h0M539 1185h0M544 1146h0M552 1197h0M581 1157h0M542 1175h0M572 1159h0M566 1182h0M578 1189h0M543 1155h0M580 1162h0M583 1213h0M552 1151h0M580 1214h0M571 1152h0M538 1153h0M554 1121h0M541 1146h0M579 1112h0M539 1153h0M578 1182h0M543 1165h0M578 1145h0M574 1134h0M571 1144h0M542 1130h0M570 1128h0M565 1217h0M548 1172h0M582 1135h0M581 1181h0M567 1205h0M579 1144h0M547 1163h0M533 1137h0M547 1125h0M562 1202h0M579 1250h0M576 1142h0M540 1126h0M575 1203h0M578 1193h0M563 1177h0M558 1204h0M556 1156h0M536 1174h0M541 1187h0M559 1156h0M559 1177h0M560 1158h0M555 1177h0M576 1167h0M533 1120h0M534 1170h0M580 1121h0M563 1141h0M565 1118h0M556 1187h0M554 1157h0M548 1156h0M560 1198h0M575 1183h0M516 1165h0M581 1102h0M535 1184h0M557 1158h0M575 1152h0M529 1186h0M567 1146h0M564 1162h0M561 1188h0M575 1179h0M529 1154h0M538 1203h0M579 1195h0M581 1216h0M528 1167h0M568 1170h0M525 1193h0M580 1175h0M581 1166h0M569 1161h0M557 1157h0M567 1146h0M562 1147h0M575 1174h0M576 1154h0M577 1122h0M576 1164h0M538 1208h0M537 1201h0M569 1108h0M561 1142h0M582 1184h0M518 1171h0M552 1167h0M577 1159h0M555 1167h0M529 1144h0M547 1197h0M581 1132h0M573 1159h0M576 1206h0M541 1194h0M574 1163h0M504 1171h0M538 1153h0M565 1150h0M567 1157h0M555 1201h0M581 1150h0M550 1181h0M542 1178h0M536 1178h0M571 1156h0M575 1184h0M575 1168h0M565 1167h0M514 1160h0M553 1110h0M533 1186h0M543 1186h0M512 1160h0M569 1159h0M541 1175h0M562 1139h0M581 1183h0M539 1185h0M543 1189h0M541 1190h0M520 1127h0M562 1179h0M561 1153h0M564 1195h0M581 1193h0M563 1187h0M564 1163h0M578 1243h0M577 1162h0M560 1138h0M564 1191h0M550 1129h0M558 1217h0M557 1193h0M560 1201h0M539 1194h0M564 1176h0M543 1134h0M545 1152h0M545 1182h0M573 1158h0M521 1179h0M583 1143h0M533 1150h0M565 1173h0M539 1186h0M568 1165h0M577 1136h0M554 1123h0M556 1219h0M582 1130h0M563 1142h0M549 1148h0M539 1190h0M576 1142h0M569 1179h0M545 1175h0M558 1135h0M530 1173h0M573 1130h0M579 1159h0M571 1184h0M570 1158h0M529 1148h0M579 1151h0M564 1160h0M578 1172h0M571 1100h0M578 1111h0M574 1177h0M571 1160h0M564 1165h0M543 1172h0M541 1163h0M579 1149h0M574 1166h0M541 1183h0M525 1177h0M578 1163h0M508 1149h0M565 1170h0M570 1132h0M553 1148h0M579 1166h0M566 1167h0M583 1193h0M569 1187h0M561 1177h0M522 1162h0M578 1162h0M527 1163h0M543 1210h0M566 1176h0M568 1146h0M580 1138h0M581 1197h0M580 1137h0M574 1173h0M551 1170h0M570 1193h0M532 1147h0M546 1178h0M583 1168h0M566 1185h0M580 1201h0M533 1170h0M564 1158h0M534 1189h0M569 1125h0M580 1168h0M554 1140h0M509 1145h0M547 1126h0M523 1132h0M555 1187h0M574 1187h0M582 1165h0M543 1193h0M531 1169h0M516 1159h0M545 1139h0M541 1186h0M537 1187h0M578 1198h0M543 1147h0M532 1161h0M531 1136h0M570 1195h0M554 1184h0M551 1179h0M569 1163h0M566 1160h0M556 1156h0M565 1194h0M545 1151h0M554 1189h0M568 1172h0M511 1150h0M552 1129h0M551 1146h0M546 1166h0M558 1131h0M569 1181h0M571 1195h0M573 1179h0M565 1119h0M509 1122h0M540 1189h0M567 1205h0M527 1160h0M563 1179h0M509 1165h0M576 1145h0M533 1192h0M554 1151h0M528 1189h0M534 1210h0M556 1162h0M559 1215h0M577 1126h0M537 1190h0M578 1163h0M539 1231h0M551 1167h0M581 1140h0M559 1208h0M541 1129h0M555 1177h0M575 1142h0M577 1202h0M527 1167h0M559 1188h0M550 1165h0M523 1144h0M554 1109h0M544 1212h0M571 1170h0M509 1147h0M555 1157h0M548 1192h0M553 1127h0M554 1225h0M582 1155h0M568 1154h0M551 1199h0M547 1172h0M554 1139h0M580 1189h0M564 1177h0M581 1195h0M537 1145h0M559 1135h0M570 1181h0M575 1151h0M525 1119h0M552 1150h0M577 1181h0M565 1145h0M530 1199h0M553 1152h0M558 1162h0M502 1139h0M553 1145h0M557 1160h0M581 1179h0M559 1170h0M560 1193h0M522 1120h0M514 1171h0M556 1161h0M565 1135h0M538 1166h0M562 1144h0M524 1179h0M542 1158h0M559 1178h0M545 1143h0M555 1199h0M570 1174h0M534 1211h0M567 1160h0M581 1148h0M575 1167h0M550 1154h0M566 1135h0M527 1169h0M570 1162h0M572 1145h0M538 1158h0M550 1140h0M564 1168h0M567 1127h0M565 1210h0M572 1164h0M576 1189h0M556 1133h0M508 1178h0M574 1159h0M526 1192h0M560 1188h0M570 1118h0M574 1195h0M560 1124h0M566 1201h0M581 1160h0M573 1129h0M543 1184h0M580 1163h0M568 1136h0M545 1148h0M543 1179h0M555 1129h0M559 1142h0M576 1215h0M555 1145h0M570 1174h0M547 1178h0M556 1191h0M546 1189h0M551 1100h0M569 1150h0M539 1197h0M557 1144h0M571 1214h0M507 1176h0M552 1133h0M573 1179h0M567 1218h0M575 1144h0M541 1181h0M565 1140h0M545 1151h0M523 1172h0M573 1178h0M544 1176h0M571 1169h0M573 1231h0M574 1132h0M544 1119h0M574 1179h0M540 1172h0M567 1124h0M506 1207h0M573 1143h0M519 1138h0M570 1175h0M566 1182h0M519 1223h0M563 1122h0M569 1128h0M574 1155h0M582 1149h0M540 1165h0M553 1147h0M549 1125h0M567 1151h0M535 1185h0M562 1186h0M540 1151h0M537 1181h0M572 1175h0M561 1151h0M573 1153h0M567 1165h0M576 1243h0M557 1170h0M508 1152h0M583 1157h0M539 1153h0M575 1195h0M536 1114h0M559 1135h0M544 1188h0M567 1176h0M522 1170h0M521 1186h0M556 1130h0M576 1173h0M556 1135h0M527 1138h0M583 1177h0M526 1150h0M545 1157h0M562 1182h0M542 1140h0M569 1181h0M553 1225h0M574 1158h0M522 1192h0M575 1185h0M579 1126h0M541 1133h0M539 1167h0M578 1101h0M553 1167h0M552 1173h0M563 1177h0M561 1177h0M575 1201h0M568 1155h0M569 1202h0M554 1180h0M559 1179h0M577 1159h0M577 1191h0M564 1144h0M563 1185h0M545 1196h0M557 1148h0M536 1144h0M557 1145h0M519 1169h0M541 1177h0M543 1190h0M557 1216h0M568 1210h0M525 1176h0M566 1154h0M573 1129h0M533 1189h0M530 1181h0M525 1163h0M566 1160h0M552 1163h0M515 1113h0M527 1168h0M549 1175h0M517 1167h0M574 1133h0M535 1169h0M575 1177h0M514 1211h0M547 1194h0M580 1180h0M531 1167h0M514 1141h0M576 1150h0M574 1125h0M558 1163h0M528 1194h0M544 1194h0M555 1190h0M581 1163h0M537 1193h0M567 1157h0M569 1109h0M577 1167h0M568 1165h0M550 1121h0M555 1152h0M557 1100h0M563 1152h0M560 1198h0M525 1154h0M573 1201h0M549 1172h0M565 1144h0M545 1121h0M555 1186h0M583 1182h0M508 1139h0M699 1209h0M675 1194h0M766 1163h0M712 1093h0M778 1164h0M575 1177h0M719 1123h0M613 1190h0M668 1128h0M751 1167h0M784 1192h0M614 1213h0M754 1165h0M594 1181h0M632 1214h0M613 1182h0M780 1222h0M588 1212h0M741 1157h0M680 1113h0M724 1132h0M584 1116h0M667 1102h0M687 1196h0M629 1198h0M708 1206h0M583 1132h0M583 1106h0M708 1184h0M623 1143h0M754 1177h0M689 1112h0M759 1183h0M752 1197h0M720 1160h0M781 1188h0M619 1139h0M689 1064h0M593 1136h0M721 1147h0M745 1134h0M762 1183h0M682 1196h0M769 1167h0M649 1164h0M643 1150h0M727 1141h0M767 1119h0M583 1145h0M677 1215h0M663 1190h0M572 1216h0M589 1194h0M745 1168h0M773 1137h0M690 1067h0M618 1195h0M781 1160h0M658 1100h0M594 1210h0M738 1159h0M719 1110h0M717 1124h0M649 1096h0M627 1145h0M615 1071h0M698 1138h0M634 1123h0M725 1124h0M766 1159h0M751 1179h0M573 1138h0M707 1122h0M576 1145h0M630 1215h0M631 1199h0M687 1114h0M575 1198h0M616 1201h0M771 1194h0M572 1181h0M641 1093h0M673 1199h0M589 1102h0M629 1213h0M702 1104h0M638 1107h0M688 1127h0M773 1159h0M586 1125h0M713 1120h0M570 1222h0M651 1107h0M723 1102h0M775 1166h0M667 1147h0M703 1098h0M672 1181h0M591 1160h0M585 1196h0M687 1110h0M757 1119h0M621 1156h0M729 1230h0M703 1082h0M639 1183h0M710 1138h0M579 1195h0M621 1118h0M649 1191h0M706 1157h0M573 1148h0M574 1149h0M769 1199h0M681 1110h0M762 1154h0M784 1232h0M602 1117h0M648 1162h0M782 1157h0M567 1137h0M781 1205h0M785 1189h0M731 1169h0M651 1103h0M714 1216h0M570 1189h0M642 1109h0M573 1150h0M659 1110h0M715 1204h0M569 1174h0M762 1160h0M585 1154h0M617 1190h0M651 1114h0M590 1142h0M730 1146h0M715 1169h0M695 1063h0M659 1131h0M696 1098h0M648 1098h0M711 1137h0M762 1145h0M735 1188h0M646 1099h0M760 1211h0M634 1193h0M714 1229h0M728 1126h0M655 1094h0M754 1221h0M779 1148h0M591 1103h0M575 1129h0M630 1156h0M571 1193h0M782 1154h0M624 1118h0M599 1133h0M694 1201h0M775 1191h0M757 1155h0M758 1161h0M609 1125h0M624 1113h0M584 1194h0M719 1120h0M643 1154h0M711 1196h0M572 1165h0M728 1147h0M593 1176h0M782 1144h0M624 1076h0M672 1098h0M746 1143h0M704 1142h0M583 1134h0M769 1149h0M727 1201h0M731 1210h0M677 1191h0M601 1180h0M709 1086h0M633 1132h0M748 1163h0M637 1159h0M712 1152h0M684 1167h0M599 1210h0M715 1178h0M778 1160h0M578 1208h0M694 1193h0M708 1151h0M750 1190h0M635 1093h0M748 1179h0M728 1180h0M607 1208h0M729 1198h0M664 1084h0M610 1148h0M618 1209h0M639 1105h0M728 1189h0M599 1146h0M706 1137h0M745 1227h0M679 1219h0M765 1156h0M723 1204h0M678 1125h0M778 1183h0M686 1088h0M598 1201h0M612 1092h0M746 1124h0M753 1117h0M652 1194h0M644 1168h0M610 1166h0M751 1210h0M782 1209h0M772 1115h0M662 1093h0M761 1118h0M610 1086h0M581 1119h0M688 1097h0M641 1131h0M671 1163h0M581 1164h0M603 1178h0M672 1145h0M676 1222h0M722 1186h0M727 1114h0M650 1125h0M664 1129h0M627 1190h0M599 1099h0M653 1189h0M693 1144h0M785 1229h0M728 1146h0M744 1221h0M747 1117h0M770 1211h0M767 1131h0M604 1208h0M635 1136h0M624 1159h0M742 1132h0M672 1176h0M773 1176h0M691 1101h0M571 1122h0M618 1210h0M654 1135h0M594 1135h0M689 1188h0M575 1185h0M619 1199h0M568 1193h0M591 1210h0M720 1204h0M676 1181h0M776 1216h0M594 1209h0M607 1101h0M578 1160h0M609 1145h0M630 1166h0M660 1106h0M620 1147h0M602 1144h0M649 1103h0M576 1141h0M746 1225h0M690 1090h0M677 1119h0M668 1135h0M687 1075h0M784 1161h0M649 1193h0M690 1117h0M611 1151h0M652 1145h0M586 1194h0M755 1192h0M715 1170h0M734 1148h0M733 1165h0M594 1106h0M705 1104h0M597 1164h0M701 1174h0M594 1141h0M600 1086h0M592 1195h0M683 1128h0M591 1138h0M645 1197h0M658 1150h0M782 1231h0M737 1233h0M694 1069h0M726 1201h0M567 1168h0M646 1098h0M628 1168h0M710 1139h0M593 1189h0M773 1131h0M636 1098h0M757 1183h0M752 1168h0M668 1114h0M566 1179h0M591 1187h0M650 1142h0M727 1201h0M670 1106h0M771 1229h0M764 1121h0M637 1101h0M783 1198h0M681 1200h0M581 1209h0M573 1155h0M646 1139h0M656 1175h0M605 1097h0M763 1196h0M633 1079h0M735 1108h0M613 1161h0M661 1154h0M649 1137h0M734 1142h0M645 1196h0M614 1157h0M749 1151h0M708 1104h0M602 1176h0M617 1214h0M587 1204h0M748 1138h0M657 1098h0M748 1186h0M693 1081h0M740 1210h0M731 1121h0M667 1130h0M621 1085h0M651 1076h0M682 1106h0M784 1160h0M628 1177h0M727 1169h0M621 1200h0M704 1133h0M727 1176h0M565 1182h0M725 1168h0M756 1167h0M764 1204h0M757 1211h0M649 1192h0M597 1119h0M640 1149h0M759 1163h0M714 1208h0M676 1113h0M566 1145h0M581 1192h0M687 1195h0M757 1191h0M699 1080h0M644 1148h0M566 1151h0M611 1192h0M700 1135h0M629 1096h0M683 1068h0M574 1198h0M684 1213h0M666 1157h0M570 1185h0M746 1174h0M738 1142h0M590 1131h0M703 1157h0M754 1150h0M678 1159h0M731 1161h0M592 1150h0M578 1108h0M617 1186h0M734 1188h0M629 1188h0M751 1137h0M580 1160h0M671 1168h0M661 1177h0M744 1163h0M712 1153h0M728 1238h0M699 1134h0M600 1210h0M732 1167h0M723 1129h0M726 1157h0M666 1189h0M658 1145h0M597 1196h0M744 1187h0M661 1140h0M775 1210h0M625 1111h0M671 1124h0M642 1178h0M699 1076h0M778 1133h0M614 1077h0M650 1129h0M630 1080h0M586 1127h0M573 1179h0M783 1171h0M638 1141h0M721 1177h0M737 1213h0M706 1132h0M623 1073h0M713 1205h0M768 1133h0M666 1188h0M761 1132h0M754 1119h0M735 1222h0M718 1192h0M776 1141h0M675 1116h0M767 1203h0M584 1119h0M721 1221h0M591 1105h0M646 1149h0M694 1096h0M717 1175h0M715 1113h0M604 1087h0M585 1134h0M596 1182h0M701 1148h0M604 1151h0M767 1182h0M715 1181h0M631 1092h0M704 1148h0M581 1115h0M698 1088h0M599 1117h0M704 1087h0M626 1099h0M687 1129h0M720 1096h0M613 1222h0M578 1203h0M596 1187h0M749 1143h0M774 1198h0M692 1077h0M584 1224h0M697 1167h0M639 1137h0M603 1150h0M729 1145h0M755 1203h0M682 1172h0M691 1075h0M773 1117h0M566 1202h0M753 1141h0M769 1160h0M752 1181h0M686 1105h0M761 1201h0M674 1184h0M646 1106h0M675 1172h0M574 1212h0M572 1184h0M679 1111h0M695 1108h0M580 1200h0M733 1207h0M598 1118h0M612 1143h0M670 1133h0M735 1214h0M673 1103h0M763 1099h0M732 1240h0M689 1094h0M756 1139h0M641 1199h0M692 1198h0M707 1161h0M585 1111h0M623 1098h0M781 1162h0M632 1073h0M765 1111h0M576 1162h0M620 1150h0M616 1080h0M565 1122h0M724 1128h0M616 1075h0M694 1071h0M586 1130h0M691 1088h0M674 1100h0M669 1092h0M739 1104h0M642 1141h0M722 1108h0M742 1183h0M619 1213h0M630 1105h0M700 1108h0M605 1182h0M566 1170h0M699 1089h0M720 1215h0M589 1108h0M690 1142h0M669 1118h0M677 1183h0M771 1135h0M575 1171h0M606 1134h0M583 1148h0M701 1146h0M755 1168h0M683 1113h0M572 1160h0M676 1102h0M589 1105h0M584 1164h0M632 1142h0M752 1176h0M718 1171h0M782 1199h0M671 1129h0M606 1220h0M645 1119h0M584 1147h0M653 1109h0M698 1075h0M709 1220h0M778 1225h0M648 1205h0M584 1152h0M755 1207h0M603 1195h0M636 1109h0M597 1163h0M721 1114h0M759 1210h0M611 1121h0M692 1194h0M570 1191h0M716 1167h0M597 1131h0M634 1181h0M687 1085h0M666 1100h0M735 1147h0M572 1183h0M611 1176h0M609 1080h0M650 1190h0M752 1128h0M777 1222h0M777 1175h0M606 1224h0M610 1085h0M628 1158h0M695 1143h0M749 1128h0M677 1189h0M573 1148h0M715 1212h0M701 1191h0M648 1114h0M683 1125h0M618 1103h0M631 1172h0M694 1194h0M647 1186h0M640 1090h0M597 1167h0M758 1111h0M679 1224h0M755 1207h0M695 1107h0M581 1148h0M573 1129h0M604 1162h0M646 1158h0M603 1185h0M642 1095h0M767 1171h0M569 1190h0M582 1189h0M722 1098h0M726 1180h0M622 1120h0M582 1172h0M639 1156h0M718 1148h0M626 1209h0M677 1184h0M661 1123h0M762 1220h0M701 1127h0M641 1182h0M652 1182h0M593 1106h0M740 1145h0M607 1107h0M590 1227h0M637 1144h0M711 1211h0M681 1168h0M567 1196h0M693 1091h0M728 1155h0M726 1210h0M610 1180h0M582 1212h0M647 1181h0M611 1169h0M775 1208h0M715 1132h0M632 1092h0M746 1180h0M697 1154h0M574 1206h0M613 1112h0M622 1102h0M767 1225h0M706 1151h0M606 1147h0M751 1196h0M650 1083h0M783 1155h0M687 1210h0M568 1131h0M654 1213h0M713 1213h0M660 1083h0M710 1164h0M586 1134h0M568 1182h0M586 1212h0M705 1123h0M614 1085h0M745 1205h0M739 1201h0M593 1144h0M578 1214h0M712 1162h0M719 1115h0M760 1153h0M642 1186h0M571 1162h0M731 1190h0M697 1091h0M775 1215h0M632 1115h0M567 1147h0M577 1202h0M760 1130h0M643 1136h0M581 1200h0M571 1185h0M706 1102h0M644 1104h0M728 1198h0M699 1080h0M616 1093h0M699 1083h0M652 1111h0M713 1176h0M619 1111h0M632 1067h0M602 1163h0M594 1174h0M654 1143h0M700 1161h0M694 1165h0M607 1103h0M650 1088h0M661 1131h0M613 1073h0M702 1135h0M640 1180h0M587 1101h0M715 1186h0M603 1177h0M643 1197h0M735 1174h0M593 1187h0M686 1191h0M695 1157h0M624 1108h0M590 1216h0M654 1137h0M616 1121h0M649 1190h0M596 1173h0M653 1132h0M768 1196h0M567 1159h0M691 1176h0M657 1198h0M751 1107h0M734 1191h0M664 1205h0M621 1188h0M772 1246h0M746 1148h0M759 1148h0M584 1139h0M652 1077h0M668 1173h0M630 1086h0M614 1198h0M637 1208h0M603 1127h0M775 1204h0M763 1149h0M702 1203h0M691 1200h0M783 1200h0M675 1165h0M733 1112h0M572 1224h0M658 1075h0M607 1217h0M584 1161h0M750 1214h0M726 1157h0M643 1126h0M592 1172h0M741 1189h0M642 1147h0M737 1113h0M698 1098h0M724 1154h0M696 1114h0M776 1196h0M618 1221h0M757 1185h0M702 1148h0M718 1104h0M781 1172h0M572 1194h0M624 1190h0M724 1119h0M739 1196h0M620 1197h0M669 1210h0M754 1165h0M779 1185h0M779 1131h0M611 1127h0M649 1085h0M660 1150h0M672 1114h0M754 1212h0M672 1116h0M630 1096h0M704 1213h0M738 1177h0M698 1160h0M769 1194h0M781 1140h0M729 1115h0M760 1152h0M584 1152h0M693 1136h0M570 1194h0M624 1157h0M706 1159h0M716 1206h0M747 1166h0M749 1105h0M625 1145h0M662 1127h0M735 1145h0M611 1096h0M759 1202h0M572 1137h0M648 1109h0M574 1187h0M627 1179h0M750 1215h0M781 1171h0M659 1071h0M617 1140h0M636 1210h0M750 1134h0M608 1136h0M734 1214h0M633 1178h0M620 1151h0M762 1194h0M613 1094h0M772 1174h0M662 1113h0M784 1210h0M726 1200h0M749 1181h0M685 1185h0M778 1154h0M722 1161h0M661 1092h0M578 1122h0M607 1085h0M755 1145h0M772 1223h0M572 1218h0M655 1108h0M663 1152h0M600 1114h0M572 1141h0M755 1161h0M748 1222h0M760 1224h0M630 1188h0M760 1208h0M779 1228h0M740 1128h0M641 1077h0M647 1122h0M675 1084h0M766 1147h0M675 1103h0M659 1143h0M579 1215h0M637 1171h0M612 1181h0M669 1152h0M670 1192h0M608 1175h0M584 1211h0M704 1100h0M618 1128h0M711 1185h0M690 1123h0M756 1161h0M623 1134h0M779 1225h0M751 1141h0M674 1192h0M642 1112h0M611 1177h0M690 1143h0M606 1095h0M643 1154h0M579 1135h0M712 1166h0M697 1166h0M715 1123h0M751 1140h0M686 1103h0M647 1094h0M620 1151h0M680 1174h0M661 1198h0M662 1099h0M624 1136h0M608 1219h0M740 1173h0M780 1190h0M712 1143h0M698 1146h0M603 1188h0M663 1092h0M772 1165h0M777 1144h0M581 1118h0M750 1155h0M613 1091h0M773 1142h0M615 1122h0M735 1222h0M776 1229h0M575 1170h0M568 1143h0M682 1154h0M660 1129h0M772 1228h0M629 1210h0M569 1118h0M756 1119h0M697 1159h0M678 1217h0M704 1113h0M764 1186h0M623 1062h0M620 1187h0M783 1188h0M679 1225h0M572 1212h0M732 1117h0M689 1085h0M575 1186h0M647 1105h0M696 1166h0M755 1199h0M710 1163h0M705 1147h0M729 1231h0M658 1194h0M744 1186h0M724 1182h0M586 1115h0M724 1121h0M762 1191h0M773 1209h0M662 1128h0M592 1162h0M690 1111h0M587 1212h0M691 1137h0M729 1138h0M696 1200h0M718 1143h0M730 1192h0M670 1113h0M622 1165h0M738 1154h0M677 1104h0M719 1173h0M650 1173h0M764 1179h0M652 1126h0M697 1185h0M705 1099h0M681 1084h0M740 1134h0M624 1183h0M579 1165h0M599 1131h0M659 1168h0M719 1148h0M599 1134h0M657 1175h0M704 1216h0M611 1223h0M707 1120h0M708 1168h0M616 1105h0M761 1142h0M774 1148h0M770 1190h0M615 1190h0M636 1150h0M685 1113h0M744 1140h0M570 1153h0M620 1194h0M708 1147h0M615 1097h0M613 1209h0M784 1167h0M699 1201h0M717 1155h0M585 1196h0M630 1152h0M592 1187h0M620 1169h0M594 1170h0M590 1212h0M734 1171h0M626 1151h0M762 1203h0M567 1168h0M636 1131h0M631 1157h0M654 1141h0M692 1088h0M676 1170h0M641 1132h0M640 1151h0M721 1216h0M635 1201h0M718 1241h0M676 1107h0M618 1212h0M731 1227h0M684 1138h0M705 1134h0M582 1168h0M666 1097h0M678 1173h0M656 1106h0M647 1103h0M594 1157h0M674 1200h0M736 1116h0M693 1146h0M633 1213h0M607 1204h0M647 1102h0M634 1126h0M607 1082h0M655 1177h0M644 1090h0M682 1172h0M748 1208h0M644 1165h0M713 1214h0M602 1159h0M617 1057h0M754 1126h0M729 1209h0M722 1115h0M746 1151h0M761 1160h0M771 1201h0M725 1231h0M769 1214h0M624 1078h0M670 1102h0M607 1148h0M588 1115h0M652 1132h0M640 1154h0M704 1156h0M655 1127h0M599 1148h0M674 1211h0M638 1185h0M734 1120h0M716 1145h0M775 1206h0M777 1236h0M692 1102h0M622 1194h0M689 1184h0M631 1089h0M679 1078h0M732 1118h0M724 1107h0M666 1180h0M632 1091h0M571 1194h0M754 1180h0M748 1215h0M698 1119h0M743 1204h0M608 1203h0M710 1151h0M629 1126h0M746 1177h0M653 1192h0M671 1208h0M645 1170h0M659 1105h0M757 1111h0M779 1211h0M624 1195h0M741 1152h0M776 1157h0M679 1197h0M697 1117h0M746 1131h0M711 1178h0M683 1231h0M762 1187h0M688 1064h0M738 1125h0M767 1153h0M635 1221h0M748 1146h0M606 1115h0M684 1076h0M709 1126h0M754 1210h0M634 1103h0M778 1207h0M730 1222h0M768 1139h0M621 1104h0M685 1126h0M665 1087h0M776 1123h0M744 1220h0M601 1229h0M765 1168h0M645 1201h0M669 1123h0M577 1158h0M677 1178h0M764 1139h0M667 1169h0M572 1173h0M751 1223h0M668 1203h0M587 1141h0M718 1180h0M606 1133h0M699 1148h0M657 1144h0M620 1143h0M661 1094h0M631 1103h0M668 1125h0M694 1219h0M676 1225h0M577 1180h0M691 1215h0M773 1211h0M753 1173h0M658 1119h0M735 1134h0M602 1087h0M721 1223h0M604 1130h0M583 1218h0M711 1109h0M643 1152h0M679 1222h0M576 1115h0M615 1227h0M582 1204h0M769 1145h0M590 1219h0M768 1200h0M580 1138h0M609 1222h0M721 1124h0M704 1199h0M576 1198h0M638 1168h0M593 1157h0M639 1122h0M644 1098h0M683 1136h0M730 1128h0M572 1175h0M714 1162h0M770 1212h0M639 1137h0M711 1155h0M663 1176h0M630 1124h0M682 1089h0M578 1217h0M714 1108h0M683 1078h0M623 1108h0M572 1200h0M770 1209h0M709 1101h0M575 1189h0M739 1204h0M589 1217h0M666 1153h0M591 1206h0M767 1152h0M706 1072h0M716 1124h0M641 1123h0M637 1090h0M579 1216h0M759 1230h0M594 1209h0M699 1149h0M611 1145h0M586 1137h0M575 1168h0M637 1110h0M591 1191h0M750 1151h0M699 1187h0M605 1095h0M571 1150h0M668 1198h0M751 1193h0M620 1163h0M693 1152h0M618 1231h0M778 1192h0M620 1114h0M611 1103h0M700 1132h0M628 1209h0M755 1131h0M733 1221h0M717 1209h0M775 1141h0M660 1085h0M574 1124h0M634 1151h0M620 1105h0M604 1170h0M653 1151h0M578 1145h0M565 1173h0M681 1187h0M598 1188h0M747 1123h0M590 1126h0M586 1123h0M694 1151h0M742 1231h0M737 1175h0M755 1118h0M667 1147h0M620 1115h0M570 1157h0M772 1240h0M694 1217h0M772 1185h0M750 1184h0M711 1089h0M733 1165h0M603 1169h0M763 1211h0M753 1153h0M670 1136h0M661 1202h0M674 1096h0M690 1219h0M601 1182h0M774 1231h0M642 1184h0M573 1157h0M697 1214h0M597 1185h0M785 1195h0M769 1119h0M731 1164h0M580 1177h0M751 1137h0M605 1126h0M704 1154h0M603 1117h0M723 1136h0M720 1147h0M641 1106h0M618 1106h0M750 1156h0M773 1152h0M602 1119h0M784 1184h0M690 1172h0M636 1098h0M672 1139h0M579 1140h0M677 1167h0M697 1083h0M679 1095h0M572 1216h0M728 1182h0M673 1168h0M602 1108h0M749 1114h0M702 1091h0M569 1118h0M661 1132h0M733 1135h0M708 1219h0M649 1092h0M740 1113h0M669 1103h0M600 1081h0M595 1146h0M762 1158h0M622 1114h0M695 1214h0M619 1190h0M636 1108h0M636 1103h0M568 1203h0M567 1196h0M584 1116h0M725 1209h0M626 1152h0M662 1182h0M701 1180h0M677 1133h0M762 1214h0M737 1117h0M759 1221h0M632 1075h0M782 1198h0M774 1167h0M710 1174h0M742 1207h0M605 1175h0M779 1181h0M607 1182h0M740 1155h0M572 1128h0M734 1123h0M691 1098h0M654 1211h0M624 1125h0M669 1167h0M629 1111h0M645 1178h0M783 1200h0M646 1119h0M757 1117h0M663 1184h0M755 1131h0M721 1203h0M754 1122h0M724 1215h0M701 1174h0M760 1135h0M712 1154h0M748 1188h0M713 1121h0M666 1107h0M628 1102h0M636 1080h0M749 1205h0M622 1098h0M629 1155h0M780 1157h0M714 1130h0M639 1202h0M718 1110h0M663 1089h0M579 1200h0M764 1169h0M577 1161h0M773 1234h0M656 1128h0M685 1190h0M672 1156h0M667 1143h0M751 1193h0M639 1141h0M782 1156h0M693 1096h0M748 1202h0M602 1135h0M606 1172h0M633 1166h0M757 1202h0M655 1131h0M741 1180h0M715 1136h0M605 1124h0M674 1088h0M593 1199h0M676 1096h0M602 1137h0M712 1171h0M666 1118h0M695 1145h0M664 1190h0M691 1188h0M657 1124h0M631 1213h0M775 1224h0M681 1205h0M598 1118h0M642 1134h0M735 1222h0M685 1162h0M671 1122h0M691 1131h0M724 1147h0M780 1188h0M596 1125h0M771 1230h0M667 1157h0M701 1143h0M658 1078h0M666 1111h0M652 1098h0M733 1148h0M672 1096h0M735 1139h0M588 1200h0M571 1178h0M618 1211h0M616 1136h0M621 1156h0M662 1198h0M712 1135h0M764 1158h0M783 1173h0M707 1155h0M763 1148h0M679 1198h0M729 1130h0M760 1111h0M717 1109h0M654 1101h0M745 1160h0M735 1199h0M780 1182h0M745 1129h0M693 1079h0M616 1186h0M567 1159h0M616 1075h0M720 1197h0M598 1201h0M720 1231h0M623 1199h0M601 1085h0M755 1192h0M593 1169h0M752 1169h0M698 1088h0M624 1093h0M617 1199h0M694 1107h0M622 1165h0M697 1162h0M700 1178h0M571 1188h0M623 1121h0M726 1121h0M595 1154h0M730 1143h0M736 1202h0M745 1173h0M760 1187h0M645 1169h0M773 1200h0M575 1168h0M578 1201h0M695 1176h0M579 1192h0M680 1087h0M633 1182h0M716 1171h0M660 1142h0M637 1185h0M710 1208h0M778 1221h0M617 1068h0M580 1209h0M600 1109h0M766 1184h0M726 1228h0M566 1141h0M611 1173h0M734 1155h0M597 1108h0M672 1204h0M607 1202h0M627 1209h0M663 1096h0M671 1111h0M755 1115h0M671 1101h0M774 1192h0M679 1190h0M667 1185h0M629 1079h0M650 1122h0M779 1162h0M684 1224h0M605 1119h0M594 1191h0M705 1108h0M685 1093h0M676 1177h0M700 1151h0M581 1164h0M579 1122h0M627 1196h0M627 1201h0M722 1128h0M756 1172h0M691 1111h0M739 1137h0M740 1219h0M653 1159h0M690 1065h0M742 1168h0" stroke="#ec6868" stroke-width="4.0" stroke-linecap="round" fill="none" opacity="0.9"/>
<path d="M680 1170h0M760 1155h0M706 1150h0M766 1147h0M601 1086h0M602 1157h0M581 1137h0M699 1174h0M737 1233h0M626 1138h0M738 1173h0M657 1141h0M684 1136h0M615 1126h0M583 1132h0M680 1153h0M637 1188h0M768 1172h0M733 1145h0M766 1186h0M625 1124h0M727 1175h0M766 1168h0M618 1132h0M645 1159h0M694 1181h0M737 1174h0M588 1097h0M659 1108h0M610 1141h0M658 1142h0M594 1108h0M753 1178h0M616 1156h0M762 1190h0M722 1164h0M762 1202h0M617 1129h0M621 1136h0M672 1166h0M626 1154h0M714 1120h0M590 1122h0M605 1157h0M756 1164h0M625 1128h0M745 1153h0M736 1155h0M724 1152h0M758 1172h0M685 1168h0M582 1122h0M636 1201h0M653 1156h0M636 1144h0M672 1195h0M743 1160h0M672 1123h0M749 1129h0M583 1126h0M583 1125h0M665 1109h0M677 1142h0M623 1125h0M639 1177h0M754 1171h0M751 1140h0M607 1167h0M763 1157h0M688 1106h0M687 1152h0M595 1175h0M600 1144h0M596 1127h0M635 1148h0M659 1135h0M664 1164h0M769 1169h0M740 1151h0M594 1161h0M661 1189h0M725 1165h0M706 1185h0M619 1164h0M671 1147h0M633 1148h0M679 1187h0M754 1170h0M635 1170h0M594 1105h0M632 1165h0M663 1109h0M753 1207h0M714 1164h0M594 1163h0M764 1147h0M708 1154h0M683 1127h0M683 1130h0M612 1149h0M694 1146h0M596 1135h0M762 1158h0M596 1175h0M668 1175h0M620 1190h0M727 1153h0M732 1145h0M685 1159h0M625 1164h0M752 1128h0M740 1175h0M583 1134h0M593 1154h0M696 1162h0M737 1153h0M704 1137h0M627 1140h0M664 1177h0M722 1117h0M594 1146h0M626 1143h0M651 1145h0M750 1166h0M624 1156h0M686 1153h0M617 1176h0M619 1138h0M610 1196h0M689 1109h0M753 1200h0M761 1154h0M642 1119h0M757 1140h0M641 1136h0M709 1160h0M626 1144h0M622 1176h0M598 1139h0M646 1141h0M634 1138h0M764 1175h0M759 1163h0M646 1184h0M658 1136h0M735 1150h0M619 1134h0M629 1127h0M610 1134h0M764 1141h0M610 1091h0M602 1101h0M590 1113h0M753 1097h0M760 1139h0M767 1174h0M677 1155h0M753 1119h0M607 1103h0M672 1134h0M591 1118h0M615 1154h0M588 1140h0M626 1147h0M610 1133h0M764 1180h0M729 1159h0M612 1203h0M660 1165h0M632 1148h0" stroke="#4a7fc8" stroke-width="4.0" stroke-linecap="round" fill="none" opacity="0.85"/>
<path d="M767 1191h0M798 1216h0M799 1234h0M786 1206h0M794 1233h0M785 1228h0M775 1211h0M764 1206h0M801 1217h0M786 1218h0M785 1213h0M785 1227h0M789 1226h0M796 1224h0M787 1208h0M766 1208h0M788 1231h0M804 1232h0M803 1225h0M761 1205h0M786 1243h0M767 1220h0M790 1241h0M807 1259h0M799 1234h0M799 1223h0M763 1187h0M780 1216h0M776 1212h0M773 1220h0M776 1216h0M798 1216h0M784 1228h0M796 1234h0M784 1210h0M772 1208h0M799 1235h0M790 1216h0M795 1242h0M780 1213h0" stroke="#ec6868" stroke-width="4.0" stroke-linecap="round" fill="none" opacity="1.0"/>
<path d="M666 1039h0M662 1065h0M667 1053h0M658 1065h0M667 1038h0M665 1043h0M664 1037h0M656 1074h0M657 1075h0M650 1072h0M649 1087h0M651 1059h0M654 1055h0M649 1079h0M658 1075h0M660 1069h0M660 1067h0M659 1057h0M652 1067h0M664 1057h0M662 1070h0M650 1082h0M655 1069h0M659 1072h0M662 1046h0M653 1074h0M661 1065h0M662 1053h0M657 1077h0M653 1085h0M654 1095h0M667 1047h0M667 1070h0M650 1083h0M663 1048h0M658 1054h0M663 1053h0M669 1029h0M661 1078h0M652 1082h0M667 1044h0M665 1046h0M662 1082h0M651 1089h0M650 1084h0M660 1065h0M656 1068h0M647 1095h0M658 1042h0M661 1066h0M660 1091h0M653 1085h0M659 1086h0M656 1069h0M661 1070h0M655 1090h0M652 1089h0M657 1056h0M650 1100h0M653 1098h0M659 1070h0M645 1086h0M660 1087h0M663 1066h0M653 1084h0M655 1060h0M664 1049h0M661 1059h0M659 1078h0M655 1083h0M651 1071h0M662 1051h0M659 1059h0M652 1090h0M657 1062h0M655 1075h0M665 1059h0M658 1053h0M656 1095h0M661 1051h0M649 1078h0M651 1074h0M669 1037h0M669 1030h0M666 1065h0M651 1078h0M648 1084h0M668 1061h0M654 1086h0M654 1050h0M649 1086h0M654 1078h0M666 1059h0M658 1098h0M655 1063h0M664 1060h0M654 1084h0M655 1070h0M661 1045h0M655 1059h0M649 1088h0M659 1058h0M655 1086h0M650 1069h0M659 1084h0M660 1056h0M655 1086h0M660 1050h0M651 1083h0M655 1079h0M733 1077h0M737 1090h0M728 1135h0M732 1104h0M739 1037h0M742 1048h0M722 1103h0M731 1086h0M724 1089h0M732 1042h0M734 1085h0M733 1086h0M731 1059h0M735 1082h0M729 1083h0M729 1083h0M733 1060h0M725 1131h0M731 1122h0M735 1075h0M729 1070h0M726 1107h0M725 1109h0M729 1120h0M735 1049h0M733 1074h0M720 1122h0M731 1081h0M728 1065h0M722 1104h0M727 1110h0M731 1060h0M735 1048h0M736 1049h0M734 1045h0M736 1050h0M731 1086h0M733 1048h0M730 1040h0M730 1129h0M736 1066h0M736 1069h0M729 1034h0M725 1085h0M729 1104h0M731 1104h0M726 1121h0M732 1115h0M729 1040h0M736 1052h0M721 1075h0M724 1107h0M719 1134h0M728 1127h0M722 1130h0M726 1120h0M733 1099h0M731 1045h0M730 1124h0M729 1041h0M734 1096h0M722 1123h0M723 1095h0M731 1095h0M733 1111h0M723 1061h0M730 1120h0M733 1118h0M729 1099h0M718 1129h0M722 1113h0M728 1117h0M720 1076h0M738 1059h0M743 1039h0M719 1120h0M720 1112h0M733 1091h0M721 1129h0M734 1071h0M722 1131h0M727 1076h0M729 1086h0M737 1039h0M737 1042h0M726 1112h0M739 1056h0M742 1046h0M737 1053h0M718 1123h0M724 1102h0M731 1070h0M733 1077h0M737 1079h0M723 1123h0M731 1133h0M727 1048h0M735 1036h0M729 1073h0M724 1116h0M738 1056h0M729 1070h0M728 1101h0M734 1127h0M734 1053h0M725 1057h0M722 1108h0M722 1121h0M729 1111h0M732 1066h0M717 1119h0M721 1119h0M726 1056h0M730 1071h0M736 1045h0M728 1096h0M732 1084h0M727 1088h0M725 1128h0M738 1060h0M730 1117h0M730 1054h0M732 1045h0M731 1121h0M734 1042h0M724 1106h0M727 1138h0M724 1076h0M734 1057h0M732 1038h0M734 1062h0M742 1069h0M729 1092h0M724 1083h0M726 1037h0M733 1061h0M725 1115h0M720 1107h0M727 1085h0M733 1054h0M729 1034h0M732 1056h0M731 1090h0M727 1073h0M740 1054h0M724 1089h0M721 1107h0M734 1097h0M725 1099h0M728 1053h0M724 1099h0M728 1134h0M730 1051h0M724 1114h0M725 1034h0M727 1036h0M727 1082h0M721 1088h0M728 1080h0M732 1110h0M731 1075h0M737 1070h0M727 1059h0M737 1038h0M726 1093h0M731 1102h0M723 1093h0M731 1082h0M732 1109h0M732 1063h0M726 1132h0M729 1076h0M721 1050h0M721 1118h0M723 1109h0M733 1093h0M734 1046h0M721 1115h0M736 1069h0M734 1053h0M718 1111h0M732 1123h0M727 1129h0M745 1058h0M730 1128h0M718 1121h0M738 1060h0M726 1127h0M730 1064h0M728 1113h0M733 1087h0M730 1065h0M725 1076h0M738 1029h0M727 1122h0M727 1051h0M738 1063h0M726 1100h0M737 1095h0M733 1126h0M727 1098h0M730 1117h0M724 1087h0M734 1058h0M716 1119h0M726 1060h0M726 1113h0M733 1083h0M738 1047h0M734 1098h0M736 1073h0M729 1076h0M729 1078h0M723 1093h0M728 1104h0M718 1107h0M725 1082h0M736 1089h0M728 1091h0M722 1111h0M733 1080h0M726 1123h0M733 1052h0M725 1106h0M722 1104h0M731 1075h0M735 1025h0M729 1090h0M738 1078h0M726 1121h0M729 1101h0M735 1102h0M737 1053h0M717 1102h0M732 1057h0M722 1114h0M725 1100h0M739 1044h0M733 1130h0M728 1116h0M717 1079h0M728 1075h0M729 1076h0M731 1040h0M740 1059h0M734 1057h0M728 1130h0M731 1079h0M736 1069h0M726 1109h0M728 1038h0M729 1087h0M724 1101h0M719 1099h0M722 1058h0M728 1068h0M726 1098h0M737 1101h0M724 1099h0M724 1100h0M733 1047h0M733 1088h0M727 1038h0M731 1048h0M732 1125h0M739 1074h0M727 1083h0M716 1135h0M727 1109h0M731 1057h0M736 1071h0M732 1098h0M733 1037h0M720 1131h0M727 1116h0M727 1062h0M729 1047h0M724 1137h0M737 1108h0M735 1125h0M755 1090h0M749 1088h0M753 1101h0M753 1097h0M747 1059h0M748 1089h0M745 1070h0M747 1072h0M750 1087h0M756 1098h0M752 1105h0M745 1071h0M746 1086h0M747 1095h0M752 1090h0M750 1078h0M756 1098h0M747 1066h0M749 1103h0M757 1102h0M752 1073h0M751 1062h0M745 1083h0M746 1061h0M750 1086h0M752 1100h0M741 1099h0M752 1101h0M746 1054h0M753 1075h0M749 1100h0M747 1055h0M746 1066h0M746 1084h0M750 1075h0M754 1054h0M747 1089h0M752 1045h0M753 1054h0M740 1059h0M808 1107h0M813 1114h0M794 1177h0M809 1157h0M808 1079h0M810 1092h0M820 1067h0M799 1170h0M789 1175h0M810 1127h0M816 1091h0M820 1099h0M804 1126h0M826 1051h0M807 1117h0M797 1155h0M815 1084h0M813 1082h0M812 1088h0M827 1065h0M806 1094h0M809 1117h0M806 1140h0M815 1118h0M815 1069h0M790 1151h0M801 1171h0M797 1147h0M799 1153h0M802 1118h0M787 1163h0M803 1118h0M807 1105h0M804 1079h0M818 1107h0M815 1066h0M812 1119h0M805 1147h0M794 1148h0M815 1067h0M808 1100h0M794 1169h0M794 1168h0M797 1165h0M810 1112h0M808 1112h0M805 1112h0M799 1102h0M808 1112h0M815 1068h0M811 1104h0M801 1125h0M797 1164h0M793 1156h0M811 1092h0M801 1133h0M803 1143h0M806 1185h0M810 1118h0M800 1139h0M800 1144h0M801 1146h0M812 1088h0M801 1148h0M798 1153h0M805 1120h0M817 1088h0M799 1166h0M814 1125h0M813 1093h0M800 1159h0M819 1112h0M783 1176h0M816 1080h0M808 1113h0M802 1145h0M788 1171h0M800 1127h0M795 1131h0M796 1152h0M806 1056h0M823 1059h0M807 1099h0M803 1099h0M823 1078h0M795 1162h0M789 1168h0M809 1115h0M805 1111h0M793 1124h0M796 1164h0M817 1101h0M792 1127h0M794 1154h0M802 1149h0M818 1065h0M809 1126h0M792 1169h0M802 1174h0M817 1061h0M802 1138h0M798 1164h0M805 1122h0M798 1138h0M798 1144h0M812 1062h0M793 1153h0M795 1133h0M809 1120h0M813 1096h0M791 1132h0M791 1167h0M818 1063h0M795 1146h0M807 1124h0M809 1089h0M811 1098h0M812 1064h0M800 1147h0M798 1166h0M808 1164h0M817 1099h0M804 1127h0M802 1135h0M811 1096h0M800 1149h0M791 1122h0M794 1164h0M797 1170h0M817 1061h0M794 1128h0M786 1160h0M805 1077h0M819 1088h0M821 1071h0M810 1128h0M814 1072h0M798 1140h0M809 1070h0M815 1078h0M800 1111h0M799 1129h0M810 1121h0M813 1118h0M810 1086h0M800 1169h0M805 1134h0M811 1095h0M800 1105h0M793 1180h0M798 1152h0M797 1171h0M798 1163h0M819 1056h0M815 1078h0M797 1129h0M820 1061h0M810 1066h0M812 1096h0M800 1127h0M808 1094h0M812 1074h0M797 1146h0M806 1136h0M797 1135h0M816 1075h0M808 1116h0M812 1141h0M816 1098h0M808 1081h0M811 1071h0M803 1127h0M805 1127h0M802 1115h0M797 1176h0M804 1086h0M791 1137h0M805 1102h0M803 1144h0M819 1079h0M806 1112h0M800 1188h0M808 1123h0M799 1150h0M802 1175h0M810 1104h0M790 1168h0M799 1150h0M793 1147h0M818 1087h0M802 1119h0M787 1158h0M823 1065h0M812 1095h0M796 1159h0M799 1157h0M813 1092h0M812 1087h0M801 1144h0M821 1081h0M792 1178h0M797 1157h0M806 1157h0M794 1163h0M796 1147h0M809 1093h0M822 1068h0M796 1140h0M792 1180h0M813 1070h0M801 1183h0M808 1143h0M820 1058h0M822 1072h0M807 1078h0M801 1111h0M801 1149h0M809 1138h0M805 1087h0M811 1106h0M792 1166h0M811 1087h0M804 1127h0M808 1078h0M815 1104h0M814 1062h0M793 1180h0M809 1067h0M808 1086h0M786 1155h0M825 1070h0M815 1150h0M800 1147h0M819 1064h0M807 1156h0M797 1138h0M813 1095h0M788 1178h0M809 1119h0M817 1069h0M810 1119h0M821 1075h0M797 1125h0M799 1136h0M799 1151h0M806 1123h0M797 1162h0M810 1099h0M823 1055h0M807 1093h0M805 1117h0M816 1064h0M802 1111h0M804 1154h0M805 1163h0M803 1127h0M815 1113h0M805 1160h0M812 1080h0M803 1122h0M794 1158h0M812 1110h0M807 1146h0M803 1115h0M784 1172h0M802 1127h0M821 1067h0M798 1157h0M814 1078h0M796 1120h0M802 1144h0M806 1102h0M795 1168h0M813 1091h0M801 1130h0M788 1174h0M795 1167h0M818 1076h0M809 1147h0M801 1136h0M795 1137h0M811 1133h0M803 1163h0M800 1130h0M815 1069h0M811 1084h0M801 1172h0M817 1073h0M826 1061h0M809 1106h0M797 1142h0M799 1152h0M788 1157h0M794 1149h0M795 1180h0M790 1167h0M806 1112h0M807 1070h0M809 1109h0M807 1077h0M823 1167h0M823 1186h0M836 1177h0M831 1184h0M829 1178h0M823 1168h0M824 1186h0M829 1167h0M822 1174h0M831 1158h0M823 1170h0M833 1176h0M824 1183h0M820 1186h0M835 1156h0M832 1160h0M830 1184h0M820 1184h0M826 1165h0M827 1166h0M823 1160h0M824 1191h0M825 1186h0M828 1162h0M823 1186h0M822 1170h0M830 1168h0M831 1178h0M819 1189h0M823 1169h0M825 1173h0M825 1169h0M821 1195h0M823 1176h0M824 1159h0M823 1164h0M829 1184h0M822 1167h0M827 1195h0M821 1190h0M830 1172h0M825 1173h0M822 1161h0M829 1172h0M824 1180h0M823 1179h0M834 1176h0M836 1159h0M822 1180h0M829 1171h0M826 1163h0M822 1180h0M828 1173h0M832 1167h0M831 1170h0M824 1167h0M829 1169h0M829 1187h0M815 1181h0M824 1179h0M830 1123h0M840 1130h0M829 1141h0M836 1127h0M840 1133h0M835 1127h0M837 1131h0M829 1131h0" stroke="#111" stroke-width="3.8" stroke-linecap="round" fill="none" opacity="0.92"/>
<path d="M1089.0 1033.4 L1089.0 1033.4 L1089.0 1037.4 L1082.8 1037.4 L1082.8 1041.4 L1081.0 1041.4 L1081.0 1045.4 L1079.9 1045.4 L1079.9 1049.4 L1076.9 1049.4 L1076.9 1053.4 L1075.2 1053.4 L1075.2 1057.4 L1074.0 1057.4 L1074.0 1061.4 L1070.8 1061.4 L1070.8 1065.4 L1068.5 1065.4 L1068.5 1069.4 L1066.3 1069.4 L1066.3 1073.4 L1065.2 1073.4 L1065.2 1077.4 L1063.1 1077.4 L1063.1 1081.4 L1063.3 1081.4 L1063.3 1085.4 L1061.1 1085.4 L1061.1 1089.4 L1059.9 1089.4 L1059.9 1093.4 L1056.0 1093.4 L1056.0 1097.4 L1054.6 1097.4 L1054.6 1101.4 L1053.0 1101.4 L1053.0 1105.4 L1051.8 1105.4 L1051.8 1109.4 L1048.5 1109.4 L1048.5 1113.4 L1046.5 1113.4 L1046.5 1117.4 L1046.2 1117.4 L1046.2 1121.4 L1041.8 1121.4 L1041.8 1125.4 L1041.5 1125.4 L1041.5 1129.4 L1049.1 1129.4 L1049.1 1133.4 L1046.4 1133.4 L1046.4 1137.4 L1041.4 1137.4 L1041.4 1141.4 L1041.1 1141.4 L1041.1 1145.4 L1038.7 1145.4 L1038.7 1149.4 L1038.3 1149.4 L1038.3 1153.4 L1033.3 1153.4 L1033.3 1157.4 L1041.2 1157.4 L1041.2 1161.4 L1039.2 1161.4 L1039.2 1165.4 L1032.8 1165.4 L1032.8 1169.4 L1036.2 1169.4 L1036.2 1173.4 L1035.9 1173.4 L1035.9 1177.4 L1038.7 1177.4 L1038.7 1181.4 L1041.5 1181.4 L1041.5 1185.4 L1036.6 1185.4 L1036.6 1189.4 L1036.9 1189.4 L1036.9 1193.4 L1040.6 1193.4 L1040.6 1197.4 L1039.4 1197.4 L1039.4 1201.4 L1038.0 1201.4 L1038.0 1205.4 L1040.4 1205.4 L1040.4 1209.4 L1038.5 1209.4 L1038.5 1213.4 L1038.2 1213.4 L1038.2 1217.4 L1038.6 1217.4 L1038.6 1221.4 L1040.1 1221.4 L1040.1 1225.4 L1037.9 1225.4 L1037.9 1229.4 L1038.5 1229.4 L1038.5 1233.4 L1041.2 1233.4 L1041.2 1237.4 L1045.1 1237.4 L1045.1 1241.4 L1042.8 1241.4 L1042.8 1245.4 L1046.8 1245.4 L1046.8 1249.4 L1045.2 1249.4 L1045.2 1253.4 L1051.5 1253.4 L1051.5 1257.4 L1050.0 1257.4 L1050.0 1261.4 L1054.1 1261.4 L1054.1 1265.4 L1058.3 1265.4 L1058.3 1269.4 L1058.8 1269.4 L1058.8 1273.4 L1060.3 1273.4 L1060.3 1277.4 L1062.0 1277.4 L1062.0 1281.4 L1065.7 1281.4 L1065.7 1285.4 L1069.0 1285.4 L1069.0 1289.4 L1071.5 1289.4 L1071.5 1293.4 L1075.9 1293.4 L1075.9 1297.4 L1079.4 1297.4 L1079.4 1301.4 L1087.0 1301.4 L1089.0 1301.4Z" fill="#7d7d7d"/>
<path d="M1089.0 1134.5 L1089.0 1134.5 L1089.0 1138.5 L1010.7 1138.5 L1010.7 1142.5 L995.1 1142.5 L995.1 1146.5 L992.2 1146.5 L992.2 1150.5 L965.5 1150.5 L965.5 1154.5 L967.5 1154.5 L967.5 1158.5 L984.1 1158.5 L984.1 1162.5 L983.7 1162.5 L983.7 1166.5 L978.7 1166.5 L978.7 1170.5 L976.0 1170.5 L976.0 1174.5 L959.8 1174.5 L959.8 1178.5 L963.3 1178.5 L963.3 1182.5 L964.4 1182.5 L964.4 1186.5 L967.7 1186.5 L967.7 1190.5 L959.0 1190.5 L959.0 1194.5 L961.7 1194.5 L961.7 1198.5 L969.2 1198.5 L969.2 1202.5 L987.8 1202.5 L987.8 1206.5 L995.0 1206.5 L995.0 1210.5 L1008.8 1210.5 L1008.8 1214.5 L1010.7 1214.5 L1010.7 1218.5 L1010.7 1218.5 L1010.7 1222.5 L1007.6 1222.5 L1007.6 1226.5 L1010.5 1226.5 L1010.5 1230.5 L1022.2 1230.5 L1022.2 1234.5 L1022.3 1234.5 L1022.3 1238.5 L1023.2 1238.5 L1023.2 1242.5 L1038.4 1242.5 L1038.4 1246.5 L1043.1 1246.5 L1043.1 1250.5 L1047.1 1250.5 L1047.1 1254.5 L1046.9 1254.5 L1046.9 1258.5 L1053.3 1258.5 L1053.3 1262.5 L1056.8 1262.5 L1056.8 1266.5 L1062.5 1266.5 L1062.5 1270.5 L1068.1 1270.5 L1068.1 1274.5 L1073.2 1274.5 L1073.2 1278.5 L1078.9 1278.5 L1078.9 1282.5 L1084.1 1282.5 L1089.0 1282.5Z" fill="#3f80c4" fill-opacity="0.78"/>
<path d="M1089.0 1062.5 L1089.0 1062.5 L1089.0 1066.5 L1085.3 1066.5 L1085.3 1070.5 L1082.3 1070.5 L1082.3 1074.5 L1080.3 1074.5 L1080.3 1078.5 L1078.0 1078.5 L1078.0 1082.5 L1075.2 1082.5 L1075.2 1086.5 L1074.0 1086.5 L1074.0 1090.5 L1069.9 1090.5 L1069.9 1094.5 L1068.0 1094.5 L1068.0 1098.5 L1058.7 1098.5 L1058.7 1102.5 L1054.4 1102.5 L1054.4 1106.5 L1047.3 1106.5 L1047.3 1110.5 L1043.0 1110.5 L1043.0 1114.5 L1040.8 1114.5 L1040.8 1118.5 L1038.7 1118.5 L1038.7 1122.5 L1034.6 1122.5 L1034.6 1126.5 L1030.9 1126.5 L1030.9 1130.5 L1031.7 1130.5 L1031.7 1134.5 L1005.2 1134.5 L1005.2 1138.5 L1003.0 1138.5 L1003.0 1142.5 L995.2 1142.5 L995.2 1146.5 L981.1 1146.5 L981.1 1150.5 L984.4 1150.5 L984.4 1154.5 L988.2 1154.5 L988.2 1158.5 L988.3 1158.5 L988.3 1162.5 L988.5 1162.5 L988.5 1166.5 L980.7 1166.5 L980.7 1170.5 L974.7 1170.5 L974.7 1174.5 L962.8 1174.5 L962.8 1178.5 L947.9 1178.5 L947.9 1182.5 L962.5 1182.5 L962.5 1186.5 L959.3 1186.5 L959.3 1190.5 L949.9 1190.5 L949.9 1194.5 L950.2 1194.5 L950.2 1198.5 L966.7 1198.5 L966.7 1202.5 L978.0 1202.5 L978.0 1206.5 L1013.1 1206.5 L1013.1 1210.5 L1021.2 1210.5 L1021.2 1214.5 L1049.2 1214.5 L1049.2 1218.5 L1053.7 1218.5 L1053.7 1222.5 L1053.3 1222.5 L1053.3 1226.5 L1055.9 1226.5 L1055.9 1230.5 L1061.0 1230.5 L1061.0 1234.5 L1065.5 1234.5 L1065.5 1238.5 L1070.3 1238.5 L1070.3 1242.5 L1076.5 1242.5 L1076.5 1246.5 L1079.9 1246.5 L1079.9 1250.5 L1083.6 1250.5 L1083.6 1254.5 L1088.0 1254.5 L1089.0 1254.5Z" fill="#ee7a80" fill-opacity="0.7"/>
</g>
<path d="M273.7 1047V1120" stroke="#111" stroke-width="2.6" fill="none"/>
<path d="M260.5 1117.5H288.5L274.5 1144Z" fill="#0a0a0a"/>
<path d="M1029.5 1273.5V1204" stroke="#111" stroke-width="2.6" fill="none"/>
<path d="M1016.8 1206H1043L1029.8 1179.5Z" fill="#0a0a0a"/>
<circle cx="790.5" cy="938" r="9.7" fill="#1f66c0"/>
<text x="834.7" y="947.7" class="t" text-anchor="start" style="font-size:49px">z = 4 mm</text>
<circle cx="790.5" cy="994.6" r="9.7" fill="#e86060"/>
<text x="834.7" y="1007.6" class="t" text-anchor="start" style="font-size:49px">z = 5 mm</text>
<circle cx="790.5" cy="1054" r="9.7" fill="#050505"/>
<text x="834.7" y="1068.7" class="t" text-anchor="start" style="font-size:49px">z = 7.9 mm</text>
<rect x="253.0" y="894.0" width="838.0" height="579.5" fill="none" stroke="#1c1c1c" stroke-width="4.3"/>
<text x="20.5" y="860.3" class="pl" text-anchor="start" >(c)</text>
<text x="179.5" y="924.8" text-anchor="start" style="font-size:66px;">20</text>
<text x="212.5" y="1205.5" text-anchor="start" style="font-size:66px;">0</text>
<line x1="253.0" y1="1183.5" x2="265.0" y2="1183.5" stroke="#222" stroke-width="3" />
<text y="1489.7" text-anchor="start" style="font-size:66px;"><tspan x="130.6" dy="2.2" textLength="49.1" lengthAdjust="spacingAndGlyphs">−</tspan><tspan x="179.5" dy="-2.2">20</tspan></text>
<text transform="translate(106.5 1188.2) rotate(-90)" class="t" text-anchor="middle" style="font-size:65.3px">Relative energy (MeV)</text>
<text y="1538.5" text-anchor="start" style="font-size:66px;"><tspan x="341.7" dy="2.2" textLength="49.1" lengthAdjust="spacingAndGlyphs">−</tspan><tspan x="390.6" dy="-2.2">22</tspan></text>
<line x1="422.0" y1="1461.5" x2="422.0" y2="1473.5" stroke="#222" stroke-width="3" />
<text y="1538.5" text-anchor="start" style="font-size:66px;"><tspan x="504.4" dy="2.2" textLength="49.1" lengthAdjust="spacingAndGlyphs">−</tspan><tspan x="553.3" dy="-2.2">21.5</tspan></text>
<line x1="587.8" y1="1461.5" x2="587.8" y2="1473.5" stroke="#222" stroke-width="3" />
<text y="1538.5" text-anchor="start" style="font-size:66px;"><tspan x="685.1" dy="2.2" textLength="49.1" lengthAdjust="spacingAndGlyphs">−</tspan><tspan x="734.0" dy="-2.2">21</tspan></text>
<line x1="755.0" y1="1461.5" x2="755.0" y2="1473.5" stroke="#222" stroke-width="3" />
<text y="1538.5" text-anchor="start" style="font-size:66px;"><tspan x="832.7" dy="2.2" textLength="49.1" lengthAdjust="spacingAndGlyphs">−</tspan><tspan x="881.6" dy="-2.2">20.5</tspan></text>
<line x1="922.0" y1="1461.5" x2="922.0" y2="1473.5" stroke="#222" stroke-width="3" />
<text y="1620.5" text-anchor="start" class="t" xml:space="preserve"><tspan x="577" font-style="italic">ξ</tspan><tspan x="623.0">  (μm)</tspan></text>
</g>
<g id="pd">
<clipPath id="clipd"><rect x="1442.5" y="883.2" width="692.3000000000002" height="591.3999999999999"/></clipPath>
<g clip-path="url(#clipd)">
<path d="M1479.8 877.8 C1480.0 878.6 1480.1 871.2 1480.6 882.8 C1481.1 894.5 1481.9 924.0 1482.5 947.9 C1483.2 971.7 1483.7 999.8 1484.5 1025.7 C1485.3 1051.7 1486.4 1077.6 1487.6 1103.6 C1488.8 1129.5 1490.1 1158.7 1491.5 1181.4 C1492.9 1204.1 1494.4 1221.6 1496.2 1239.8 C1497.9 1258.0 1500.1 1275.5 1502.0 1290.4 C1504.0 1305.3 1505.9 1317.6 1507.9 1329.3 C1509.8 1341.0 1511.4 1352.7 1513.7 1360.5 C1516.0 1368.2 1518.6 1371.5 1521.5 1376.0 C1524.4 1380.6 1527.6 1383.5 1531.2 1387.7 C1534.8 1391.9 1539.6 1400.0 1542.9 1401.3 C1546.1 1402.6 1547.4 1397.4 1550.7 1395.5 C1553.9 1393.6 1558.5 1389.7 1562.3 1389.7 C1566.2 1389.7 1570.1 1394.2 1574.0 1395.5 C1577.9 1396.8 1581.8 1397.1 1585.7 1397.4 C1589.6 1397.8 1593.5 1396.1 1597.4 1397.4 C1601.3 1398.7 1604.5 1402.3 1609.1 1405.2 C1613.6 1408.1 1619.4 1412.4 1624.6 1415.0 C1629.8 1417.6 1635.0 1418.5 1640.2 1420.8 C1645.4 1423.1 1650.6 1425.7 1655.8 1428.6 C1661.0 1431.5 1666.1 1436.0 1671.3 1438.3 C1676.5 1440.6 1681.7 1441.0 1686.9 1442.2 C1692.1 1443.4 1696.6 1443.9 1702.5 1445.3 C1708.3 1446.7 1715.5 1449.5 1721.9 1450.8 C1728.4 1452.0 1734.3 1452.4 1741.4 1452.7 C1748.5 1453.0 1758.3 1452.7 1764.8 1452.7 C1771.2 1452.7 1771.0 1452.5 1780.0 1452.7 C1789.0 1452.9 1799.5 1453.7 1818.9 1453.9 C1838.4 1454.1 1870.8 1454.1 1896.8 1453.9 C1922.7 1453.7 1948.7 1453.0 1974.6 1452.7 C2000.6 1452.4 2033.0 1452.3 2052.5 1451.9 C2071.9 1451.6 2077.7 1451.0 2091.4 1450.8 C2105.2 1450.6 2127.7 1450.8 2135.0 1450.8" fill="none" stroke="#e8484c" stroke-width="5" stroke-linejoin="round" />
<path d="M1467.0 1378.0 L1470.9 1337.1 L1476.7 1298.2 L1487.2 1289.6 L1494.2 1309.9 L1502.0 1333.2 L1509.8 1356.6 L1517.6 1364.4 L1525.4 1361.2 L1533.2 1352.7 L1542.9 1352.7 L1550.7 1337.1 L1562.3 1307.9 L1579.9 1294.3 L1589.6 1280.7 L1599.3 1270.9 L1609.1 1274.8 L1618.8 1288.5 L1628.5 1292.3 L1640.2 1294.3 L1649.9 1300.1 L1657.7 1309.9 L1667.4 1327.4 L1679.1 1339.1 L1690.8 1344.9 L1702.5 1345.7 L1714.2 1352.7 L1725.8 1362.4 L1741.4 1363.6 L1757.0 1361.2 L1768.7 1359.3 L1778.4 1364.4 L1780.0 1365.1 L1787.8 1366.3 L1803.4 1361.2 L1830.6 1354.6 L1846.2 1353.8 L1877.3 1345.7 L1908.5 1336.3 L1935.7 1327.4 L1947.4 1326.2 L1978.5 1320.8 L2013.6 1309.1 L2044.7 1304.0 L2071.9 1296.2 L2099.2 1288.5 L2118.7 1286.5 L2135.0 1284.9" fill="none" stroke="#0a0a0a" stroke-width="6.3" stroke-linejoin="round" stroke-linecap="butt" />
<path d="M1468.9 1463.6 C1470.2 1463.0 1473.2 1463.7 1476.7 1459.7 C1480.2 1455.7 1485.0 1447.0 1490.0 1439.6 C1495.0 1432.1 1501.0 1423.0 1506.6 1415.2 C1512.1 1407.5 1517.6 1400.3 1523.1 1393.3 C1528.6 1386.3 1534.2 1379.8 1539.7 1373.4 C1545.2 1367.0 1550.7 1361.0 1556.3 1355.1 C1561.8 1349.3 1567.3 1343.7 1572.8 1338.3 C1578.3 1332.8 1583.9 1327.6 1589.4 1322.5 C1594.9 1317.4 1600.4 1312.5 1605.9 1307.6 C1611.5 1302.8 1617.0 1298.1 1622.5 1293.4 C1628.0 1288.8 1633.6 1284.3 1639.1 1279.8 C1644.6 1275.3 1650.1 1270.8 1655.6 1266.4 C1661.2 1262.1 1666.7 1257.7 1672.2 1253.4 C1677.7 1249.1 1683.2 1244.8 1688.8 1240.5 C1694.3 1236.2 1699.8 1231.9 1705.3 1227.7 C1710.9 1223.4 1716.4 1219.2 1721.9 1214.9 C1727.4 1210.6 1732.9 1206.4 1738.5 1202.1 C1744.0 1197.9 1749.5 1193.6 1755.0 1189.4 C1760.5 1185.1 1766.1 1180.8 1771.6 1176.6 C1777.1 1172.3 1782.6 1168.1 1788.2 1163.8 C1793.7 1159.6 1799.2 1155.3 1804.7 1151.1 C1810.2 1146.9 1815.8 1142.7 1821.3 1138.5 C1826.8 1134.3 1832.3 1130.1 1837.8 1126.0 C1843.4 1121.9 1848.9 1117.8 1854.4 1113.7 C1859.9 1109.7 1865.5 1105.7 1871.0 1101.7 C1876.5 1097.8 1882.0 1093.9 1887.5 1090.0 C1893.1 1086.2 1898.6 1082.4 1904.1 1078.8 C1909.6 1075.1 1915.1 1071.5 1920.7 1068.0 C1926.2 1064.5 1931.7 1061.1 1937.2 1057.8 C1942.8 1054.5 1948.3 1051.3 1953.8 1048.2 C1959.3 1045.1 1964.8 1042.1 1970.4 1039.3 C1975.9 1036.5 1981.4 1033.8 1986.9 1031.2 C1992.4 1028.7 1998.0 1026.2 2003.5 1024.0 C2009.0 1021.7 2014.5 1019.5 2020.1 1017.6 C2025.6 1015.6 2031.1 1013.8 2036.6 1012.1 C2042.1 1010.5 2047.7 1009.0 2053.2 1007.6 C2058.7 1006.3 2064.2 1005.1 2069.7 1004.1 C2075.3 1003.1 2080.8 1002.2 2086.3 1001.6 C2091.8 1000.9 2097.4 1000.3 2102.9 1000.0 C2108.4 999.6 2113.9 999.4 2119.4 999.3 C2125.0 999.3 2133.2 999.5 2136.0 999.6" fill="none" stroke="#2474c4" stroke-width="5.6" stroke-linejoin="round" />
</g>
<line x1="1442.5" y1="1383.8" x2="1455.5" y2="1383.8" stroke="#333" stroke-width="2.6" />
<line x1="1442.5" y1="1293.1" x2="1455.5" y2="1293.1" stroke="#333" stroke-width="2.6" />
<line x1="1442.5" y1="1202.4" x2="1455.5" y2="1202.4" stroke="#333" stroke-width="2.6" />
<line x1="1442.5" y1="1111.7" x2="1455.5" y2="1111.7" stroke="#333" stroke-width="2.6" />
<line x1="1442.5" y1="1021.0" x2="1455.5" y2="1021.0" stroke="#333" stroke-width="2.6" />
<line x1="1442.5" y1="930.3" x2="1455.5" y2="930.3" stroke="#333" stroke-width="2.6" />
<line x1="1672.0" y1="1462.6" x2="1672.0" y2="1474.6" stroke="#333" stroke-width="2.5" />
<line x1="1899.5" y1="1462.6" x2="1899.5" y2="1474.6" stroke="#333" stroke-width="2.5" />
<line x1="2124.5" y1="1462.6" x2="2124.5" y2="1474.6" stroke="#333" stroke-width="2.5" />
<line x1="2121.8" y1="1473.0" x2="2134.8" y2="1473.0" stroke="#444" stroke-width="2" />
<line x1="2121.8" y1="1357.7" x2="2134.8" y2="1357.7" stroke="#444" stroke-width="2" />
<line x1="2121.8" y1="1242.4" x2="2134.8" y2="1242.4" stroke="#444" stroke-width="2" />
<line x1="2121.8" y1="1127.1" x2="2134.8" y2="1127.1" stroke="#444" stroke-width="2" />
<line x1="2121.8" y1="1011.8" x2="2134.8" y2="1011.8" stroke="#444" stroke-width="2" />
<line x1="2121.8" y1="896.5" x2="2134.8" y2="896.5" stroke="#444" stroke-width="2" />
<line x1="1651.0" y1="921.4" x2="1753.0" y2="921.4" stroke="#2474c4" stroke-width="8.5" />
<text x="1772.5" y="936.0" class="t" text-anchor="start" style="font-size:56px">Energy</text>
<line x1="1651.0" y1="986.8" x2="1753.0" y2="986.8" stroke="#0a0a0a" stroke-width="9" />
<text x="1772.5" y="1004.3" class="t" text-anchor="start" style="font-size:56px">AES</text>
<line x1="1651.0" y1="1052.2" x2="1753.0" y2="1052.2" stroke="#e8484c" stroke-width="8.5" />
<text x="1772.5" y="1071.6" class="t" text-anchor="start" style="font-size:56px">RES</text>
<rect x="1442.5" y="883.2" width="692.3" height="591.4" fill="none" stroke="#0c0c0c" stroke-width="4.3"/>
<text x="1224.0" y="875.0" class="pl" text-anchor="start" >(d)</text>
<text x="1356.5" y="949.5" text-anchor="start" style="font-size:63px;">12</text>
<text x="1356.5" y="1039.4" text-anchor="start" style="font-size:63px;">10</text>
<text x="1388.0" y="1129.3" text-anchor="start" style="font-size:63px;">8</text>
<text x="1388.0" y="1219.2" text-anchor="start" style="font-size:63px;">6</text>
<text x="1388.0" y="1309.1" text-anchor="start" style="font-size:63px;">4</text>
<text x="1388.0" y="1399.0" text-anchor="start" style="font-size:63px;">2</text>
<text x="1388.0" y="1488.9" text-anchor="start" style="font-size:63px;">0</text>
<text x="1422.8" y="1538.6" text-anchor="start" style="font-size:63.5px;">2</text>
<text x="1655.1" y="1538.6" text-anchor="start" style="font-size:63.5px;">4</text>
<text x="1885.6" y="1538.6" text-anchor="start" style="font-size:63.5px;">6</text>
<text x="2116.6" y="1538.6" text-anchor="start" style="font-size:63.5px;">8</text>
<text x="1776.0" y="1617.5" class="t" text-anchor="middle" style="font-size:65px">z (mm)</text>
<text transform="translate(1315.0 1191.0) rotate(-90)" class="t" text-anchor="middle" style="font-size:64.8px">AES (MeV), <tspan fill="#dd3f45">RES (%)</tspan></text>
<text x="2155.5" y="924.5" text-anchor="start" style="font-size:64px;fill:#2474c4;">1000</text>
<text x="2155.5" y="1037.4" text-anchor="start" style="font-size:64px;fill:#2474c4;">800</text>
<text x="2155.5" y="1150.3" text-anchor="start" style="font-size:64px;fill:#2474c4;">600</text>
<text x="2155.5" y="1263.2" text-anchor="start" style="font-size:64px;fill:#2474c4;">400</text>
<text x="2155.5" y="1376.1" text-anchor="start" style="font-size:64px;fill:#2474c4;">200</text>
<text x="2155.5" y="1489.0" text-anchor="start" style="font-size:64px;fill:#2474c4;">0</text>
<text transform="translate(2323.0 1196.3) rotate(90)" class="t" text-anchor="middle" style="fill:#2474c4;font-size:65.5px">Energy (MeV)</text>
</g>
</svg></body></html>
